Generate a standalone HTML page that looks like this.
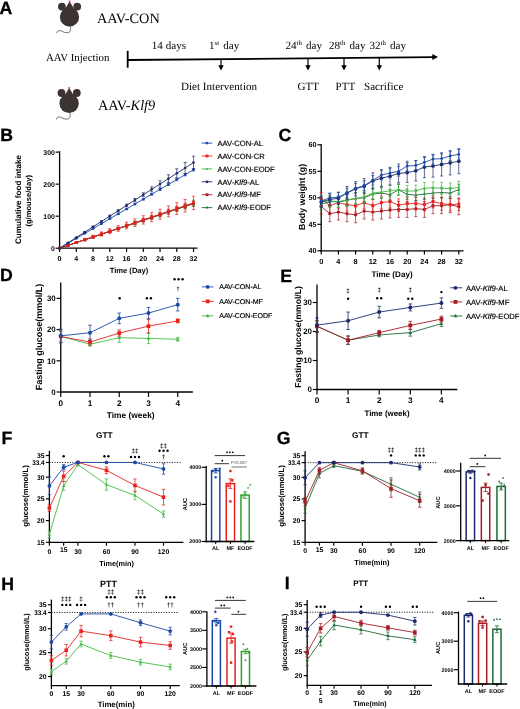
<!DOCTYPE html>
<html><head><meta charset="utf-8"><style>
html,body{margin:0;padding:0;background:#fff;}
svg{display:block;text-rendering:geometricPrecision;filter:blur(0.3px);}
.s{font-family:"Liberation Sans",sans-serif;stroke:#000;stroke-width:0.18px;}
.sb{font-family:"Liberation Sans",sans-serif;font-weight:bold;}
.sd{font-family:"Liberation Sans",sans-serif;}
.si{font-family:"Liberation Sans",sans-serif;font-style:italic;}
.r{font-family:"Liberation Serif",serif;}
</style></head><body>
<svg width="520" height="709" viewBox="0 0 520 709">
<rect width="520" height="709" fill="#fff"/>
<text class="sb" x="-0.6" y="13.6" font-size="17.7" stroke="#000" stroke-width="0.3">A</text>
<g transform="translate(0,0)" fill="#3b3431"><circle cx="61.9" cy="6.6" r="3.9"/><circle cx="77.2" cy="6.6" r="3.9"/><ellipse cx="69.5" cy="17" rx="9.65" ry="9.6"/><path d="M64.8,9.5 L68.9,2.6 Q69.6,1.6 70.3,2.6 L74.4,9.5 Z"/><path d="M70.2,26 C71.2,29.5 70.5,32.8 67,32.8 C63.5,32.8 61.5,30.3 59,30.6 C57.6,30.8 56.8,31.8 56.6,33.2" fill="none" stroke="#3b3431" stroke-width="0.7"/><circle cx="69.6" cy="1.6" r="1.1" fill="#e8409a"/></g>
<g transform="translate(-0.4,86.4)" fill="#3b3431"><circle cx="61.9" cy="6.6" r="3.9"/><circle cx="77.2" cy="6.6" r="3.9"/><ellipse cx="69.5" cy="17" rx="9.65" ry="9.6"/><path d="M64.8,9.5 L68.9,2.6 Q69.6,1.6 70.3,2.6 L74.4,9.5 Z"/><path d="M70.2,26 C71.2,29.5 70.5,32.8 67,32.8 C63.5,32.8 61.5,30.3 59,30.6 C57.6,30.8 56.8,31.8 56.6,33.2" fill="none" stroke="#3b3431" stroke-width="0.7"/><circle cx="69.6" cy="1.6" r="1.1" fill="#e8409a"/></g>
<text class="r" x="97" y="23" font-size="14.3">AAV-CON</text>
<text class="r" x="98" y="109.9" font-size="14.3">AAV-<tspan font-style="italic">Klf9</tspan></text>
<text class="r" x="46" y="60.6" font-size="10.9">AAV Injection</text>
<line x1="127.7" y1="50.8" x2="127.7" y2="67.7" stroke="#000" stroke-width="1.8"/>
<path d="M127.7,60 L433,57.2" stroke="#000" stroke-width="1.8" fill="none"/>
<polygon points="438,57.1 432.3,54.1 432.3,60.1" fill="#000"/>
<line x1="221" y1="59.3" x2="221" y2="66" stroke="#000" stroke-width="1.2"/>
<polygon points="221,70.6 218.3,65.2 223.7,65.2" fill="#000"/>
<line x1="308" y1="58.4" x2="308" y2="66" stroke="#000" stroke-width="1.2"/>
<polygon points="308,70.6 305.3,65.2 310.7,65.2" fill="#000"/>
<line x1="344" y1="58.1" x2="344" y2="66" stroke="#000" stroke-width="1.2"/>
<polygon points="344,70.6 341.3,65.2 346.7,65.2" fill="#000"/>
<line x1="379.3" y1="57.8" x2="379.3" y2="66" stroke="#000" stroke-width="1.2"/>
<polygon points="379.3,70.6 376.6,65.2 382,65.2" fill="#000"/>
<text class="r" x="151.8" y="49.2" font-size="11.1">14 days</text>
<text class="r" x="209" y="49.2" font-size="11.1">1<tspan font-size="6.8" dy="-4">st</tspan><tspan dy="4" dx="1.3"> day</tspan></text>
<text class="r" x="285.5" y="49.2" font-size="11.1">24<tspan font-size="6.8" dy="-4">th</tspan><tspan dy="4" dx="1.3"> day</tspan></text>
<text class="r" x="329" y="49.2" font-size="11.1">28<tspan font-size="6.8" dy="-4">th</tspan><tspan dy="4" dx="1.3"> day</tspan></text>
<text class="r" x="369.5" y="49.2" font-size="11.1">32<tspan font-size="6.8" dy="-4">th</tspan><tspan dy="4" dx="1.3"> day</tspan></text>
<text class="r" x="181" y="90" font-size="11.1">Diet Intervention</text>
<text class="r" x="297.5" y="90.3" font-size="11.1">GTT</text>
<text class="r" x="335.5" y="90.3" font-size="11.1">PTT</text>
<text class="r" x="364" y="90.3" font-size="11.1">Sacrifice</text>
<text class="sb" x="0.2" y="141" font-size="17.7" stroke="#000" stroke-width="0.3">B</text>
<line x1="59.6" y1="151.3" x2="59.6" y2="248.85" stroke="#000" stroke-width="1.3"/>
<line x1="55.6" y1="248.2" x2="59.6" y2="248.2" stroke="#000" stroke-width="1.17"/>
<text class="sb" x="54.8" y="250.67" font-size="6.9" text-anchor="end">0</text>
<line x1="55.6" y1="216.17" x2="59.6" y2="216.17" stroke="#000" stroke-width="1.17"/>
<text class="sb" x="54.8" y="218.64" font-size="6.9" text-anchor="end">100</text>
<line x1="55.6" y1="184.14" x2="59.6" y2="184.14" stroke="#000" stroke-width="1.17"/>
<text class="sb" x="54.8" y="186.61" font-size="6.9" text-anchor="end">200</text>
<line x1="55.6" y1="152.11" x2="59.6" y2="152.11" stroke="#000" stroke-width="1.17"/>
<text class="sb" x="54.8" y="154.58" font-size="6.9" text-anchor="end">300</text>
<line x1="58.95" y1="248.2" x2="197.5" y2="248.2" stroke="#000" stroke-width="1.3"/>
<line x1="59.6" y1="248.2" x2="59.6" y2="252" stroke="#000" stroke-width="1.17"/>
<text class="sb" x="59.6" y="260.94" font-size="7.1" text-anchor="middle">0</text>
<line x1="76.34" y1="248.2" x2="76.34" y2="252" stroke="#000" stroke-width="1.17"/>
<text class="sb" x="76.34" y="260.94" font-size="7.1" text-anchor="middle">4</text>
<line x1="93.08" y1="248.2" x2="93.08" y2="252" stroke="#000" stroke-width="1.17"/>
<text class="sb" x="93.08" y="260.94" font-size="7.1" text-anchor="middle">8</text>
<line x1="109.82" y1="248.2" x2="109.82" y2="252" stroke="#000" stroke-width="1.17"/>
<text class="sb" x="109.82" y="260.94" font-size="7.1" text-anchor="middle">12</text>
<line x1="126.56" y1="248.2" x2="126.56" y2="252" stroke="#000" stroke-width="1.17"/>
<text class="sb" x="126.56" y="260.94" font-size="7.1" text-anchor="middle">16</text>
<line x1="143.3" y1="248.2" x2="143.3" y2="252" stroke="#000" stroke-width="1.17"/>
<text class="sb" x="143.3" y="260.94" font-size="7.1" text-anchor="middle">20</text>
<line x1="160.04" y1="248.2" x2="160.04" y2="252" stroke="#000" stroke-width="1.17"/>
<text class="sb" x="160.04" y="260.94" font-size="7.1" text-anchor="middle">24</text>
<line x1="176.78" y1="248.2" x2="176.78" y2="252" stroke="#000" stroke-width="1.17"/>
<text class="sb" x="176.78" y="260.94" font-size="7.1" text-anchor="middle">28</text>
<line x1="193.52" y1="248.2" x2="193.52" y2="252" stroke="#000" stroke-width="1.17"/>
<text class="sb" x="193.52" y="260.94" font-size="7.1" text-anchor="middle">32</text>
<path d="M59.6,248.2 L67.97,245.41 L76.34,242.63 L84.71,239.84 L93.08,237.05 L101.45,234.27 L109.82,231.48 L118.19,228.69 L126.56,225.91 L134.93,223.12 L143.3,220.33 L151.67,217.55 L160.04,214.76 L168.41,211.97 L176.78,209.19 L185.15,206.4 L193.52,203.61" stroke="#44bb44" stroke-width="0.9" fill="none" stroke-linejoin="round"/>
<line x1="67.97" y1="245.29" x2="67.97" y2="245.54" stroke="#44bb44" stroke-width="0.7"/>
<line x1="66.37" y1="245.29" x2="69.57" y2="245.29" stroke="#44bb44" stroke-width="0.7"/>
<line x1="66.37" y1="245.54" x2="69.57" y2="245.54" stroke="#44bb44" stroke-width="0.7"/>
<line x1="76.34" y1="242.37" x2="76.34" y2="242.88" stroke="#44bb44" stroke-width="0.7"/>
<line x1="74.74" y1="242.37" x2="77.94" y2="242.37" stroke="#44bb44" stroke-width="0.7"/>
<line x1="74.74" y1="242.88" x2="77.94" y2="242.88" stroke="#44bb44" stroke-width="0.7"/>
<line x1="84.71" y1="239.46" x2="84.71" y2="240.22" stroke="#44bb44" stroke-width="0.7"/>
<line x1="83.11" y1="239.46" x2="86.31" y2="239.46" stroke="#44bb44" stroke-width="0.7"/>
<line x1="83.11" y1="240.22" x2="86.31" y2="240.22" stroke="#44bb44" stroke-width="0.7"/>
<line x1="93.08" y1="236.54" x2="93.08" y2="237.57" stroke="#44bb44" stroke-width="0.7"/>
<line x1="91.48" y1="236.54" x2="94.68" y2="236.54" stroke="#44bb44" stroke-width="0.7"/>
<line x1="91.48" y1="237.57" x2="94.68" y2="237.57" stroke="#44bb44" stroke-width="0.7"/>
<line x1="101.45" y1="233.63" x2="101.45" y2="234.91" stroke="#44bb44" stroke-width="0.7"/>
<line x1="99.85" y1="233.63" x2="103.05" y2="233.63" stroke="#44bb44" stroke-width="0.7"/>
<line x1="99.85" y1="234.91" x2="103.05" y2="234.91" stroke="#44bb44" stroke-width="0.7"/>
<line x1="109.82" y1="230.71" x2="109.82" y2="232.25" stroke="#44bb44" stroke-width="0.7"/>
<line x1="108.22" y1="230.71" x2="111.42" y2="230.71" stroke="#44bb44" stroke-width="0.7"/>
<line x1="108.22" y1="232.25" x2="111.42" y2="232.25" stroke="#44bb44" stroke-width="0.7"/>
<line x1="118.19" y1="227.8" x2="118.19" y2="229.59" stroke="#44bb44" stroke-width="0.7"/>
<line x1="116.59" y1="227.8" x2="119.79" y2="227.8" stroke="#44bb44" stroke-width="0.7"/>
<line x1="116.59" y1="229.59" x2="119.79" y2="229.59" stroke="#44bb44" stroke-width="0.7"/>
<line x1="126.56" y1="224.88" x2="126.56" y2="226.93" stroke="#44bb44" stroke-width="0.7"/>
<line x1="124.96" y1="224.88" x2="128.16" y2="224.88" stroke="#44bb44" stroke-width="0.7"/>
<line x1="124.96" y1="226.93" x2="128.16" y2="226.93" stroke="#44bb44" stroke-width="0.7"/>
<line x1="134.93" y1="221.97" x2="134.93" y2="224.27" stroke="#44bb44" stroke-width="0.7"/>
<line x1="133.33" y1="221.97" x2="136.53" y2="221.97" stroke="#44bb44" stroke-width="0.7"/>
<line x1="133.33" y1="224.27" x2="136.53" y2="224.27" stroke="#44bb44" stroke-width="0.7"/>
<line x1="143.3" y1="219.05" x2="143.3" y2="221.62" stroke="#44bb44" stroke-width="0.7"/>
<line x1="141.7" y1="219.05" x2="144.9" y2="219.05" stroke="#44bb44" stroke-width="0.7"/>
<line x1="141.7" y1="221.62" x2="144.9" y2="221.62" stroke="#44bb44" stroke-width="0.7"/>
<line x1="151.67" y1="216.14" x2="151.67" y2="218.96" stroke="#44bb44" stroke-width="0.7"/>
<line x1="150.07" y1="216.14" x2="153.27" y2="216.14" stroke="#44bb44" stroke-width="0.7"/>
<line x1="150.07" y1="218.96" x2="153.27" y2="218.96" stroke="#44bb44" stroke-width="0.7"/>
<line x1="160.04" y1="213.22" x2="160.04" y2="216.3" stroke="#44bb44" stroke-width="0.7"/>
<line x1="158.44" y1="213.22" x2="161.64" y2="213.22" stroke="#44bb44" stroke-width="0.7"/>
<line x1="158.44" y1="216.3" x2="161.64" y2="216.3" stroke="#44bb44" stroke-width="0.7"/>
<line x1="168.41" y1="210.31" x2="168.41" y2="213.64" stroke="#44bb44" stroke-width="0.7"/>
<line x1="166.81" y1="210.31" x2="170.01" y2="210.31" stroke="#44bb44" stroke-width="0.7"/>
<line x1="166.81" y1="213.64" x2="170.01" y2="213.64" stroke="#44bb44" stroke-width="0.7"/>
<line x1="176.78" y1="207.39" x2="176.78" y2="210.98" stroke="#44bb44" stroke-width="0.7"/>
<line x1="175.18" y1="207.39" x2="178.38" y2="207.39" stroke="#44bb44" stroke-width="0.7"/>
<line x1="175.18" y1="210.98" x2="178.38" y2="210.98" stroke="#44bb44" stroke-width="0.7"/>
<line x1="185.15" y1="204.48" x2="185.15" y2="208.32" stroke="#44bb44" stroke-width="0.7"/>
<line x1="183.55" y1="204.48" x2="186.75" y2="204.48" stroke="#44bb44" stroke-width="0.7"/>
<line x1="183.55" y1="208.32" x2="186.75" y2="208.32" stroke="#44bb44" stroke-width="0.7"/>
<line x1="193.52" y1="201.56" x2="193.52" y2="205.66" stroke="#44bb44" stroke-width="0.7"/>
<line x1="191.92" y1="201.56" x2="195.12" y2="201.56" stroke="#44bb44" stroke-width="0.7"/>
<line x1="191.92" y1="205.66" x2="195.12" y2="205.66" stroke="#44bb44" stroke-width="0.7"/>
<polygon points="59.6,246.63 61.05,249.24 58.15,249.24" fill="#44bb44"/>
<polygon points="67.97,243.85 69.42,246.46 66.52,246.46" fill="#44bb44"/>
<polygon points="76.34,241.06 77.79,243.67 74.89,243.67" fill="#44bb44"/>
<polygon points="84.71,238.27 86.16,240.88 83.26,240.88" fill="#44bb44"/>
<polygon points="93.08,235.49 94.53,238.1 91.63,238.1" fill="#44bb44"/>
<polygon points="101.45,232.7 102.9,235.31 100,235.31" fill="#44bb44"/>
<polygon points="109.82,229.91 111.27,232.52 108.37,232.52" fill="#44bb44"/>
<polygon points="118.19,227.13 119.64,229.74 116.74,229.74" fill="#44bb44"/>
<polygon points="126.56,224.34 128.01,226.95 125.11,226.95" fill="#44bb44"/>
<polygon points="134.93,221.55 136.38,224.16 133.48,224.16" fill="#44bb44"/>
<polygon points="143.3,218.77 144.75,221.38 141.85,221.38" fill="#44bb44"/>
<polygon points="151.67,215.98 153.12,218.59 150.22,218.59" fill="#44bb44"/>
<polygon points="160.04,213.19 161.49,215.8 158.59,215.8" fill="#44bb44"/>
<polygon points="168.41,210.41 169.86,213.02 166.96,213.02" fill="#44bb44"/>
<polygon points="176.78,207.62 178.23,210.23 175.33,210.23" fill="#44bb44"/>
<polygon points="185.15,204.83 186.6,207.44 183.7,207.44" fill="#44bb44"/>
<polygon points="193.52,202.05 194.97,204.66 192.07,204.66" fill="#44bb44"/>
<path d="M59.6,248.2 L67.97,245.41 L76.34,242.63 L84.71,239.84 L93.08,237.05 L101.45,234.27 L109.82,231.48 L118.19,228.69 L126.56,225.91 L134.93,223.12 L143.3,220.33 L151.67,217.55 L160.04,214.76 L168.41,211.97 L176.78,209.19 L185.15,206.4 L193.52,203.61" stroke="#1f6b37" stroke-width="0.9" fill="none" stroke-linejoin="round"/>
<line x1="67.97" y1="245.35" x2="67.97" y2="245.48" stroke="#1f6b37" stroke-width="0.7"/>
<line x1="66.37" y1="245.35" x2="69.57" y2="245.35" stroke="#1f6b37" stroke-width="0.7"/>
<line x1="66.37" y1="245.48" x2="69.57" y2="245.48" stroke="#1f6b37" stroke-width="0.7"/>
<line x1="76.34" y1="242.5" x2="76.34" y2="242.75" stroke="#1f6b37" stroke-width="0.7"/>
<line x1="74.74" y1="242.5" x2="77.94" y2="242.5" stroke="#1f6b37" stroke-width="0.7"/>
<line x1="74.74" y1="242.75" x2="77.94" y2="242.75" stroke="#1f6b37" stroke-width="0.7"/>
<line x1="84.71" y1="239.65" x2="84.71" y2="240.03" stroke="#1f6b37" stroke-width="0.7"/>
<line x1="83.11" y1="239.65" x2="86.31" y2="239.65" stroke="#1f6b37" stroke-width="0.7"/>
<line x1="83.11" y1="240.03" x2="86.31" y2="240.03" stroke="#1f6b37" stroke-width="0.7"/>
<line x1="93.08" y1="236.8" x2="93.08" y2="237.31" stroke="#1f6b37" stroke-width="0.7"/>
<line x1="91.48" y1="236.8" x2="94.68" y2="236.8" stroke="#1f6b37" stroke-width="0.7"/>
<line x1="91.48" y1="237.31" x2="94.68" y2="237.31" stroke="#1f6b37" stroke-width="0.7"/>
<line x1="101.45" y1="233.95" x2="101.45" y2="234.59" stroke="#1f6b37" stroke-width="0.7"/>
<line x1="99.85" y1="233.95" x2="103.05" y2="233.95" stroke="#1f6b37" stroke-width="0.7"/>
<line x1="99.85" y1="234.59" x2="103.05" y2="234.59" stroke="#1f6b37" stroke-width="0.7"/>
<line x1="109.82" y1="231.1" x2="109.82" y2="231.86" stroke="#1f6b37" stroke-width="0.7"/>
<line x1="108.22" y1="231.1" x2="111.42" y2="231.1" stroke="#1f6b37" stroke-width="0.7"/>
<line x1="108.22" y1="231.86" x2="111.42" y2="231.86" stroke="#1f6b37" stroke-width="0.7"/>
<line x1="118.19" y1="228.25" x2="118.19" y2="229.14" stroke="#1f6b37" stroke-width="0.7"/>
<line x1="116.59" y1="228.25" x2="119.79" y2="228.25" stroke="#1f6b37" stroke-width="0.7"/>
<line x1="116.59" y1="229.14" x2="119.79" y2="229.14" stroke="#1f6b37" stroke-width="0.7"/>
<line x1="126.56" y1="225.39" x2="126.56" y2="226.42" stroke="#1f6b37" stroke-width="0.7"/>
<line x1="124.96" y1="225.39" x2="128.16" y2="225.39" stroke="#1f6b37" stroke-width="0.7"/>
<line x1="124.96" y1="226.42" x2="128.16" y2="226.42" stroke="#1f6b37" stroke-width="0.7"/>
<line x1="134.93" y1="222.54" x2="134.93" y2="223.7" stroke="#1f6b37" stroke-width="0.7"/>
<line x1="133.33" y1="222.54" x2="136.53" y2="222.54" stroke="#1f6b37" stroke-width="0.7"/>
<line x1="133.33" y1="223.7" x2="136.53" y2="223.7" stroke="#1f6b37" stroke-width="0.7"/>
<line x1="143.3" y1="219.69" x2="143.3" y2="220.97" stroke="#1f6b37" stroke-width="0.7"/>
<line x1="141.7" y1="219.69" x2="144.9" y2="219.69" stroke="#1f6b37" stroke-width="0.7"/>
<line x1="141.7" y1="220.97" x2="144.9" y2="220.97" stroke="#1f6b37" stroke-width="0.7"/>
<line x1="151.67" y1="216.84" x2="151.67" y2="218.25" stroke="#1f6b37" stroke-width="0.7"/>
<line x1="150.07" y1="216.84" x2="153.27" y2="216.84" stroke="#1f6b37" stroke-width="0.7"/>
<line x1="150.07" y1="218.25" x2="153.27" y2="218.25" stroke="#1f6b37" stroke-width="0.7"/>
<line x1="160.04" y1="213.99" x2="160.04" y2="215.53" stroke="#1f6b37" stroke-width="0.7"/>
<line x1="158.44" y1="213.99" x2="161.64" y2="213.99" stroke="#1f6b37" stroke-width="0.7"/>
<line x1="158.44" y1="215.53" x2="161.64" y2="215.53" stroke="#1f6b37" stroke-width="0.7"/>
<line x1="168.41" y1="211.14" x2="168.41" y2="212.81" stroke="#1f6b37" stroke-width="0.7"/>
<line x1="166.81" y1="211.14" x2="170.01" y2="211.14" stroke="#1f6b37" stroke-width="0.7"/>
<line x1="166.81" y1="212.81" x2="170.01" y2="212.81" stroke="#1f6b37" stroke-width="0.7"/>
<line x1="176.78" y1="208.29" x2="176.78" y2="210.08" stroke="#1f6b37" stroke-width="0.7"/>
<line x1="175.18" y1="208.29" x2="178.38" y2="208.29" stroke="#1f6b37" stroke-width="0.7"/>
<line x1="175.18" y1="210.08" x2="178.38" y2="210.08" stroke="#1f6b37" stroke-width="0.7"/>
<line x1="185.15" y1="205.44" x2="185.15" y2="207.36" stroke="#1f6b37" stroke-width="0.7"/>
<line x1="183.55" y1="205.44" x2="186.75" y2="205.44" stroke="#1f6b37" stroke-width="0.7"/>
<line x1="183.55" y1="207.36" x2="186.75" y2="207.36" stroke="#1f6b37" stroke-width="0.7"/>
<line x1="193.52" y1="202.59" x2="193.52" y2="204.64" stroke="#1f6b37" stroke-width="0.7"/>
<line x1="191.92" y1="202.59" x2="195.12" y2="202.59" stroke="#1f6b37" stroke-width="0.7"/>
<line x1="191.92" y1="204.64" x2="195.12" y2="204.64" stroke="#1f6b37" stroke-width="0.7"/>
<polygon points="59.6,246.63 61.05,249.24 58.15,249.24" fill="#1f6b37"/>
<polygon points="67.97,243.85 69.42,246.46 66.52,246.46" fill="#1f6b37"/>
<polygon points="76.34,241.06 77.79,243.67 74.89,243.67" fill="#1f6b37"/>
<polygon points="84.71,238.27 86.16,240.88 83.26,240.88" fill="#1f6b37"/>
<polygon points="93.08,235.49 94.53,238.1 91.63,238.1" fill="#1f6b37"/>
<polygon points="101.45,232.7 102.9,235.31 100,235.31" fill="#1f6b37"/>
<polygon points="109.82,229.91 111.27,232.52 108.37,232.52" fill="#1f6b37"/>
<polygon points="118.19,227.13 119.64,229.74 116.74,229.74" fill="#1f6b37"/>
<polygon points="126.56,224.34 128.01,226.95 125.11,226.95" fill="#1f6b37"/>
<polygon points="134.93,221.55 136.38,224.16 133.48,224.16" fill="#1f6b37"/>
<polygon points="143.3,218.77 144.75,221.38 141.85,221.38" fill="#1f6b37"/>
<polygon points="151.67,215.98 153.12,218.59 150.22,218.59" fill="#1f6b37"/>
<polygon points="160.04,213.19 161.49,215.8 158.59,215.8" fill="#1f6b37"/>
<polygon points="168.41,210.41 169.86,213.02 166.96,213.02" fill="#1f6b37"/>
<polygon points="176.78,207.62 178.23,210.23 175.33,210.23" fill="#1f6b37"/>
<polygon points="185.15,204.83 186.6,207.44 183.7,207.44" fill="#1f6b37"/>
<polygon points="193.52,202.05 194.97,204.66 192.07,204.66" fill="#1f6b37"/>
<path d="M59.6,248.2 L67.97,245.39 L76.34,242.59 L84.71,239.78 L93.08,236.98 L101.45,234.17 L109.82,231.37 L118.19,228.56 L126.56,225.75 L134.93,222.95 L143.3,220.14 L151.67,217.34 L160.04,214.53 L168.41,211.72 L176.78,208.92 L185.15,206.11 L193.52,203.31" stroke="#a51c24" stroke-width="0.9" fill="none" stroke-linejoin="round"/>
<line x1="67.97" y1="245.2" x2="67.97" y2="245.59" stroke="#a51c24" stroke-width="0.7"/>
<line x1="66.37" y1="245.2" x2="69.57" y2="245.2" stroke="#a51c24" stroke-width="0.7"/>
<line x1="66.37" y1="245.59" x2="69.57" y2="245.59" stroke="#a51c24" stroke-width="0.7"/>
<line x1="76.34" y1="242.2" x2="76.34" y2="242.97" stroke="#a51c24" stroke-width="0.7"/>
<line x1="74.74" y1="242.2" x2="77.94" y2="242.2" stroke="#a51c24" stroke-width="0.7"/>
<line x1="74.74" y1="242.97" x2="77.94" y2="242.97" stroke="#a51c24" stroke-width="0.7"/>
<line x1="84.71" y1="239.21" x2="84.71" y2="240.36" stroke="#a51c24" stroke-width="0.7"/>
<line x1="83.11" y1="239.21" x2="86.31" y2="239.21" stroke="#a51c24" stroke-width="0.7"/>
<line x1="83.11" y1="240.36" x2="86.31" y2="240.36" stroke="#a51c24" stroke-width="0.7"/>
<line x1="93.08" y1="236.21" x2="93.08" y2="237.75" stroke="#a51c24" stroke-width="0.7"/>
<line x1="91.48" y1="236.21" x2="94.68" y2="236.21" stroke="#a51c24" stroke-width="0.7"/>
<line x1="91.48" y1="237.75" x2="94.68" y2="237.75" stroke="#a51c24" stroke-width="0.7"/>
<line x1="101.45" y1="233.21" x2="101.45" y2="235.13" stroke="#a51c24" stroke-width="0.7"/>
<line x1="99.85" y1="233.21" x2="103.05" y2="233.21" stroke="#a51c24" stroke-width="0.7"/>
<line x1="99.85" y1="235.13" x2="103.05" y2="235.13" stroke="#a51c24" stroke-width="0.7"/>
<line x1="109.82" y1="230.21" x2="109.82" y2="232.52" stroke="#a51c24" stroke-width="0.7"/>
<line x1="108.22" y1="230.21" x2="111.42" y2="230.21" stroke="#a51c24" stroke-width="0.7"/>
<line x1="108.22" y1="232.52" x2="111.42" y2="232.52" stroke="#a51c24" stroke-width="0.7"/>
<line x1="118.19" y1="227.21" x2="118.19" y2="229.9" stroke="#a51c24" stroke-width="0.7"/>
<line x1="116.59" y1="227.21" x2="119.79" y2="227.21" stroke="#a51c24" stroke-width="0.7"/>
<line x1="116.59" y1="229.9" x2="119.79" y2="229.9" stroke="#a51c24" stroke-width="0.7"/>
<line x1="126.56" y1="224.22" x2="126.56" y2="227.29" stroke="#a51c24" stroke-width="0.7"/>
<line x1="124.96" y1="224.22" x2="128.16" y2="224.22" stroke="#a51c24" stroke-width="0.7"/>
<line x1="124.96" y1="227.29" x2="128.16" y2="227.29" stroke="#a51c24" stroke-width="0.7"/>
<line x1="134.93" y1="221.22" x2="134.93" y2="224.68" stroke="#a51c24" stroke-width="0.7"/>
<line x1="133.33" y1="221.22" x2="136.53" y2="221.22" stroke="#a51c24" stroke-width="0.7"/>
<line x1="133.33" y1="224.68" x2="136.53" y2="224.68" stroke="#a51c24" stroke-width="0.7"/>
<line x1="143.3" y1="218.22" x2="143.3" y2="222.06" stroke="#a51c24" stroke-width="0.7"/>
<line x1="141.7" y1="218.22" x2="144.9" y2="218.22" stroke="#a51c24" stroke-width="0.7"/>
<line x1="141.7" y1="222.06" x2="144.9" y2="222.06" stroke="#a51c24" stroke-width="0.7"/>
<line x1="151.67" y1="215.22" x2="151.67" y2="219.45" stroke="#a51c24" stroke-width="0.7"/>
<line x1="150.07" y1="215.22" x2="153.27" y2="215.22" stroke="#a51c24" stroke-width="0.7"/>
<line x1="150.07" y1="219.45" x2="153.27" y2="219.45" stroke="#a51c24" stroke-width="0.7"/>
<line x1="160.04" y1="212.22" x2="160.04" y2="216.84" stroke="#a51c24" stroke-width="0.7"/>
<line x1="158.44" y1="212.22" x2="161.64" y2="212.22" stroke="#a51c24" stroke-width="0.7"/>
<line x1="158.44" y1="216.84" x2="161.64" y2="216.84" stroke="#a51c24" stroke-width="0.7"/>
<line x1="168.41" y1="209.23" x2="168.41" y2="214.22" stroke="#a51c24" stroke-width="0.7"/>
<line x1="166.81" y1="209.23" x2="170.01" y2="209.23" stroke="#a51c24" stroke-width="0.7"/>
<line x1="166.81" y1="214.22" x2="170.01" y2="214.22" stroke="#a51c24" stroke-width="0.7"/>
<line x1="176.78" y1="206.23" x2="176.78" y2="211.61" stroke="#a51c24" stroke-width="0.7"/>
<line x1="175.18" y1="206.23" x2="178.38" y2="206.23" stroke="#a51c24" stroke-width="0.7"/>
<line x1="175.18" y1="211.61" x2="178.38" y2="211.61" stroke="#a51c24" stroke-width="0.7"/>
<line x1="185.15" y1="203.23" x2="185.15" y2="209" stroke="#a51c24" stroke-width="0.7"/>
<line x1="183.55" y1="203.23" x2="186.75" y2="203.23" stroke="#a51c24" stroke-width="0.7"/>
<line x1="183.55" y1="209" x2="186.75" y2="209" stroke="#a51c24" stroke-width="0.7"/>
<line x1="193.52" y1="200.23" x2="193.52" y2="206.38" stroke="#a51c24" stroke-width="0.7"/>
<line x1="191.92" y1="200.23" x2="195.12" y2="200.23" stroke="#a51c24" stroke-width="0.7"/>
<line x1="191.92" y1="206.38" x2="195.12" y2="206.38" stroke="#a51c24" stroke-width="0.7"/>
<rect x="58.15" y="246.75" width="2.9" height="2.9" fill="#a51c24"/>
<rect x="66.52" y="243.94" width="2.9" height="2.9" fill="#a51c24"/>
<rect x="74.89" y="241.14" width="2.9" height="2.9" fill="#a51c24"/>
<rect x="83.26" y="238.33" width="2.9" height="2.9" fill="#a51c24"/>
<rect x="91.63" y="235.53" width="2.9" height="2.9" fill="#a51c24"/>
<rect x="100" y="232.72" width="2.9" height="2.9" fill="#a51c24"/>
<rect x="108.37" y="229.92" width="2.9" height="2.9" fill="#a51c24"/>
<rect x="116.74" y="227.11" width="2.9" height="2.9" fill="#a51c24"/>
<rect x="125.11" y="224.3" width="2.9" height="2.9" fill="#a51c24"/>
<rect x="133.48" y="221.5" width="2.9" height="2.9" fill="#a51c24"/>
<rect x="141.85" y="218.69" width="2.9" height="2.9" fill="#a51c24"/>
<rect x="150.22" y="215.89" width="2.9" height="2.9" fill="#a51c24"/>
<rect x="158.59" y="213.08" width="2.9" height="2.9" fill="#a51c24"/>
<rect x="166.96" y="210.27" width="2.9" height="2.9" fill="#a51c24"/>
<rect x="175.33" y="207.47" width="2.9" height="2.9" fill="#a51c24"/>
<rect x="183.7" y="204.66" width="2.9" height="2.9" fill="#a51c24"/>
<rect x="192.07" y="201.86" width="2.9" height="2.9" fill="#a51c24"/>
<path d="M59.6,248.2 L67.97,245.37 L76.34,242.54 L84.71,239.71 L93.08,236.87 L101.45,234.04 L109.82,231.21 L118.19,228.38 L126.56,225.55 L134.93,222.72 L143.3,219.89 L151.67,217.05 L160.04,214.22 L168.41,211.39 L176.78,208.56 L185.15,205.73 L193.52,202.9" stroke="#e8231f" stroke-width="0.9" fill="none" stroke-linejoin="round"/>
<line x1="67.97" y1="244.95" x2="67.97" y2="245.78" stroke="#e8231f" stroke-width="0.7"/>
<line x1="66.37" y1="244.95" x2="69.57" y2="244.95" stroke="#e8231f" stroke-width="0.7"/>
<line x1="66.37" y1="245.78" x2="69.57" y2="245.78" stroke="#e8231f" stroke-width="0.7"/>
<line x1="76.34" y1="241.7" x2="76.34" y2="243.37" stroke="#e8231f" stroke-width="0.7"/>
<line x1="74.74" y1="241.7" x2="77.94" y2="241.7" stroke="#e8231f" stroke-width="0.7"/>
<line x1="74.74" y1="243.37" x2="77.94" y2="243.37" stroke="#e8231f" stroke-width="0.7"/>
<line x1="84.71" y1="238.46" x2="84.71" y2="240.95" stroke="#e8231f" stroke-width="0.7"/>
<line x1="83.11" y1="238.46" x2="86.31" y2="238.46" stroke="#e8231f" stroke-width="0.7"/>
<line x1="83.11" y1="240.95" x2="86.31" y2="240.95" stroke="#e8231f" stroke-width="0.7"/>
<line x1="93.08" y1="235.21" x2="93.08" y2="238.54" stroke="#e8231f" stroke-width="0.7"/>
<line x1="91.48" y1="235.21" x2="94.68" y2="235.21" stroke="#e8231f" stroke-width="0.7"/>
<line x1="91.48" y1="238.54" x2="94.68" y2="238.54" stroke="#e8231f" stroke-width="0.7"/>
<line x1="101.45" y1="231.96" x2="101.45" y2="236.12" stroke="#e8231f" stroke-width="0.7"/>
<line x1="99.85" y1="231.96" x2="103.05" y2="231.96" stroke="#e8231f" stroke-width="0.7"/>
<line x1="99.85" y1="236.12" x2="103.05" y2="236.12" stroke="#e8231f" stroke-width="0.7"/>
<line x1="109.82" y1="228.71" x2="109.82" y2="233.71" stroke="#e8231f" stroke-width="0.7"/>
<line x1="108.22" y1="228.71" x2="111.42" y2="228.71" stroke="#e8231f" stroke-width="0.7"/>
<line x1="108.22" y1="233.71" x2="111.42" y2="233.71" stroke="#e8231f" stroke-width="0.7"/>
<line x1="118.19" y1="225.47" x2="118.19" y2="231.29" stroke="#e8231f" stroke-width="0.7"/>
<line x1="116.59" y1="225.47" x2="119.79" y2="225.47" stroke="#e8231f" stroke-width="0.7"/>
<line x1="116.59" y1="231.29" x2="119.79" y2="231.29" stroke="#e8231f" stroke-width="0.7"/>
<line x1="126.56" y1="222.22" x2="126.56" y2="228.88" stroke="#e8231f" stroke-width="0.7"/>
<line x1="124.96" y1="222.22" x2="128.16" y2="222.22" stroke="#e8231f" stroke-width="0.7"/>
<line x1="124.96" y1="228.88" x2="128.16" y2="228.88" stroke="#e8231f" stroke-width="0.7"/>
<line x1="134.93" y1="218.97" x2="134.93" y2="226.46" stroke="#e8231f" stroke-width="0.7"/>
<line x1="133.33" y1="218.97" x2="136.53" y2="218.97" stroke="#e8231f" stroke-width="0.7"/>
<line x1="133.33" y1="226.46" x2="136.53" y2="226.46" stroke="#e8231f" stroke-width="0.7"/>
<line x1="143.3" y1="215.72" x2="143.3" y2="224.05" stroke="#e8231f" stroke-width="0.7"/>
<line x1="141.7" y1="215.72" x2="144.9" y2="215.72" stroke="#e8231f" stroke-width="0.7"/>
<line x1="141.7" y1="224.05" x2="144.9" y2="224.05" stroke="#e8231f" stroke-width="0.7"/>
<line x1="151.67" y1="212.47" x2="151.67" y2="221.63" stroke="#e8231f" stroke-width="0.7"/>
<line x1="150.07" y1="212.47" x2="153.27" y2="212.47" stroke="#e8231f" stroke-width="0.7"/>
<line x1="150.07" y1="221.63" x2="153.27" y2="221.63" stroke="#e8231f" stroke-width="0.7"/>
<line x1="160.04" y1="209.23" x2="160.04" y2="219.22" stroke="#e8231f" stroke-width="0.7"/>
<line x1="158.44" y1="209.23" x2="161.64" y2="209.23" stroke="#e8231f" stroke-width="0.7"/>
<line x1="158.44" y1="219.22" x2="161.64" y2="219.22" stroke="#e8231f" stroke-width="0.7"/>
<line x1="168.41" y1="205.98" x2="168.41" y2="216.8" stroke="#e8231f" stroke-width="0.7"/>
<line x1="166.81" y1="205.98" x2="170.01" y2="205.98" stroke="#e8231f" stroke-width="0.7"/>
<line x1="166.81" y1="216.8" x2="170.01" y2="216.8" stroke="#e8231f" stroke-width="0.7"/>
<line x1="176.78" y1="202.73" x2="176.78" y2="214.39" stroke="#e8231f" stroke-width="0.7"/>
<line x1="175.18" y1="202.73" x2="178.38" y2="202.73" stroke="#e8231f" stroke-width="0.7"/>
<line x1="175.18" y1="214.39" x2="178.38" y2="214.39" stroke="#e8231f" stroke-width="0.7"/>
<line x1="185.15" y1="199.48" x2="185.15" y2="211.97" stroke="#e8231f" stroke-width="0.7"/>
<line x1="183.55" y1="199.48" x2="186.75" y2="199.48" stroke="#e8231f" stroke-width="0.7"/>
<line x1="183.55" y1="211.97" x2="186.75" y2="211.97" stroke="#e8231f" stroke-width="0.7"/>
<line x1="193.52" y1="196.23" x2="193.52" y2="209.56" stroke="#e8231f" stroke-width="0.7"/>
<line x1="191.92" y1="196.23" x2="195.12" y2="196.23" stroke="#e8231f" stroke-width="0.7"/>
<line x1="191.92" y1="209.56" x2="195.12" y2="209.56" stroke="#e8231f" stroke-width="0.7"/>
<rect x="58.15" y="246.75" width="2.9" height="2.9" fill="#e8231f"/>
<rect x="66.52" y="243.92" width="2.9" height="2.9" fill="#e8231f"/>
<rect x="74.89" y="241.09" width="2.9" height="2.9" fill="#e8231f"/>
<rect x="83.26" y="238.26" width="2.9" height="2.9" fill="#e8231f"/>
<rect x="91.63" y="235.42" width="2.9" height="2.9" fill="#e8231f"/>
<rect x="100" y="232.59" width="2.9" height="2.9" fill="#e8231f"/>
<rect x="108.37" y="229.76" width="2.9" height="2.9" fill="#e8231f"/>
<rect x="116.74" y="226.93" width="2.9" height="2.9" fill="#e8231f"/>
<rect x="125.11" y="224.1" width="2.9" height="2.9" fill="#e8231f"/>
<rect x="133.48" y="221.27" width="2.9" height="2.9" fill="#e8231f"/>
<rect x="141.85" y="218.44" width="2.9" height="2.9" fill="#e8231f"/>
<rect x="150.22" y="215.6" width="2.9" height="2.9" fill="#e8231f"/>
<rect x="158.59" y="212.77" width="2.9" height="2.9" fill="#e8231f"/>
<rect x="166.96" y="209.94" width="2.9" height="2.9" fill="#e8231f"/>
<rect x="175.33" y="207.11" width="2.9" height="2.9" fill="#e8231f"/>
<rect x="183.7" y="204.28" width="2.9" height="2.9" fill="#e8231f"/>
<rect x="192.07" y="201.45" width="2.9" height="2.9" fill="#e8231f"/>
<path d="M59.6,248.2 L67.97,243.3 L76.34,238.4 L84.71,233.5 L93.08,228.6 L101.45,223.7 L109.82,218.8 L118.19,213.9 L126.56,209 L134.93,204.09 L143.3,199.19 L151.67,194.29 L160.04,189.39 L168.41,184.49 L176.78,179.59 L185.15,174.69 L193.52,169.79" stroke="#1b48a6" stroke-width="0.9" fill="none" stroke-linejoin="round"/>
<line x1="67.97" y1="243.22" x2="67.97" y2="243.38" stroke="#1b48a6" stroke-width="0.7"/>
<line x1="66.37" y1="243.22" x2="69.57" y2="243.22" stroke="#1b48a6" stroke-width="0.7"/>
<line x1="66.37" y1="243.38" x2="69.57" y2="243.38" stroke="#1b48a6" stroke-width="0.7"/>
<line x1="76.34" y1="238.25" x2="76.34" y2="238.55" stroke="#1b48a6" stroke-width="0.7"/>
<line x1="74.74" y1="238.25" x2="77.94" y2="238.25" stroke="#1b48a6" stroke-width="0.7"/>
<line x1="74.74" y1="238.55" x2="77.94" y2="238.55" stroke="#1b48a6" stroke-width="0.7"/>
<line x1="84.71" y1="233.27" x2="84.71" y2="233.73" stroke="#1b48a6" stroke-width="0.7"/>
<line x1="83.11" y1="233.27" x2="86.31" y2="233.27" stroke="#1b48a6" stroke-width="0.7"/>
<line x1="83.11" y1="233.73" x2="86.31" y2="233.73" stroke="#1b48a6" stroke-width="0.7"/>
<line x1="93.08" y1="228.29" x2="93.08" y2="228.91" stroke="#1b48a6" stroke-width="0.7"/>
<line x1="91.48" y1="228.29" x2="94.68" y2="228.29" stroke="#1b48a6" stroke-width="0.7"/>
<line x1="91.48" y1="228.91" x2="94.68" y2="228.91" stroke="#1b48a6" stroke-width="0.7"/>
<line x1="101.45" y1="223.31" x2="101.45" y2="224.08" stroke="#1b48a6" stroke-width="0.7"/>
<line x1="99.85" y1="223.31" x2="103.05" y2="223.31" stroke="#1b48a6" stroke-width="0.7"/>
<line x1="99.85" y1="224.08" x2="103.05" y2="224.08" stroke="#1b48a6" stroke-width="0.7"/>
<line x1="109.82" y1="218.34" x2="109.82" y2="219.26" stroke="#1b48a6" stroke-width="0.7"/>
<line x1="108.22" y1="218.34" x2="111.42" y2="218.34" stroke="#1b48a6" stroke-width="0.7"/>
<line x1="108.22" y1="219.26" x2="111.42" y2="219.26" stroke="#1b48a6" stroke-width="0.7"/>
<line x1="118.19" y1="213.36" x2="118.19" y2="214.43" stroke="#1b48a6" stroke-width="0.7"/>
<line x1="116.59" y1="213.36" x2="119.79" y2="213.36" stroke="#1b48a6" stroke-width="0.7"/>
<line x1="116.59" y1="214.43" x2="119.79" y2="214.43" stroke="#1b48a6" stroke-width="0.7"/>
<line x1="126.56" y1="208.38" x2="126.56" y2="209.61" stroke="#1b48a6" stroke-width="0.7"/>
<line x1="124.96" y1="208.38" x2="128.16" y2="208.38" stroke="#1b48a6" stroke-width="0.7"/>
<line x1="124.96" y1="209.61" x2="128.16" y2="209.61" stroke="#1b48a6" stroke-width="0.7"/>
<line x1="134.93" y1="203.4" x2="134.93" y2="204.79" stroke="#1b48a6" stroke-width="0.7"/>
<line x1="133.33" y1="203.4" x2="136.53" y2="203.4" stroke="#1b48a6" stroke-width="0.7"/>
<line x1="133.33" y1="204.79" x2="136.53" y2="204.79" stroke="#1b48a6" stroke-width="0.7"/>
<line x1="143.3" y1="198.43" x2="143.3" y2="199.96" stroke="#1b48a6" stroke-width="0.7"/>
<line x1="141.7" y1="198.43" x2="144.9" y2="198.43" stroke="#1b48a6" stroke-width="0.7"/>
<line x1="141.7" y1="199.96" x2="144.9" y2="199.96" stroke="#1b48a6" stroke-width="0.7"/>
<line x1="151.67" y1="193.45" x2="151.67" y2="195.14" stroke="#1b48a6" stroke-width="0.7"/>
<line x1="150.07" y1="193.45" x2="153.27" y2="193.45" stroke="#1b48a6" stroke-width="0.7"/>
<line x1="150.07" y1="195.14" x2="153.27" y2="195.14" stroke="#1b48a6" stroke-width="0.7"/>
<line x1="160.04" y1="188.47" x2="160.04" y2="190.32" stroke="#1b48a6" stroke-width="0.7"/>
<line x1="158.44" y1="188.47" x2="161.64" y2="188.47" stroke="#1b48a6" stroke-width="0.7"/>
<line x1="158.44" y1="190.32" x2="161.64" y2="190.32" stroke="#1b48a6" stroke-width="0.7"/>
<line x1="168.41" y1="183.49" x2="168.41" y2="185.49" stroke="#1b48a6" stroke-width="0.7"/>
<line x1="166.81" y1="183.49" x2="170.01" y2="183.49" stroke="#1b48a6" stroke-width="0.7"/>
<line x1="166.81" y1="185.49" x2="170.01" y2="185.49" stroke="#1b48a6" stroke-width="0.7"/>
<line x1="176.78" y1="178.52" x2="176.78" y2="180.67" stroke="#1b48a6" stroke-width="0.7"/>
<line x1="175.18" y1="178.52" x2="178.38" y2="178.52" stroke="#1b48a6" stroke-width="0.7"/>
<line x1="175.18" y1="180.67" x2="178.38" y2="180.67" stroke="#1b48a6" stroke-width="0.7"/>
<line x1="185.15" y1="173.54" x2="185.15" y2="175.84" stroke="#1b48a6" stroke-width="0.7"/>
<line x1="183.55" y1="173.54" x2="186.75" y2="173.54" stroke="#1b48a6" stroke-width="0.7"/>
<line x1="183.55" y1="175.84" x2="186.75" y2="175.84" stroke="#1b48a6" stroke-width="0.7"/>
<line x1="193.52" y1="168.56" x2="193.52" y2="171.02" stroke="#1b48a6" stroke-width="0.7"/>
<line x1="191.92" y1="168.56" x2="195.12" y2="168.56" stroke="#1b48a6" stroke-width="0.7"/>
<line x1="191.92" y1="171.02" x2="195.12" y2="171.02" stroke="#1b48a6" stroke-width="0.7"/>
<circle cx="59.6" cy="248.2" r="1.3" fill="#1b48a6"/>
<circle cx="67.97" cy="243.3" r="1.3" fill="#1b48a6"/>
<circle cx="76.34" cy="238.4" r="1.3" fill="#1b48a6"/>
<circle cx="84.71" cy="233.5" r="1.3" fill="#1b48a6"/>
<circle cx="93.08" cy="228.6" r="1.3" fill="#1b48a6"/>
<circle cx="101.45" cy="223.7" r="1.3" fill="#1b48a6"/>
<circle cx="109.82" cy="218.8" r="1.3" fill="#1b48a6"/>
<circle cx="118.19" cy="213.9" r="1.3" fill="#1b48a6"/>
<circle cx="126.56" cy="209" r="1.3" fill="#1b48a6"/>
<circle cx="134.93" cy="204.09" r="1.3" fill="#1b48a6"/>
<circle cx="143.3" cy="199.19" r="1.3" fill="#1b48a6"/>
<circle cx="151.67" cy="194.29" r="1.3" fill="#1b48a6"/>
<circle cx="160.04" cy="189.39" r="1.3" fill="#1b48a6"/>
<circle cx="168.41" cy="184.49" r="1.3" fill="#1b48a6"/>
<circle cx="176.78" cy="179.59" r="1.3" fill="#1b48a6"/>
<circle cx="185.15" cy="174.69" r="1.3" fill="#1b48a6"/>
<circle cx="193.52" cy="169.79" r="1.3" fill="#1b48a6"/>
<path d="M59.6,248.2 L67.97,242.85 L76.34,237.5 L84.71,232.15 L93.08,226.8 L101.45,221.45 L109.82,216.11 L118.19,210.76 L126.56,205.41 L134.93,200.06 L143.3,194.71 L151.67,189.36 L160.04,184.01 L168.41,178.66 L176.78,173.31 L185.15,167.96 L193.52,162.62" stroke="#1d2a6b" stroke-width="0.9" fill="none" stroke-linejoin="round"/>
<line x1="76.34" y1="237.18" x2="76.34" y2="237.82" stroke="#1d2a6b" stroke-width="0.7"/>
<line x1="74.74" y1="237.18" x2="77.94" y2="237.18" stroke="#1d2a6b" stroke-width="0.7"/>
<line x1="74.74" y1="237.82" x2="77.94" y2="237.82" stroke="#1d2a6b" stroke-width="0.7"/>
<line x1="84.71" y1="231.83" x2="84.71" y2="232.47" stroke="#1d2a6b" stroke-width="0.7"/>
<line x1="83.11" y1="231.83" x2="86.31" y2="231.83" stroke="#1d2a6b" stroke-width="0.7"/>
<line x1="83.11" y1="232.47" x2="86.31" y2="232.47" stroke="#1d2a6b" stroke-width="0.7"/>
<line x1="93.08" y1="226.16" x2="93.08" y2="227.44" stroke="#1d2a6b" stroke-width="0.7"/>
<line x1="91.48" y1="226.16" x2="94.68" y2="226.16" stroke="#1d2a6b" stroke-width="0.7"/>
<line x1="91.48" y1="227.44" x2="94.68" y2="227.44" stroke="#1d2a6b" stroke-width="0.7"/>
<line x1="101.45" y1="220.81" x2="101.45" y2="222.1" stroke="#1d2a6b" stroke-width="0.7"/>
<line x1="99.85" y1="220.81" x2="103.05" y2="220.81" stroke="#1d2a6b" stroke-width="0.7"/>
<line x1="99.85" y1="222.1" x2="103.05" y2="222.1" stroke="#1d2a6b" stroke-width="0.7"/>
<line x1="109.82" y1="215.15" x2="109.82" y2="217.07" stroke="#1d2a6b" stroke-width="0.7"/>
<line x1="108.22" y1="215.15" x2="111.42" y2="215.15" stroke="#1d2a6b" stroke-width="0.7"/>
<line x1="108.22" y1="217.07" x2="111.42" y2="217.07" stroke="#1d2a6b" stroke-width="0.7"/>
<line x1="118.19" y1="209.8" x2="118.19" y2="211.72" stroke="#1d2a6b" stroke-width="0.7"/>
<line x1="116.59" y1="209.8" x2="119.79" y2="209.8" stroke="#1d2a6b" stroke-width="0.7"/>
<line x1="116.59" y1="211.72" x2="119.79" y2="211.72" stroke="#1d2a6b" stroke-width="0.7"/>
<line x1="126.56" y1="204.13" x2="126.56" y2="206.69" stroke="#1d2a6b" stroke-width="0.7"/>
<line x1="124.96" y1="204.13" x2="128.16" y2="204.13" stroke="#1d2a6b" stroke-width="0.7"/>
<line x1="124.96" y1="206.69" x2="128.16" y2="206.69" stroke="#1d2a6b" stroke-width="0.7"/>
<line x1="134.93" y1="198.46" x2="134.93" y2="201.66" stroke="#1d2a6b" stroke-width="0.7"/>
<line x1="133.33" y1="198.46" x2="136.53" y2="198.46" stroke="#1d2a6b" stroke-width="0.7"/>
<line x1="133.33" y1="201.66" x2="136.53" y2="201.66" stroke="#1d2a6b" stroke-width="0.7"/>
<line x1="143.3" y1="192.79" x2="143.3" y2="196.63" stroke="#1d2a6b" stroke-width="0.7"/>
<line x1="141.7" y1="192.79" x2="144.9" y2="192.79" stroke="#1d2a6b" stroke-width="0.7"/>
<line x1="141.7" y1="196.63" x2="144.9" y2="196.63" stroke="#1d2a6b" stroke-width="0.7"/>
<line x1="151.67" y1="186.8" x2="151.67" y2="191.92" stroke="#1d2a6b" stroke-width="0.7"/>
<line x1="150.07" y1="186.8" x2="153.27" y2="186.8" stroke="#1d2a6b" stroke-width="0.7"/>
<line x1="150.07" y1="191.92" x2="153.27" y2="191.92" stroke="#1d2a6b" stroke-width="0.7"/>
<line x1="160.04" y1="180.81" x2="160.04" y2="187.21" stroke="#1d2a6b" stroke-width="0.7"/>
<line x1="158.44" y1="180.81" x2="161.64" y2="180.81" stroke="#1d2a6b" stroke-width="0.7"/>
<line x1="158.44" y1="187.21" x2="161.64" y2="187.21" stroke="#1d2a6b" stroke-width="0.7"/>
<line x1="168.41" y1="174.82" x2="168.41" y2="182.51" stroke="#1d2a6b" stroke-width="0.7"/>
<line x1="166.81" y1="174.82" x2="170.01" y2="174.82" stroke="#1d2a6b" stroke-width="0.7"/>
<line x1="166.81" y1="182.51" x2="170.01" y2="182.51" stroke="#1d2a6b" stroke-width="0.7"/>
<line x1="176.78" y1="168.83" x2="176.78" y2="177.8" stroke="#1d2a6b" stroke-width="0.7"/>
<line x1="175.18" y1="168.83" x2="178.38" y2="168.83" stroke="#1d2a6b" stroke-width="0.7"/>
<line x1="175.18" y1="177.8" x2="178.38" y2="177.8" stroke="#1d2a6b" stroke-width="0.7"/>
<line x1="185.15" y1="162.52" x2="185.15" y2="173.41" stroke="#1d2a6b" stroke-width="0.7"/>
<line x1="183.55" y1="162.52" x2="186.75" y2="162.52" stroke="#1d2a6b" stroke-width="0.7"/>
<line x1="183.55" y1="173.41" x2="186.75" y2="173.41" stroke="#1d2a6b" stroke-width="0.7"/>
<line x1="193.52" y1="156.21" x2="193.52" y2="169.02" stroke="#1d2a6b" stroke-width="0.7"/>
<line x1="191.92" y1="156.21" x2="195.12" y2="156.21" stroke="#1d2a6b" stroke-width="0.7"/>
<line x1="191.92" y1="169.02" x2="195.12" y2="169.02" stroke="#1d2a6b" stroke-width="0.7"/>
<circle cx="59.6" cy="248.2" r="1.3" fill="#1d2a6b"/>
<circle cx="67.97" cy="242.85" r="1.3" fill="#1d2a6b"/>
<circle cx="76.34" cy="237.5" r="1.3" fill="#1d2a6b"/>
<circle cx="84.71" cy="232.15" r="1.3" fill="#1d2a6b"/>
<circle cx="93.08" cy="226.8" r="1.3" fill="#1d2a6b"/>
<circle cx="101.45" cy="221.45" r="1.3" fill="#1d2a6b"/>
<circle cx="109.82" cy="216.11" r="1.3" fill="#1d2a6b"/>
<circle cx="118.19" cy="210.76" r="1.3" fill="#1d2a6b"/>
<circle cx="126.56" cy="205.41" r="1.3" fill="#1d2a6b"/>
<circle cx="134.93" cy="200.06" r="1.3" fill="#1d2a6b"/>
<circle cx="143.3" cy="194.71" r="1.3" fill="#1d2a6b"/>
<circle cx="151.67" cy="189.36" r="1.3" fill="#1d2a6b"/>
<circle cx="160.04" cy="184.01" r="1.3" fill="#1d2a6b"/>
<circle cx="168.41" cy="178.66" r="1.3" fill="#1d2a6b"/>
<circle cx="176.78" cy="173.31" r="1.3" fill="#1d2a6b"/>
<circle cx="185.15" cy="167.96" r="1.3" fill="#1d2a6b"/>
<circle cx="193.52" cy="162.62" r="1.3" fill="#1d2a6b"/>
<text class="sb" x="129" y="272.92" font-size="7.6" text-anchor="middle">Time (Day)</text>
<text class="sb" x="21.1" y="199.5" font-size="8.1" text-anchor="middle" transform="rotate(-90 21.1 199.5)">Cumulative food intake</text>
<text class="sb" x="31.02" y="200.8" font-size="7.6" text-anchor="middle" transform="rotate(-90 31.02 200.8)">(g/mouse/day)</text>
<line x1="201.7" y1="143.1" x2="212.3" y2="143.1" stroke="#1b48a6" stroke-width="0.9"/>
<circle cx="207" cy="143.1" r="1.4" fill="#1b48a6"/>
<text class="s" x="217.5" y="145.82" font-size="7.6">AAV-CON-AL</text>
<line x1="201.7" y1="156" x2="212.3" y2="156" stroke="#e8231f" stroke-width="0.9"/>
<rect x="205.6" y="154.6" width="2.8" height="2.8" fill="#e8231f"/>
<text class="s" x="217.5" y="158.72" font-size="7.6">AAV-CON-CR</text>
<line x1="201.7" y1="168.9" x2="212.3" y2="168.9" stroke="#44bb44" stroke-width="0.9"/>
<polygon points="207,167.39 208.4,169.91 205.6,169.91" fill="#44bb44"/>
<text class="s" x="217.5" y="171.62" font-size="7.6">AAV-CON-EODF</text>
<line x1="201.7" y1="181.8" x2="212.3" y2="181.8" stroke="#1d2a6b" stroke-width="0.9"/>
<circle cx="207" cy="181.8" r="1.4" fill="#1d2a6b"/>
<text class="s" x="217.5" y="184.52" font-size="7.6">AAV-<tspan font-style='italic'>Klf9</tspan>-AL</text>
<line x1="201.7" y1="194.7" x2="212.3" y2="194.7" stroke="#a51c24" stroke-width="0.9"/>
<rect x="205.6" y="193.3" width="2.8" height="2.8" fill="#a51c24"/>
<text class="s" x="217.5" y="197.42" font-size="7.6">AAV-<tspan font-style='italic'>Klf9</tspan>-MF</text>
<line x1="201.7" y1="207.6" x2="212.3" y2="207.6" stroke="#1f6b37" stroke-width="0.9"/>
<polygon points="207,206.09 208.4,208.61 205.6,208.61" fill="#1f6b37"/>
<text class="s" x="217.5" y="210.32" font-size="7.6">AAV-<tspan font-style='italic'>Klf9</tspan>-EODF</text>
<text class="sb" x="278.6" y="141.2" font-size="17.7" stroke="#000" stroke-width="0.3">C</text>
<line x1="321.2" y1="144.2" x2="321.2" y2="251.45" stroke="#000" stroke-width="1.3"/>
<line x1="317.4" y1="250.8" x2="321.2" y2="250.8" stroke="#000" stroke-width="1.17"/>
<text class="sb" x="316.6" y="253.38" font-size="7.2" text-anchor="end">40</text>
<line x1="317.4" y1="224.3" x2="321.2" y2="224.3" stroke="#000" stroke-width="1.17"/>
<text class="sb" x="316.6" y="226.88" font-size="7.2" text-anchor="end">45</text>
<line x1="317.4" y1="197.8" x2="321.2" y2="197.8" stroke="#000" stroke-width="1.17"/>
<text class="sb" x="316.6" y="200.38" font-size="7.2" text-anchor="end">50</text>
<line x1="317.4" y1="171.3" x2="321.2" y2="171.3" stroke="#000" stroke-width="1.17"/>
<text class="sb" x="316.6" y="173.88" font-size="7.2" text-anchor="end">55</text>
<line x1="317.4" y1="144.8" x2="321.2" y2="144.8" stroke="#000" stroke-width="1.17"/>
<text class="sb" x="316.6" y="147.38" font-size="7.2" text-anchor="end">60</text>
<line x1="320.55" y1="250.8" x2="463.5" y2="250.8" stroke="#000" stroke-width="1.3"/>
<line x1="321.2" y1="250.8" x2="321.2" y2="254.6" stroke="#000" stroke-width="1.17"/>
<text class="sb" x="321.2" y="263.91" font-size="7.3" text-anchor="middle">0</text>
<line x1="338.4" y1="250.8" x2="338.4" y2="254.6" stroke="#000" stroke-width="1.17"/>
<text class="sb" x="338.4" y="263.91" font-size="7.3" text-anchor="middle">4</text>
<line x1="355.6" y1="250.8" x2="355.6" y2="254.6" stroke="#000" stroke-width="1.17"/>
<text class="sb" x="355.6" y="263.91" font-size="7.3" text-anchor="middle">8</text>
<line x1="372.8" y1="250.8" x2="372.8" y2="254.6" stroke="#000" stroke-width="1.17"/>
<text class="sb" x="372.8" y="263.91" font-size="7.3" text-anchor="middle">12</text>
<line x1="390" y1="250.8" x2="390" y2="254.6" stroke="#000" stroke-width="1.17"/>
<text class="sb" x="390" y="263.91" font-size="7.3" text-anchor="middle">16</text>
<line x1="407.2" y1="250.8" x2="407.2" y2="254.6" stroke="#000" stroke-width="1.17"/>
<text class="sb" x="407.2" y="263.91" font-size="7.3" text-anchor="middle">20</text>
<line x1="424.4" y1="250.8" x2="424.4" y2="254.6" stroke="#000" stroke-width="1.17"/>
<text class="sb" x="424.4" y="263.91" font-size="7.3" text-anchor="middle">24</text>
<line x1="441.6" y1="250.8" x2="441.6" y2="254.6" stroke="#000" stroke-width="1.17"/>
<text class="sb" x="441.6" y="263.91" font-size="7.3" text-anchor="middle">28</text>
<line x1="458.8" y1="250.8" x2="458.8" y2="254.6" stroke="#000" stroke-width="1.17"/>
<text class="sb" x="458.8" y="263.91" font-size="7.3" text-anchor="middle">32</text>
<path d="M321.2,206.28 L329.8,213.7 L338.4,212.11 L347,213.7 L355.6,214.76 L364.2,211.05 L372.8,212.11 L381.4,211.05 L390,209.99 L398.6,209.46 L407.2,209.46 L415.8,208.66 L424.4,209.46 L433,205.75 L441.6,205.75 L450.2,204.69 L458.8,206.81" stroke="#a51c24" stroke-width="0.9" fill="none" stroke-linejoin="round"/>
<line x1="321.2" y1="198.33" x2="321.2" y2="214.23" stroke="#a51c24" stroke-width="0.7"/>
<line x1="319.7" y1="198.33" x2="322.7" y2="198.33" stroke="#a51c24" stroke-width="0.7"/>
<line x1="319.7" y1="214.23" x2="322.7" y2="214.23" stroke="#a51c24" stroke-width="0.7"/>
<line x1="329.8" y1="205.75" x2="329.8" y2="221.65" stroke="#a51c24" stroke-width="0.7"/>
<line x1="328.3" y1="205.75" x2="331.3" y2="205.75" stroke="#a51c24" stroke-width="0.7"/>
<line x1="328.3" y1="221.65" x2="331.3" y2="221.65" stroke="#a51c24" stroke-width="0.7"/>
<line x1="338.4" y1="204.16" x2="338.4" y2="220.06" stroke="#a51c24" stroke-width="0.7"/>
<line x1="336.9" y1="204.16" x2="339.9" y2="204.16" stroke="#a51c24" stroke-width="0.7"/>
<line x1="336.9" y1="220.06" x2="339.9" y2="220.06" stroke="#a51c24" stroke-width="0.7"/>
<line x1="347" y1="205.75" x2="347" y2="221.65" stroke="#a51c24" stroke-width="0.7"/>
<line x1="345.5" y1="205.75" x2="348.5" y2="205.75" stroke="#a51c24" stroke-width="0.7"/>
<line x1="345.5" y1="221.65" x2="348.5" y2="221.65" stroke="#a51c24" stroke-width="0.7"/>
<line x1="355.6" y1="206.81" x2="355.6" y2="222.71" stroke="#a51c24" stroke-width="0.7"/>
<line x1="354.1" y1="206.81" x2="357.1" y2="206.81" stroke="#a51c24" stroke-width="0.7"/>
<line x1="354.1" y1="222.71" x2="357.1" y2="222.71" stroke="#a51c24" stroke-width="0.7"/>
<line x1="364.2" y1="203.1" x2="364.2" y2="219" stroke="#a51c24" stroke-width="0.7"/>
<line x1="362.7" y1="203.1" x2="365.7" y2="203.1" stroke="#a51c24" stroke-width="0.7"/>
<line x1="362.7" y1="219" x2="365.7" y2="219" stroke="#a51c24" stroke-width="0.7"/>
<line x1="372.8" y1="204.16" x2="372.8" y2="220.06" stroke="#a51c24" stroke-width="0.7"/>
<line x1="371.3" y1="204.16" x2="374.3" y2="204.16" stroke="#a51c24" stroke-width="0.7"/>
<line x1="371.3" y1="220.06" x2="374.3" y2="220.06" stroke="#a51c24" stroke-width="0.7"/>
<line x1="381.4" y1="203.1" x2="381.4" y2="219" stroke="#a51c24" stroke-width="0.7"/>
<line x1="379.9" y1="203.1" x2="382.9" y2="203.1" stroke="#a51c24" stroke-width="0.7"/>
<line x1="379.9" y1="219" x2="382.9" y2="219" stroke="#a51c24" stroke-width="0.7"/>
<line x1="390" y1="202.04" x2="390" y2="217.94" stroke="#a51c24" stroke-width="0.7"/>
<line x1="388.5" y1="202.04" x2="391.5" y2="202.04" stroke="#a51c24" stroke-width="0.7"/>
<line x1="388.5" y1="217.94" x2="391.5" y2="217.94" stroke="#a51c24" stroke-width="0.7"/>
<line x1="398.6" y1="201.51" x2="398.6" y2="217.41" stroke="#a51c24" stroke-width="0.7"/>
<line x1="397.1" y1="201.51" x2="400.1" y2="201.51" stroke="#a51c24" stroke-width="0.7"/>
<line x1="397.1" y1="217.41" x2="400.1" y2="217.41" stroke="#a51c24" stroke-width="0.7"/>
<line x1="407.2" y1="201.51" x2="407.2" y2="217.41" stroke="#a51c24" stroke-width="0.7"/>
<line x1="405.7" y1="201.51" x2="408.7" y2="201.51" stroke="#a51c24" stroke-width="0.7"/>
<line x1="405.7" y1="217.41" x2="408.7" y2="217.41" stroke="#a51c24" stroke-width="0.7"/>
<line x1="415.8" y1="200.72" x2="415.8" y2="216.62" stroke="#a51c24" stroke-width="0.7"/>
<line x1="414.3" y1="200.72" x2="417.3" y2="200.72" stroke="#a51c24" stroke-width="0.7"/>
<line x1="414.3" y1="216.62" x2="417.3" y2="216.62" stroke="#a51c24" stroke-width="0.7"/>
<line x1="424.4" y1="201.51" x2="424.4" y2="217.41" stroke="#a51c24" stroke-width="0.7"/>
<line x1="422.9" y1="201.51" x2="425.9" y2="201.51" stroke="#a51c24" stroke-width="0.7"/>
<line x1="422.9" y1="217.41" x2="425.9" y2="217.41" stroke="#a51c24" stroke-width="0.7"/>
<line x1="433" y1="197.8" x2="433" y2="213.7" stroke="#a51c24" stroke-width="0.7"/>
<line x1="431.5" y1="197.8" x2="434.5" y2="197.8" stroke="#a51c24" stroke-width="0.7"/>
<line x1="431.5" y1="213.7" x2="434.5" y2="213.7" stroke="#a51c24" stroke-width="0.7"/>
<line x1="441.6" y1="197.8" x2="441.6" y2="213.7" stroke="#a51c24" stroke-width="0.7"/>
<line x1="440.1" y1="197.8" x2="443.1" y2="197.8" stroke="#a51c24" stroke-width="0.7"/>
<line x1="440.1" y1="213.7" x2="443.1" y2="213.7" stroke="#a51c24" stroke-width="0.7"/>
<line x1="450.2" y1="196.74" x2="450.2" y2="212.64" stroke="#a51c24" stroke-width="0.7"/>
<line x1="448.7" y1="196.74" x2="451.7" y2="196.74" stroke="#a51c24" stroke-width="0.7"/>
<line x1="448.7" y1="212.64" x2="451.7" y2="212.64" stroke="#a51c24" stroke-width="0.7"/>
<line x1="458.8" y1="198.86" x2="458.8" y2="214.76" stroke="#a51c24" stroke-width="0.7"/>
<line x1="457.3" y1="198.86" x2="460.3" y2="198.86" stroke="#a51c24" stroke-width="0.7"/>
<line x1="457.3" y1="214.76" x2="460.3" y2="214.76" stroke="#a51c24" stroke-width="0.7"/>
<circle cx="321.2" cy="206.28" r="1.65" fill="#a51c24"/>
<circle cx="329.8" cy="213.7" r="1.65" fill="#a51c24"/>
<circle cx="338.4" cy="212.11" r="1.65" fill="#a51c24"/>
<circle cx="347" cy="213.7" r="1.65" fill="#a51c24"/>
<circle cx="355.6" cy="214.76" r="1.65" fill="#a51c24"/>
<circle cx="364.2" cy="211.05" r="1.65" fill="#a51c24"/>
<circle cx="372.8" cy="212.11" r="1.65" fill="#a51c24"/>
<circle cx="381.4" cy="211.05" r="1.65" fill="#a51c24"/>
<circle cx="390" cy="209.99" r="1.65" fill="#a51c24"/>
<circle cx="398.6" cy="209.46" r="1.65" fill="#a51c24"/>
<circle cx="407.2" cy="209.46" r="1.65" fill="#a51c24"/>
<circle cx="415.8" cy="208.66" r="1.65" fill="#a51c24"/>
<circle cx="424.4" cy="209.46" r="1.65" fill="#a51c24"/>
<circle cx="433" cy="205.75" r="1.65" fill="#a51c24"/>
<circle cx="441.6" cy="205.75" r="1.65" fill="#a51c24"/>
<circle cx="450.2" cy="204.69" r="1.65" fill="#a51c24"/>
<circle cx="458.8" cy="206.81" r="1.65" fill="#a51c24"/>
<path d="M321.2,198.86 L329.8,205.75 L338.4,202.57 L347,204.69 L355.6,205.75 L364.2,202.57 L372.8,205.75 L381.4,202.57 L390,201.51 L398.6,205.22 L407.2,203.63 L415.8,203.63 L424.4,204.43 L433,201.51 L441.6,203.63 L450.2,204.69 L458.8,204.16" stroke="#e8231f" stroke-width="0.9" fill="none" stroke-linejoin="round"/>
<line x1="321.2" y1="192.5" x2="321.2" y2="205.22" stroke="#e8231f" stroke-width="0.7"/>
<line x1="319.7" y1="192.5" x2="322.7" y2="192.5" stroke="#e8231f" stroke-width="0.7"/>
<line x1="319.7" y1="205.22" x2="322.7" y2="205.22" stroke="#e8231f" stroke-width="0.7"/>
<line x1="329.8" y1="199.39" x2="329.8" y2="212.11" stroke="#e8231f" stroke-width="0.7"/>
<line x1="328.3" y1="199.39" x2="331.3" y2="199.39" stroke="#e8231f" stroke-width="0.7"/>
<line x1="328.3" y1="212.11" x2="331.3" y2="212.11" stroke="#e8231f" stroke-width="0.7"/>
<line x1="338.4" y1="196.21" x2="338.4" y2="208.93" stroke="#e8231f" stroke-width="0.7"/>
<line x1="336.9" y1="196.21" x2="339.9" y2="196.21" stroke="#e8231f" stroke-width="0.7"/>
<line x1="336.9" y1="208.93" x2="339.9" y2="208.93" stroke="#e8231f" stroke-width="0.7"/>
<line x1="347" y1="198.33" x2="347" y2="211.05" stroke="#e8231f" stroke-width="0.7"/>
<line x1="345.5" y1="198.33" x2="348.5" y2="198.33" stroke="#e8231f" stroke-width="0.7"/>
<line x1="345.5" y1="211.05" x2="348.5" y2="211.05" stroke="#e8231f" stroke-width="0.7"/>
<line x1="355.6" y1="199.39" x2="355.6" y2="212.11" stroke="#e8231f" stroke-width="0.7"/>
<line x1="354.1" y1="199.39" x2="357.1" y2="199.39" stroke="#e8231f" stroke-width="0.7"/>
<line x1="354.1" y1="212.11" x2="357.1" y2="212.11" stroke="#e8231f" stroke-width="0.7"/>
<line x1="364.2" y1="196.21" x2="364.2" y2="208.93" stroke="#e8231f" stroke-width="0.7"/>
<line x1="362.7" y1="196.21" x2="365.7" y2="196.21" stroke="#e8231f" stroke-width="0.7"/>
<line x1="362.7" y1="208.93" x2="365.7" y2="208.93" stroke="#e8231f" stroke-width="0.7"/>
<line x1="372.8" y1="199.39" x2="372.8" y2="212.11" stroke="#e8231f" stroke-width="0.7"/>
<line x1="371.3" y1="199.39" x2="374.3" y2="199.39" stroke="#e8231f" stroke-width="0.7"/>
<line x1="371.3" y1="212.11" x2="374.3" y2="212.11" stroke="#e8231f" stroke-width="0.7"/>
<line x1="381.4" y1="196.21" x2="381.4" y2="208.93" stroke="#e8231f" stroke-width="0.7"/>
<line x1="379.9" y1="196.21" x2="382.9" y2="196.21" stroke="#e8231f" stroke-width="0.7"/>
<line x1="379.9" y1="208.93" x2="382.9" y2="208.93" stroke="#e8231f" stroke-width="0.7"/>
<line x1="390" y1="195.15" x2="390" y2="207.87" stroke="#e8231f" stroke-width="0.7"/>
<line x1="388.5" y1="195.15" x2="391.5" y2="195.15" stroke="#e8231f" stroke-width="0.7"/>
<line x1="388.5" y1="207.87" x2="391.5" y2="207.87" stroke="#e8231f" stroke-width="0.7"/>
<line x1="398.6" y1="198.86" x2="398.6" y2="211.58" stroke="#e8231f" stroke-width="0.7"/>
<line x1="397.1" y1="198.86" x2="400.1" y2="198.86" stroke="#e8231f" stroke-width="0.7"/>
<line x1="397.1" y1="211.58" x2="400.1" y2="211.58" stroke="#e8231f" stroke-width="0.7"/>
<line x1="407.2" y1="197.27" x2="407.2" y2="209.99" stroke="#e8231f" stroke-width="0.7"/>
<line x1="405.7" y1="197.27" x2="408.7" y2="197.27" stroke="#e8231f" stroke-width="0.7"/>
<line x1="405.7" y1="209.99" x2="408.7" y2="209.99" stroke="#e8231f" stroke-width="0.7"/>
<line x1="415.8" y1="197.27" x2="415.8" y2="209.99" stroke="#e8231f" stroke-width="0.7"/>
<line x1="414.3" y1="197.27" x2="417.3" y2="197.27" stroke="#e8231f" stroke-width="0.7"/>
<line x1="414.3" y1="209.99" x2="417.3" y2="209.99" stroke="#e8231f" stroke-width="0.7"/>
<line x1="424.4" y1="198.06" x2="424.4" y2="210.79" stroke="#e8231f" stroke-width="0.7"/>
<line x1="422.9" y1="198.06" x2="425.9" y2="198.06" stroke="#e8231f" stroke-width="0.7"/>
<line x1="422.9" y1="210.79" x2="425.9" y2="210.79" stroke="#e8231f" stroke-width="0.7"/>
<line x1="433" y1="195.15" x2="433" y2="207.87" stroke="#e8231f" stroke-width="0.7"/>
<line x1="431.5" y1="195.15" x2="434.5" y2="195.15" stroke="#e8231f" stroke-width="0.7"/>
<line x1="431.5" y1="207.87" x2="434.5" y2="207.87" stroke="#e8231f" stroke-width="0.7"/>
<line x1="441.6" y1="197.27" x2="441.6" y2="209.99" stroke="#e8231f" stroke-width="0.7"/>
<line x1="440.1" y1="197.27" x2="443.1" y2="197.27" stroke="#e8231f" stroke-width="0.7"/>
<line x1="440.1" y1="209.99" x2="443.1" y2="209.99" stroke="#e8231f" stroke-width="0.7"/>
<line x1="450.2" y1="198.33" x2="450.2" y2="211.05" stroke="#e8231f" stroke-width="0.7"/>
<line x1="448.7" y1="198.33" x2="451.7" y2="198.33" stroke="#e8231f" stroke-width="0.7"/>
<line x1="448.7" y1="211.05" x2="451.7" y2="211.05" stroke="#e8231f" stroke-width="0.7"/>
<line x1="458.8" y1="197.8" x2="458.8" y2="210.52" stroke="#e8231f" stroke-width="0.7"/>
<line x1="457.3" y1="197.8" x2="460.3" y2="197.8" stroke="#e8231f" stroke-width="0.7"/>
<line x1="457.3" y1="210.52" x2="460.3" y2="210.52" stroke="#e8231f" stroke-width="0.7"/>
<rect x="319.7" y="197.36" width="3" height="3" fill="#e8231f"/>
<rect x="328.3" y="204.25" width="3" height="3" fill="#e8231f"/>
<rect x="336.9" y="201.07" width="3" height="3" fill="#e8231f"/>
<rect x="345.5" y="203.19" width="3" height="3" fill="#e8231f"/>
<rect x="354.1" y="204.25" width="3" height="3" fill="#e8231f"/>
<rect x="362.7" y="201.07" width="3" height="3" fill="#e8231f"/>
<rect x="371.3" y="204.25" width="3" height="3" fill="#e8231f"/>
<rect x="379.9" y="201.07" width="3" height="3" fill="#e8231f"/>
<rect x="388.5" y="200.01" width="3" height="3" fill="#e8231f"/>
<rect x="397.1" y="203.72" width="3" height="3" fill="#e8231f"/>
<rect x="405.7" y="202.13" width="3" height="3" fill="#e8231f"/>
<rect x="414.3" y="202.13" width="3" height="3" fill="#e8231f"/>
<rect x="422.9" y="202.93" width="3" height="3" fill="#e8231f"/>
<rect x="431.5" y="200.01" width="3" height="3" fill="#e8231f"/>
<rect x="440.1" y="202.13" width="3" height="3" fill="#e8231f"/>
<rect x="448.7" y="203.19" width="3" height="3" fill="#e8231f"/>
<rect x="457.3" y="202.66" width="3" height="3" fill="#e8231f"/>
<path d="M321.2,204.16 L329.8,201.51 L338.4,202.04 L347,200.45 L355.6,198.33 L364.2,197.8 L372.8,194.09 L381.4,193.03 L390,194.62 L398.6,189.85 L407.2,194.3 L415.8,195.15 L424.4,194.09 L433,193.03 L441.6,192.5 L450.2,193.03 L458.8,189.59" stroke="#1f6b37" stroke-width="0.9" fill="none" stroke-linejoin="round"/>
<line x1="321.2" y1="198.86" x2="321.2" y2="209.46" stroke="#1f6b37" stroke-width="0.7"/>
<line x1="319.7" y1="198.86" x2="322.7" y2="198.86" stroke="#1f6b37" stroke-width="0.7"/>
<line x1="319.7" y1="209.46" x2="322.7" y2="209.46" stroke="#1f6b37" stroke-width="0.7"/>
<line x1="329.8" y1="196.21" x2="329.8" y2="206.81" stroke="#1f6b37" stroke-width="0.7"/>
<line x1="328.3" y1="196.21" x2="331.3" y2="196.21" stroke="#1f6b37" stroke-width="0.7"/>
<line x1="328.3" y1="206.81" x2="331.3" y2="206.81" stroke="#1f6b37" stroke-width="0.7"/>
<line x1="338.4" y1="196.74" x2="338.4" y2="207.34" stroke="#1f6b37" stroke-width="0.7"/>
<line x1="336.9" y1="196.74" x2="339.9" y2="196.74" stroke="#1f6b37" stroke-width="0.7"/>
<line x1="336.9" y1="207.34" x2="339.9" y2="207.34" stroke="#1f6b37" stroke-width="0.7"/>
<line x1="347" y1="195.15" x2="347" y2="205.75" stroke="#1f6b37" stroke-width="0.7"/>
<line x1="345.5" y1="195.15" x2="348.5" y2="195.15" stroke="#1f6b37" stroke-width="0.7"/>
<line x1="345.5" y1="205.75" x2="348.5" y2="205.75" stroke="#1f6b37" stroke-width="0.7"/>
<line x1="355.6" y1="193.03" x2="355.6" y2="203.63" stroke="#1f6b37" stroke-width="0.7"/>
<line x1="354.1" y1="193.03" x2="357.1" y2="193.03" stroke="#1f6b37" stroke-width="0.7"/>
<line x1="354.1" y1="203.63" x2="357.1" y2="203.63" stroke="#1f6b37" stroke-width="0.7"/>
<line x1="364.2" y1="192.5" x2="364.2" y2="203.1" stroke="#1f6b37" stroke-width="0.7"/>
<line x1="362.7" y1="192.5" x2="365.7" y2="192.5" stroke="#1f6b37" stroke-width="0.7"/>
<line x1="362.7" y1="203.1" x2="365.7" y2="203.1" stroke="#1f6b37" stroke-width="0.7"/>
<line x1="372.8" y1="188.79" x2="372.8" y2="199.39" stroke="#1f6b37" stroke-width="0.7"/>
<line x1="371.3" y1="188.79" x2="374.3" y2="188.79" stroke="#1f6b37" stroke-width="0.7"/>
<line x1="371.3" y1="199.39" x2="374.3" y2="199.39" stroke="#1f6b37" stroke-width="0.7"/>
<line x1="381.4" y1="187.73" x2="381.4" y2="198.33" stroke="#1f6b37" stroke-width="0.7"/>
<line x1="379.9" y1="187.73" x2="382.9" y2="187.73" stroke="#1f6b37" stroke-width="0.7"/>
<line x1="379.9" y1="198.33" x2="382.9" y2="198.33" stroke="#1f6b37" stroke-width="0.7"/>
<line x1="390" y1="189.32" x2="390" y2="199.92" stroke="#1f6b37" stroke-width="0.7"/>
<line x1="388.5" y1="189.32" x2="391.5" y2="189.32" stroke="#1f6b37" stroke-width="0.7"/>
<line x1="388.5" y1="199.92" x2="391.5" y2="199.92" stroke="#1f6b37" stroke-width="0.7"/>
<line x1="398.6" y1="184.55" x2="398.6" y2="195.15" stroke="#1f6b37" stroke-width="0.7"/>
<line x1="397.1" y1="184.55" x2="400.1" y2="184.55" stroke="#1f6b37" stroke-width="0.7"/>
<line x1="397.1" y1="195.15" x2="400.1" y2="195.15" stroke="#1f6b37" stroke-width="0.7"/>
<line x1="407.2" y1="189" x2="407.2" y2="199.6" stroke="#1f6b37" stroke-width="0.7"/>
<line x1="405.7" y1="189" x2="408.7" y2="189" stroke="#1f6b37" stroke-width="0.7"/>
<line x1="405.7" y1="199.6" x2="408.7" y2="199.6" stroke="#1f6b37" stroke-width="0.7"/>
<line x1="415.8" y1="189.85" x2="415.8" y2="200.45" stroke="#1f6b37" stroke-width="0.7"/>
<line x1="414.3" y1="189.85" x2="417.3" y2="189.85" stroke="#1f6b37" stroke-width="0.7"/>
<line x1="414.3" y1="200.45" x2="417.3" y2="200.45" stroke="#1f6b37" stroke-width="0.7"/>
<line x1="424.4" y1="188.79" x2="424.4" y2="199.39" stroke="#1f6b37" stroke-width="0.7"/>
<line x1="422.9" y1="188.79" x2="425.9" y2="188.79" stroke="#1f6b37" stroke-width="0.7"/>
<line x1="422.9" y1="199.39" x2="425.9" y2="199.39" stroke="#1f6b37" stroke-width="0.7"/>
<line x1="433" y1="187.73" x2="433" y2="198.33" stroke="#1f6b37" stroke-width="0.7"/>
<line x1="431.5" y1="187.73" x2="434.5" y2="187.73" stroke="#1f6b37" stroke-width="0.7"/>
<line x1="431.5" y1="198.33" x2="434.5" y2="198.33" stroke="#1f6b37" stroke-width="0.7"/>
<line x1="441.6" y1="187.2" x2="441.6" y2="197.8" stroke="#1f6b37" stroke-width="0.7"/>
<line x1="440.1" y1="187.2" x2="443.1" y2="187.2" stroke="#1f6b37" stroke-width="0.7"/>
<line x1="440.1" y1="197.8" x2="443.1" y2="197.8" stroke="#1f6b37" stroke-width="0.7"/>
<line x1="450.2" y1="187.73" x2="450.2" y2="198.33" stroke="#1f6b37" stroke-width="0.7"/>
<line x1="448.7" y1="187.73" x2="451.7" y2="187.73" stroke="#1f6b37" stroke-width="0.7"/>
<line x1="448.7" y1="198.33" x2="451.7" y2="198.33" stroke="#1f6b37" stroke-width="0.7"/>
<line x1="458.8" y1="184.29" x2="458.8" y2="194.89" stroke="#1f6b37" stroke-width="0.7"/>
<line x1="457.3" y1="184.29" x2="460.3" y2="184.29" stroke="#1f6b37" stroke-width="0.7"/>
<line x1="457.3" y1="194.89" x2="460.3" y2="194.89" stroke="#1f6b37" stroke-width="0.7"/>
<polygon points="321.2,202.65 322.6,205.17 319.8,205.17" fill="#1f6b37"/>
<polygon points="329.8,200 331.2,202.52 328.4,202.52" fill="#1f6b37"/>
<polygon points="338.4,200.53 339.8,203.05 337,203.05" fill="#1f6b37"/>
<polygon points="347,198.94 348.4,201.46 345.6,201.46" fill="#1f6b37"/>
<polygon points="355.6,196.82 357,199.34 354.2,199.34" fill="#1f6b37"/>
<polygon points="364.2,196.29 365.6,198.81 362.8,198.81" fill="#1f6b37"/>
<polygon points="372.8,192.58 374.2,195.1 371.4,195.1" fill="#1f6b37"/>
<polygon points="381.4,191.52 382.8,194.04 380,194.04" fill="#1f6b37"/>
<polygon points="390,193.11 391.4,195.63 388.6,195.63" fill="#1f6b37"/>
<polygon points="398.6,188.34 400,190.86 397.2,190.86" fill="#1f6b37"/>
<polygon points="407.2,192.79 408.6,195.31 405.8,195.31" fill="#1f6b37"/>
<polygon points="415.8,193.64 417.2,196.16 414.4,196.16" fill="#1f6b37"/>
<polygon points="424.4,192.58 425.8,195.1 423,195.1" fill="#1f6b37"/>
<polygon points="433,191.52 434.4,194.04 431.6,194.04" fill="#1f6b37"/>
<polygon points="441.6,190.99 443,193.51 440.2,193.51" fill="#1f6b37"/>
<polygon points="450.2,191.52 451.6,194.04 448.8,194.04" fill="#1f6b37"/>
<polygon points="458.8,188.07 460.2,190.59 457.4,190.59" fill="#1f6b37"/>
<path d="M321.2,201.51 L329.8,200.98 L338.4,201.51 L347,199.92 L355.6,198.33 L364.2,197.27 L372.8,193.03 L381.4,191.97 L390,190.91 L398.6,189.59 L407.2,191.18 L415.8,190.91 L424.4,188.26 L433,187.73 L441.6,188.26 L450.2,188.79 L458.8,187.2" stroke="#44bb44" stroke-width="0.9" fill="none" stroke-linejoin="round"/>
<line x1="321.2" y1="195.68" x2="321.2" y2="207.34" stroke="#44bb44" stroke-width="0.7"/>
<line x1="319.7" y1="195.68" x2="322.7" y2="195.68" stroke="#44bb44" stroke-width="0.7"/>
<line x1="319.7" y1="207.34" x2="322.7" y2="207.34" stroke="#44bb44" stroke-width="0.7"/>
<line x1="329.8" y1="195.15" x2="329.8" y2="206.81" stroke="#44bb44" stroke-width="0.7"/>
<line x1="328.3" y1="195.15" x2="331.3" y2="195.15" stroke="#44bb44" stroke-width="0.7"/>
<line x1="328.3" y1="206.81" x2="331.3" y2="206.81" stroke="#44bb44" stroke-width="0.7"/>
<line x1="338.4" y1="195.68" x2="338.4" y2="207.34" stroke="#44bb44" stroke-width="0.7"/>
<line x1="336.9" y1="195.68" x2="339.9" y2="195.68" stroke="#44bb44" stroke-width="0.7"/>
<line x1="336.9" y1="207.34" x2="339.9" y2="207.34" stroke="#44bb44" stroke-width="0.7"/>
<line x1="347" y1="194.09" x2="347" y2="205.75" stroke="#44bb44" stroke-width="0.7"/>
<line x1="345.5" y1="194.09" x2="348.5" y2="194.09" stroke="#44bb44" stroke-width="0.7"/>
<line x1="345.5" y1="205.75" x2="348.5" y2="205.75" stroke="#44bb44" stroke-width="0.7"/>
<line x1="355.6" y1="192.5" x2="355.6" y2="204.16" stroke="#44bb44" stroke-width="0.7"/>
<line x1="354.1" y1="192.5" x2="357.1" y2="192.5" stroke="#44bb44" stroke-width="0.7"/>
<line x1="354.1" y1="204.16" x2="357.1" y2="204.16" stroke="#44bb44" stroke-width="0.7"/>
<line x1="364.2" y1="191.44" x2="364.2" y2="203.1" stroke="#44bb44" stroke-width="0.7"/>
<line x1="362.7" y1="191.44" x2="365.7" y2="191.44" stroke="#44bb44" stroke-width="0.7"/>
<line x1="362.7" y1="203.1" x2="365.7" y2="203.1" stroke="#44bb44" stroke-width="0.7"/>
<line x1="372.8" y1="187.2" x2="372.8" y2="198.86" stroke="#44bb44" stroke-width="0.7"/>
<line x1="371.3" y1="187.2" x2="374.3" y2="187.2" stroke="#44bb44" stroke-width="0.7"/>
<line x1="371.3" y1="198.86" x2="374.3" y2="198.86" stroke="#44bb44" stroke-width="0.7"/>
<line x1="381.4" y1="186.14" x2="381.4" y2="197.8" stroke="#44bb44" stroke-width="0.7"/>
<line x1="379.9" y1="186.14" x2="382.9" y2="186.14" stroke="#44bb44" stroke-width="0.7"/>
<line x1="379.9" y1="197.8" x2="382.9" y2="197.8" stroke="#44bb44" stroke-width="0.7"/>
<line x1="390" y1="185.08" x2="390" y2="196.74" stroke="#44bb44" stroke-width="0.7"/>
<line x1="388.5" y1="185.08" x2="391.5" y2="185.08" stroke="#44bb44" stroke-width="0.7"/>
<line x1="388.5" y1="196.74" x2="391.5" y2="196.74" stroke="#44bb44" stroke-width="0.7"/>
<line x1="398.6" y1="183.76" x2="398.6" y2="195.42" stroke="#44bb44" stroke-width="0.7"/>
<line x1="397.1" y1="183.76" x2="400.1" y2="183.76" stroke="#44bb44" stroke-width="0.7"/>
<line x1="397.1" y1="195.42" x2="400.1" y2="195.42" stroke="#44bb44" stroke-width="0.7"/>
<line x1="407.2" y1="185.35" x2="407.2" y2="197.01" stroke="#44bb44" stroke-width="0.7"/>
<line x1="405.7" y1="185.35" x2="408.7" y2="185.35" stroke="#44bb44" stroke-width="0.7"/>
<line x1="405.7" y1="197.01" x2="408.7" y2="197.01" stroke="#44bb44" stroke-width="0.7"/>
<line x1="415.8" y1="185.08" x2="415.8" y2="196.74" stroke="#44bb44" stroke-width="0.7"/>
<line x1="414.3" y1="185.08" x2="417.3" y2="185.08" stroke="#44bb44" stroke-width="0.7"/>
<line x1="414.3" y1="196.74" x2="417.3" y2="196.74" stroke="#44bb44" stroke-width="0.7"/>
<line x1="424.4" y1="182.43" x2="424.4" y2="194.09" stroke="#44bb44" stroke-width="0.7"/>
<line x1="422.9" y1="182.43" x2="425.9" y2="182.43" stroke="#44bb44" stroke-width="0.7"/>
<line x1="422.9" y1="194.09" x2="425.9" y2="194.09" stroke="#44bb44" stroke-width="0.7"/>
<line x1="433" y1="181.9" x2="433" y2="193.56" stroke="#44bb44" stroke-width="0.7"/>
<line x1="431.5" y1="181.9" x2="434.5" y2="181.9" stroke="#44bb44" stroke-width="0.7"/>
<line x1="431.5" y1="193.56" x2="434.5" y2="193.56" stroke="#44bb44" stroke-width="0.7"/>
<line x1="441.6" y1="182.43" x2="441.6" y2="194.09" stroke="#44bb44" stroke-width="0.7"/>
<line x1="440.1" y1="182.43" x2="443.1" y2="182.43" stroke="#44bb44" stroke-width="0.7"/>
<line x1="440.1" y1="194.09" x2="443.1" y2="194.09" stroke="#44bb44" stroke-width="0.7"/>
<line x1="450.2" y1="182.96" x2="450.2" y2="194.62" stroke="#44bb44" stroke-width="0.7"/>
<line x1="448.7" y1="182.96" x2="451.7" y2="182.96" stroke="#44bb44" stroke-width="0.7"/>
<line x1="448.7" y1="194.62" x2="451.7" y2="194.62" stroke="#44bb44" stroke-width="0.7"/>
<line x1="458.8" y1="181.37" x2="458.8" y2="193.03" stroke="#44bb44" stroke-width="0.7"/>
<line x1="457.3" y1="181.37" x2="460.3" y2="181.37" stroke="#44bb44" stroke-width="0.7"/>
<line x1="457.3" y1="193.03" x2="460.3" y2="193.03" stroke="#44bb44" stroke-width="0.7"/>
<polygon points="321.2,200 322.6,202.52 319.8,202.52" fill="#44bb44"/>
<polygon points="329.8,199.47 331.2,201.99 328.4,201.99" fill="#44bb44"/>
<polygon points="338.4,200 339.8,202.52 337,202.52" fill="#44bb44"/>
<polygon points="347,198.41 348.4,200.93 345.6,200.93" fill="#44bb44"/>
<polygon points="355.6,196.82 357,199.34 354.2,199.34" fill="#44bb44"/>
<polygon points="364.2,195.76 365.6,198.28 362.8,198.28" fill="#44bb44"/>
<polygon points="372.8,191.52 374.2,194.04 371.4,194.04" fill="#44bb44"/>
<polygon points="381.4,190.46 382.8,192.98 380,192.98" fill="#44bb44"/>
<polygon points="390,189.4 391.4,191.92 388.6,191.92" fill="#44bb44"/>
<polygon points="398.6,188.07 400,190.59 397.2,190.59" fill="#44bb44"/>
<polygon points="407.2,189.66 408.6,192.18 405.8,192.18" fill="#44bb44"/>
<polygon points="415.8,189.4 417.2,191.92 414.4,191.92" fill="#44bb44"/>
<polygon points="424.4,186.75 425.8,189.27 423,189.27" fill="#44bb44"/>
<polygon points="433,186.22 434.4,188.74 431.6,188.74" fill="#44bb44"/>
<polygon points="441.6,186.75 443,189.27 440.2,189.27" fill="#44bb44"/>
<polygon points="450.2,187.28 451.6,189.8 448.8,189.8" fill="#44bb44"/>
<polygon points="458.8,185.69 460.2,188.21 457.4,188.21" fill="#44bb44"/>
<path d="M321.2,202.04 L329.8,199.39 L338.4,198.33 L347,193.03 L355.6,188.79 L364.2,186.14 L372.8,180.84 L381.4,178.19 L390,176.18 L398.6,173.42 L407.2,172.62 L415.8,170.77 L424.4,167.06 L433,166 L441.6,164.41 L450.2,162.82 L458.8,161.23" stroke="#1d2a6b" stroke-width="0.9" fill="none" stroke-linejoin="round"/>
<line x1="321.2" y1="196.74" x2="321.2" y2="207.34" stroke="#1d2a6b" stroke-width="0.7"/>
<line x1="319.7" y1="196.74" x2="322.7" y2="196.74" stroke="#1d2a6b" stroke-width="0.7"/>
<line x1="319.7" y1="207.34" x2="322.7" y2="207.34" stroke="#1d2a6b" stroke-width="0.7"/>
<line x1="329.8" y1="193.64" x2="329.8" y2="205.14" stroke="#1d2a6b" stroke-width="0.7"/>
<line x1="328.3" y1="193.64" x2="331.3" y2="193.64" stroke="#1d2a6b" stroke-width="0.7"/>
<line x1="328.3" y1="205.14" x2="331.3" y2="205.14" stroke="#1d2a6b" stroke-width="0.7"/>
<line x1="338.4" y1="192.13" x2="338.4" y2="204.53" stroke="#1d2a6b" stroke-width="0.7"/>
<line x1="336.9" y1="192.13" x2="339.9" y2="192.13" stroke="#1d2a6b" stroke-width="0.7"/>
<line x1="336.9" y1="204.53" x2="339.9" y2="204.53" stroke="#1d2a6b" stroke-width="0.7"/>
<line x1="347" y1="186.38" x2="347" y2="199.68" stroke="#1d2a6b" stroke-width="0.7"/>
<line x1="345.5" y1="186.38" x2="348.5" y2="186.38" stroke="#1d2a6b" stroke-width="0.7"/>
<line x1="345.5" y1="199.68" x2="348.5" y2="199.68" stroke="#1d2a6b" stroke-width="0.7"/>
<line x1="355.6" y1="181.69" x2="355.6" y2="195.89" stroke="#1d2a6b" stroke-width="0.7"/>
<line x1="354.1" y1="181.69" x2="357.1" y2="181.69" stroke="#1d2a6b" stroke-width="0.7"/>
<line x1="354.1" y1="195.89" x2="357.1" y2="195.89" stroke="#1d2a6b" stroke-width="0.7"/>
<line x1="364.2" y1="178.59" x2="364.2" y2="193.69" stroke="#1d2a6b" stroke-width="0.7"/>
<line x1="362.7" y1="178.59" x2="365.7" y2="178.59" stroke="#1d2a6b" stroke-width="0.7"/>
<line x1="362.7" y1="193.69" x2="365.7" y2="193.69" stroke="#1d2a6b" stroke-width="0.7"/>
<line x1="372.8" y1="172.84" x2="372.8" y2="188.84" stroke="#1d2a6b" stroke-width="0.7"/>
<line x1="371.3" y1="172.84" x2="374.3" y2="172.84" stroke="#1d2a6b" stroke-width="0.7"/>
<line x1="371.3" y1="188.84" x2="374.3" y2="188.84" stroke="#1d2a6b" stroke-width="0.7"/>
<line x1="381.4" y1="169.74" x2="381.4" y2="186.64" stroke="#1d2a6b" stroke-width="0.7"/>
<line x1="379.9" y1="169.74" x2="382.9" y2="169.74" stroke="#1d2a6b" stroke-width="0.7"/>
<line x1="379.9" y1="186.64" x2="382.9" y2="186.64" stroke="#1d2a6b" stroke-width="0.7"/>
<line x1="390" y1="167.27" x2="390" y2="185.08" stroke="#1d2a6b" stroke-width="0.7"/>
<line x1="388.5" y1="167.27" x2="391.5" y2="167.27" stroke="#1d2a6b" stroke-width="0.7"/>
<line x1="388.5" y1="185.08" x2="391.5" y2="185.08" stroke="#1d2a6b" stroke-width="0.7"/>
<line x1="398.6" y1="164.07" x2="398.6" y2="182.77" stroke="#1d2a6b" stroke-width="0.7"/>
<line x1="397.1" y1="164.07" x2="400.1" y2="164.07" stroke="#1d2a6b" stroke-width="0.7"/>
<line x1="397.1" y1="182.77" x2="400.1" y2="182.77" stroke="#1d2a6b" stroke-width="0.7"/>
<line x1="407.2" y1="162.82" x2="407.2" y2="182.43" stroke="#1d2a6b" stroke-width="0.7"/>
<line x1="405.7" y1="162.82" x2="408.7" y2="162.82" stroke="#1d2a6b" stroke-width="0.7"/>
<line x1="405.7" y1="182.43" x2="408.7" y2="182.43" stroke="#1d2a6b" stroke-width="0.7"/>
<line x1="415.8" y1="160.51" x2="415.8" y2="181.03" stroke="#1d2a6b" stroke-width="0.7"/>
<line x1="414.3" y1="160.51" x2="417.3" y2="160.51" stroke="#1d2a6b" stroke-width="0.7"/>
<line x1="414.3" y1="181.03" x2="417.3" y2="181.03" stroke="#1d2a6b" stroke-width="0.7"/>
<line x1="424.4" y1="156.35" x2="424.4" y2="177.77" stroke="#1d2a6b" stroke-width="0.7"/>
<line x1="422.9" y1="156.35" x2="425.9" y2="156.35" stroke="#1d2a6b" stroke-width="0.7"/>
<line x1="422.9" y1="177.77" x2="425.9" y2="177.77" stroke="#1d2a6b" stroke-width="0.7"/>
<line x1="433" y1="154.84" x2="433" y2="177.16" stroke="#1d2a6b" stroke-width="0.7"/>
<line x1="431.5" y1="154.84" x2="434.5" y2="154.84" stroke="#1d2a6b" stroke-width="0.7"/>
<line x1="431.5" y1="177.16" x2="434.5" y2="177.16" stroke="#1d2a6b" stroke-width="0.7"/>
<line x1="441.6" y1="152.8" x2="441.6" y2="176.02" stroke="#1d2a6b" stroke-width="0.7"/>
<line x1="440.1" y1="152.8" x2="443.1" y2="152.8" stroke="#1d2a6b" stroke-width="0.7"/>
<line x1="440.1" y1="176.02" x2="443.1" y2="176.02" stroke="#1d2a6b" stroke-width="0.7"/>
<line x1="450.2" y1="150.76" x2="450.2" y2="174.88" stroke="#1d2a6b" stroke-width="0.7"/>
<line x1="448.7" y1="150.76" x2="451.7" y2="150.76" stroke="#1d2a6b" stroke-width="0.7"/>
<line x1="448.7" y1="174.88" x2="451.7" y2="174.88" stroke="#1d2a6b" stroke-width="0.7"/>
<line x1="458.8" y1="148.72" x2="458.8" y2="173.74" stroke="#1d2a6b" stroke-width="0.7"/>
<line x1="457.3" y1="148.72" x2="460.3" y2="148.72" stroke="#1d2a6b" stroke-width="0.7"/>
<line x1="457.3" y1="173.74" x2="460.3" y2="173.74" stroke="#1d2a6b" stroke-width="0.7"/>
<circle cx="321.2" cy="202.04" r="1.85" fill="#1d2a6b"/>
<circle cx="329.8" cy="199.39" r="1.85" fill="#1d2a6b"/>
<circle cx="338.4" cy="198.33" r="1.85" fill="#1d2a6b"/>
<circle cx="347" cy="193.03" r="1.85" fill="#1d2a6b"/>
<circle cx="355.6" cy="188.79" r="1.85" fill="#1d2a6b"/>
<circle cx="364.2" cy="186.14" r="1.85" fill="#1d2a6b"/>
<circle cx="372.8" cy="180.84" r="1.85" fill="#1d2a6b"/>
<circle cx="381.4" cy="178.19" r="1.85" fill="#1d2a6b"/>
<circle cx="390" cy="176.18" r="1.85" fill="#1d2a6b"/>
<circle cx="398.6" cy="173.42" r="1.85" fill="#1d2a6b"/>
<circle cx="407.2" cy="172.62" r="1.85" fill="#1d2a6b"/>
<circle cx="415.8" cy="170.77" r="1.85" fill="#1d2a6b"/>
<circle cx="424.4" cy="167.06" r="1.85" fill="#1d2a6b"/>
<circle cx="433" cy="166" r="1.85" fill="#1d2a6b"/>
<circle cx="441.6" cy="164.41" r="1.85" fill="#1d2a6b"/>
<circle cx="450.2" cy="162.82" r="1.85" fill="#1d2a6b"/>
<circle cx="458.8" cy="161.23" r="1.85" fill="#1d2a6b"/>
<path d="M321.2,200.98 L329.8,197.8 L338.4,197.27 L347,193.03 L355.6,188.26 L364.2,185.61 L372.8,180.31 L381.4,175.01 L390,173.1 L398.6,171.3 L407.2,166 L415.8,165.47 L424.4,162.29 L433,159.11 L441.6,158.58 L450.2,155.93 L458.8,154.34" stroke="#1b48a6" stroke-width="0.9" fill="none" stroke-linejoin="round"/>
<line x1="321.2" y1="196.21" x2="321.2" y2="205.75" stroke="#1b48a6" stroke-width="0.7"/>
<line x1="319.7" y1="196.21" x2="322.7" y2="196.21" stroke="#1b48a6" stroke-width="0.7"/>
<line x1="319.7" y1="205.75" x2="322.7" y2="205.75" stroke="#1b48a6" stroke-width="0.7"/>
<line x1="329.8" y1="193.03" x2="329.8" y2="202.57" stroke="#1b48a6" stroke-width="0.7"/>
<line x1="328.3" y1="193.03" x2="331.3" y2="193.03" stroke="#1b48a6" stroke-width="0.7"/>
<line x1="328.3" y1="202.57" x2="331.3" y2="202.57" stroke="#1b48a6" stroke-width="0.7"/>
<line x1="338.4" y1="192.5" x2="338.4" y2="202.04" stroke="#1b48a6" stroke-width="0.7"/>
<line x1="336.9" y1="192.5" x2="339.9" y2="192.5" stroke="#1b48a6" stroke-width="0.7"/>
<line x1="336.9" y1="202.04" x2="339.9" y2="202.04" stroke="#1b48a6" stroke-width="0.7"/>
<line x1="347" y1="188.26" x2="347" y2="197.8" stroke="#1b48a6" stroke-width="0.7"/>
<line x1="345.5" y1="188.26" x2="348.5" y2="188.26" stroke="#1b48a6" stroke-width="0.7"/>
<line x1="345.5" y1="197.8" x2="348.5" y2="197.8" stroke="#1b48a6" stroke-width="0.7"/>
<line x1="355.6" y1="183.49" x2="355.6" y2="193.03" stroke="#1b48a6" stroke-width="0.7"/>
<line x1="354.1" y1="183.49" x2="357.1" y2="183.49" stroke="#1b48a6" stroke-width="0.7"/>
<line x1="354.1" y1="193.03" x2="357.1" y2="193.03" stroke="#1b48a6" stroke-width="0.7"/>
<line x1="364.2" y1="180.84" x2="364.2" y2="190.38" stroke="#1b48a6" stroke-width="0.7"/>
<line x1="362.7" y1="180.84" x2="365.7" y2="180.84" stroke="#1b48a6" stroke-width="0.7"/>
<line x1="362.7" y1="190.38" x2="365.7" y2="190.38" stroke="#1b48a6" stroke-width="0.7"/>
<line x1="372.8" y1="175.54" x2="372.8" y2="185.08" stroke="#1b48a6" stroke-width="0.7"/>
<line x1="371.3" y1="175.54" x2="374.3" y2="175.54" stroke="#1b48a6" stroke-width="0.7"/>
<line x1="371.3" y1="185.08" x2="374.3" y2="185.08" stroke="#1b48a6" stroke-width="0.7"/>
<line x1="381.4" y1="170.24" x2="381.4" y2="179.78" stroke="#1b48a6" stroke-width="0.7"/>
<line x1="379.9" y1="170.24" x2="382.9" y2="170.24" stroke="#1b48a6" stroke-width="0.7"/>
<line x1="379.9" y1="179.78" x2="382.9" y2="179.78" stroke="#1b48a6" stroke-width="0.7"/>
<line x1="390" y1="168.33" x2="390" y2="177.87" stroke="#1b48a6" stroke-width="0.7"/>
<line x1="388.5" y1="168.33" x2="391.5" y2="168.33" stroke="#1b48a6" stroke-width="0.7"/>
<line x1="388.5" y1="177.87" x2="391.5" y2="177.87" stroke="#1b48a6" stroke-width="0.7"/>
<line x1="398.6" y1="166.53" x2="398.6" y2="176.07" stroke="#1b48a6" stroke-width="0.7"/>
<line x1="397.1" y1="166.53" x2="400.1" y2="166.53" stroke="#1b48a6" stroke-width="0.7"/>
<line x1="397.1" y1="176.07" x2="400.1" y2="176.07" stroke="#1b48a6" stroke-width="0.7"/>
<line x1="407.2" y1="161.23" x2="407.2" y2="170.77" stroke="#1b48a6" stroke-width="0.7"/>
<line x1="405.7" y1="161.23" x2="408.7" y2="161.23" stroke="#1b48a6" stroke-width="0.7"/>
<line x1="405.7" y1="170.77" x2="408.7" y2="170.77" stroke="#1b48a6" stroke-width="0.7"/>
<line x1="415.8" y1="160.7" x2="415.8" y2="170.24" stroke="#1b48a6" stroke-width="0.7"/>
<line x1="414.3" y1="160.7" x2="417.3" y2="160.7" stroke="#1b48a6" stroke-width="0.7"/>
<line x1="414.3" y1="170.24" x2="417.3" y2="170.24" stroke="#1b48a6" stroke-width="0.7"/>
<line x1="424.4" y1="157.52" x2="424.4" y2="167.06" stroke="#1b48a6" stroke-width="0.7"/>
<line x1="422.9" y1="157.52" x2="425.9" y2="157.52" stroke="#1b48a6" stroke-width="0.7"/>
<line x1="422.9" y1="167.06" x2="425.9" y2="167.06" stroke="#1b48a6" stroke-width="0.7"/>
<line x1="433" y1="154.34" x2="433" y2="163.88" stroke="#1b48a6" stroke-width="0.7"/>
<line x1="431.5" y1="154.34" x2="434.5" y2="154.34" stroke="#1b48a6" stroke-width="0.7"/>
<line x1="431.5" y1="163.88" x2="434.5" y2="163.88" stroke="#1b48a6" stroke-width="0.7"/>
<line x1="441.6" y1="153.81" x2="441.6" y2="163.35" stroke="#1b48a6" stroke-width="0.7"/>
<line x1="440.1" y1="153.81" x2="443.1" y2="153.81" stroke="#1b48a6" stroke-width="0.7"/>
<line x1="440.1" y1="163.35" x2="443.1" y2="163.35" stroke="#1b48a6" stroke-width="0.7"/>
<line x1="450.2" y1="151.16" x2="450.2" y2="160.7" stroke="#1b48a6" stroke-width="0.7"/>
<line x1="448.7" y1="151.16" x2="451.7" y2="151.16" stroke="#1b48a6" stroke-width="0.7"/>
<line x1="448.7" y1="160.7" x2="451.7" y2="160.7" stroke="#1b48a6" stroke-width="0.7"/>
<line x1="458.8" y1="149.57" x2="458.8" y2="159.11" stroke="#1b48a6" stroke-width="0.7"/>
<line x1="457.3" y1="149.57" x2="460.3" y2="149.57" stroke="#1b48a6" stroke-width="0.7"/>
<line x1="457.3" y1="159.11" x2="460.3" y2="159.11" stroke="#1b48a6" stroke-width="0.7"/>
<circle cx="321.2" cy="200.98" r="1.35" fill="#1b48a6"/>
<circle cx="329.8" cy="197.8" r="1.35" fill="#1b48a6"/>
<circle cx="338.4" cy="197.27" r="1.35" fill="#1b48a6"/>
<circle cx="347" cy="193.03" r="1.35" fill="#1b48a6"/>
<circle cx="355.6" cy="188.26" r="1.35" fill="#1b48a6"/>
<circle cx="364.2" cy="185.61" r="1.35" fill="#1b48a6"/>
<circle cx="372.8" cy="180.31" r="1.35" fill="#1b48a6"/>
<circle cx="381.4" cy="175.01" r="1.35" fill="#1b48a6"/>
<circle cx="390" cy="173.1" r="1.35" fill="#1b48a6"/>
<circle cx="398.6" cy="171.3" r="1.35" fill="#1b48a6"/>
<circle cx="407.2" cy="166" r="1.35" fill="#1b48a6"/>
<circle cx="415.8" cy="165.47" r="1.35" fill="#1b48a6"/>
<circle cx="424.4" cy="162.29" r="1.35" fill="#1b48a6"/>
<circle cx="433" cy="159.11" r="1.35" fill="#1b48a6"/>
<circle cx="441.6" cy="158.58" r="1.35" fill="#1b48a6"/>
<circle cx="450.2" cy="155.93" r="1.35" fill="#1b48a6"/>
<circle cx="458.8" cy="154.34" r="1.35" fill="#1b48a6"/>
<text class="sb" x="392" y="276.5" font-size="8.1" text-anchor="middle">Time (Day)</text>
<text class="sb" x="304.85" y="196.9" font-size="8.8" text-anchor="middle" transform="rotate(-90 304.85 196.9)">Body weight (g)</text>
<text class="sb" x="0" y="281.4" font-size="17.7" stroke="#000" stroke-width="0.3">D</text>
<line x1="60.75" y1="282.4" x2="60.75" y2="392.65" stroke="#000" stroke-width="1.3"/>
<line x1="56.55" y1="392" x2="60.75" y2="392" stroke="#000" stroke-width="1.17"/>
<text class="sb" x="55.75" y="394.83" font-size="7.9" text-anchor="end">0</text>
<line x1="56.55" y1="360.8" x2="60.75" y2="360.8" stroke="#000" stroke-width="1.17"/>
<text class="sb" x="55.75" y="363.63" font-size="7.9" text-anchor="end">10</text>
<line x1="56.55" y1="329.6" x2="60.75" y2="329.6" stroke="#000" stroke-width="1.17"/>
<text class="sb" x="55.75" y="332.43" font-size="7.9" text-anchor="end">20</text>
<line x1="56.55" y1="298.4" x2="60.75" y2="298.4" stroke="#000" stroke-width="1.17"/>
<text class="sb" x="55.75" y="301.23" font-size="7.9" text-anchor="end">30</text>
<line x1="60.1" y1="392" x2="192.9" y2="392" stroke="#000" stroke-width="1.3"/>
<line x1="60.75" y1="392" x2="60.75" y2="397" stroke="#000" stroke-width="1.17"/>
<text class="sb" x="60.75" y="406.04" font-size="8.2" text-anchor="middle">0</text>
<line x1="90" y1="392" x2="90" y2="397" stroke="#000" stroke-width="1.17"/>
<text class="sb" x="90" y="406.04" font-size="8.2" text-anchor="middle">1</text>
<line x1="119.25" y1="392" x2="119.25" y2="397" stroke="#000" stroke-width="1.17"/>
<text class="sb" x="119.25" y="406.04" font-size="8.2" text-anchor="middle">2</text>
<line x1="148.5" y1="392" x2="148.5" y2="397" stroke="#000" stroke-width="1.17"/>
<text class="sb" x="148.5" y="406.04" font-size="8.2" text-anchor="middle">3</text>
<line x1="177.75" y1="392" x2="177.75" y2="397" stroke="#000" stroke-width="1.17"/>
<text class="sb" x="177.75" y="406.04" font-size="8.2" text-anchor="middle">4</text>
<path d="M60.75,336.46 L90,344.26 L119.25,337.71 L148.5,338.34 L177.75,339.27" stroke="#44bb44" stroke-width="0.9" fill="none" stroke-linejoin="round"/>
<line x1="60.75" y1="331.78" x2="60.75" y2="341.14" stroke="#44bb44" stroke-width="0.8"/>
<line x1="58.95" y1="331.78" x2="62.55" y2="331.78" stroke="#44bb44" stroke-width="0.8"/>
<line x1="58.95" y1="341.14" x2="62.55" y2="341.14" stroke="#44bb44" stroke-width="0.8"/>
<line x1="90" y1="342.39" x2="90" y2="346.14" stroke="#44bb44" stroke-width="0.8"/>
<line x1="88.2" y1="342.39" x2="91.8" y2="342.39" stroke="#44bb44" stroke-width="0.8"/>
<line x1="88.2" y1="346.14" x2="91.8" y2="346.14" stroke="#44bb44" stroke-width="0.8"/>
<line x1="119.25" y1="333.03" x2="119.25" y2="342.39" stroke="#44bb44" stroke-width="0.8"/>
<line x1="117.45" y1="333.03" x2="121.05" y2="333.03" stroke="#44bb44" stroke-width="0.8"/>
<line x1="117.45" y1="342.39" x2="121.05" y2="342.39" stroke="#44bb44" stroke-width="0.8"/>
<line x1="148.5" y1="333.03" x2="148.5" y2="343.64" stroke="#44bb44" stroke-width="0.8"/>
<line x1="146.7" y1="333.03" x2="150.3" y2="333.03" stroke="#44bb44" stroke-width="0.8"/>
<line x1="146.7" y1="343.64" x2="150.3" y2="343.64" stroke="#44bb44" stroke-width="0.8"/>
<line x1="177.75" y1="337.4" x2="177.75" y2="341.14" stroke="#44bb44" stroke-width="0.8"/>
<line x1="175.95" y1="337.4" x2="179.55" y2="337.4" stroke="#44bb44" stroke-width="0.8"/>
<line x1="175.95" y1="341.14" x2="179.55" y2="341.14" stroke="#44bb44" stroke-width="0.8"/>
<polygon points="60.75,334.52 62.55,337.76 58.95,337.76" fill="#44bb44"/>
<polygon points="90,342.32 91.8,345.56 88.2,345.56" fill="#44bb44"/>
<polygon points="119.25,335.77 121.05,339.01 117.45,339.01" fill="#44bb44"/>
<polygon points="148.5,336.39 150.3,339.63 146.7,339.63" fill="#44bb44"/>
<polygon points="177.75,337.33 179.55,340.57 175.95,340.57" fill="#44bb44"/>
<path d="M60.75,336.46 L90,342.08 L119.25,333.03 L148.5,326.17 L177.75,320.86" stroke="#e8231f" stroke-width="0.9" fill="none" stroke-linejoin="round"/>
<line x1="60.75" y1="330.22" x2="60.75" y2="342.7" stroke="#e8231f" stroke-width="0.8"/>
<line x1="58.95" y1="330.22" x2="62.55" y2="330.22" stroke="#e8231f" stroke-width="0.8"/>
<line x1="58.95" y1="342.7" x2="62.55" y2="342.7" stroke="#e8231f" stroke-width="0.8"/>
<line x1="90" y1="338.96" x2="90" y2="345.2" stroke="#e8231f" stroke-width="0.8"/>
<line x1="88.2" y1="338.96" x2="91.8" y2="338.96" stroke="#e8231f" stroke-width="0.8"/>
<line x1="88.2" y1="345.2" x2="91.8" y2="345.2" stroke="#e8231f" stroke-width="0.8"/>
<line x1="119.25" y1="329.91" x2="119.25" y2="336.15" stroke="#e8231f" stroke-width="0.8"/>
<line x1="117.45" y1="329.91" x2="121.05" y2="329.91" stroke="#e8231f" stroke-width="0.8"/>
<line x1="117.45" y1="336.15" x2="121.05" y2="336.15" stroke="#e8231f" stroke-width="0.8"/>
<line x1="148.5" y1="319.3" x2="148.5" y2="333.03" stroke="#e8231f" stroke-width="0.8"/>
<line x1="146.7" y1="319.3" x2="150.3" y2="319.3" stroke="#e8231f" stroke-width="0.8"/>
<line x1="146.7" y1="333.03" x2="150.3" y2="333.03" stroke="#e8231f" stroke-width="0.8"/>
<line x1="177.75" y1="318.99" x2="177.75" y2="322.74" stroke="#e8231f" stroke-width="0.8"/>
<line x1="175.95" y1="318.99" x2="179.55" y2="318.99" stroke="#e8231f" stroke-width="0.8"/>
<line x1="175.95" y1="322.74" x2="179.55" y2="322.74" stroke="#e8231f" stroke-width="0.8"/>
<rect x="58.85" y="334.56" width="3.8" height="3.8" fill="#e8231f"/>
<rect x="88.1" y="340.18" width="3.8" height="3.8" fill="#e8231f"/>
<rect x="117.35" y="331.13" width="3.8" height="3.8" fill="#e8231f"/>
<rect x="146.6" y="324.27" width="3.8" height="3.8" fill="#e8231f"/>
<rect x="175.85" y="318.96" width="3.8" height="3.8" fill="#e8231f"/>
<path d="M60.75,335.84 L90,332.72 L119.25,318.37 L148.5,313.06 L177.75,304.64" stroke="#1b48a6" stroke-width="0.9" fill="none" stroke-linejoin="round"/>
<line x1="60.75" y1="328.98" x2="60.75" y2="342.7" stroke="#1b48a6" stroke-width="0.8"/>
<line x1="58.95" y1="328.98" x2="62.55" y2="328.98" stroke="#1b48a6" stroke-width="0.8"/>
<line x1="58.95" y1="342.7" x2="62.55" y2="342.7" stroke="#1b48a6" stroke-width="0.8"/>
<line x1="90" y1="325.23" x2="90" y2="340.21" stroke="#1b48a6" stroke-width="0.8"/>
<line x1="88.2" y1="325.23" x2="91.8" y2="325.23" stroke="#1b48a6" stroke-width="0.8"/>
<line x1="88.2" y1="340.21" x2="91.8" y2="340.21" stroke="#1b48a6" stroke-width="0.8"/>
<line x1="119.25" y1="313.06" x2="119.25" y2="323.67" stroke="#1b48a6" stroke-width="0.8"/>
<line x1="117.45" y1="313.06" x2="121.05" y2="313.06" stroke="#1b48a6" stroke-width="0.8"/>
<line x1="117.45" y1="323.67" x2="121.05" y2="323.67" stroke="#1b48a6" stroke-width="0.8"/>
<line x1="148.5" y1="307.45" x2="148.5" y2="318.68" stroke="#1b48a6" stroke-width="0.8"/>
<line x1="146.7" y1="307.45" x2="150.3" y2="307.45" stroke="#1b48a6" stroke-width="0.8"/>
<line x1="146.7" y1="318.68" x2="150.3" y2="318.68" stroke="#1b48a6" stroke-width="0.8"/>
<line x1="177.75" y1="298.4" x2="177.75" y2="310.88" stroke="#1b48a6" stroke-width="0.8"/>
<line x1="175.95" y1="298.4" x2="179.55" y2="298.4" stroke="#1b48a6" stroke-width="0.8"/>
<line x1="175.95" y1="310.88" x2="179.55" y2="310.88" stroke="#1b48a6" stroke-width="0.8"/>
<circle cx="60.75" cy="335.84" r="2" fill="#1b48a6"/>
<circle cx="90" cy="332.72" r="2" fill="#1b48a6"/>
<circle cx="119.25" cy="318.37" r="2" fill="#1b48a6"/>
<circle cx="148.5" cy="313.06" r="2" fill="#1b48a6"/>
<circle cx="177.75" cy="304.64" r="2" fill="#1b48a6"/>
<text class="sb" x="130.7" y="418.41" font-size="8.4" text-anchor="middle">Time (week)</text>
<text class="sb" x="42.02" y="337" font-size="9" text-anchor="middle" transform="rotate(-90 42.02 337)">Fasting glucose(mmol/L)</text>
<circle cx="119.65" cy="298.3" r="1.2" fill="#000"/>
<circle cx="146.9" cy="298.3" r="1.2" fill="#000"/>
<circle cx="150.9" cy="298.3" r="1.2" fill="#000"/>
<circle cx="174.55" cy="279.2" r="1.2" fill="#000"/>
<circle cx="178.55" cy="279.2" r="1.2" fill="#000"/>
<circle cx="182.55" cy="279.2" r="1.2" fill="#000"/>
<text class="sb" x="178.05" y="290.55" font-size="6.2" text-anchor="middle">†</text>
<line x1="201.9" y1="286.9" x2="213.5" y2="286.9" stroke="#1b48a6" stroke-width="0.9"/>
<circle cx="207.7" cy="286.9" r="1.9" fill="#1b48a6"/>
<text class="s" x="219.2" y="289.42" font-size="7.05">AAV-CON-AL</text>
<line x1="201.9" y1="301.35" x2="213.5" y2="301.35" stroke="#e8231f" stroke-width="0.9"/>
<rect x="205.8" y="299.45" width="3.8" height="3.8" fill="#e8231f"/>
<text class="s" x="219.2" y="303.87" font-size="7.05">AAV-CON-MF</text>
<line x1="201.9" y1="315.8" x2="213.5" y2="315.8" stroke="#44bb44" stroke-width="0.9"/>
<polygon points="207.7,313.75 209.6,317.17 205.8,317.17" fill="#44bb44"/>
<text class="s" x="219.2" y="318.32" font-size="7.05">AAV-CON-EODF</text>
<text class="sb" x="280.2" y="281.6" font-size="17.7" stroke="#000" stroke-width="0.3">E</text>
<line x1="317" y1="284.5" x2="317" y2="390.15" stroke="#000" stroke-width="1.3"/>
<line x1="312.8" y1="389.5" x2="317" y2="389.5" stroke="#000" stroke-width="1.17"/>
<text class="sb" x="312" y="392.33" font-size="7.9" text-anchor="end">0</text>
<line x1="312.8" y1="360.5" x2="317" y2="360.5" stroke="#000" stroke-width="1.17"/>
<text class="sb" x="312" y="363.33" font-size="7.9" text-anchor="end">10</text>
<line x1="312.8" y1="331.5" x2="317" y2="331.5" stroke="#000" stroke-width="1.17"/>
<text class="sb" x="312" y="334.33" font-size="7.9" text-anchor="end">20</text>
<line x1="312.8" y1="302.5" x2="317" y2="302.5" stroke="#000" stroke-width="1.17"/>
<text class="sb" x="312" y="305.33" font-size="7.9" text-anchor="end">30</text>
<line x1="316.35" y1="389.5" x2="457.4" y2="389.5" stroke="#000" stroke-width="1.3"/>
<line x1="317" y1="389.5" x2="317" y2="394.5" stroke="#000" stroke-width="1.17"/>
<text class="sb" x="317" y="403.14" font-size="8.2" text-anchor="middle">0</text>
<line x1="348.1" y1="389.5" x2="348.1" y2="394.5" stroke="#000" stroke-width="1.17"/>
<text class="sb" x="348.1" y="403.14" font-size="8.2" text-anchor="middle">1</text>
<line x1="379.2" y1="389.5" x2="379.2" y2="394.5" stroke="#000" stroke-width="1.17"/>
<text class="sb" x="379.2" y="403.14" font-size="8.2" text-anchor="middle">2</text>
<line x1="410.3" y1="389.5" x2="410.3" y2="394.5" stroke="#000" stroke-width="1.17"/>
<text class="sb" x="410.3" y="403.14" font-size="8.2" text-anchor="middle">3</text>
<line x1="441.4" y1="389.5" x2="441.4" y2="394.5" stroke="#000" stroke-width="1.17"/>
<text class="sb" x="441.4" y="403.14" font-size="8.2" text-anchor="middle">4</text>
<path d="M317,326.28 L348.1,340.2 L379.2,334.98 L410.3,332.66 L441.4,323.67" stroke="#1f6b37" stroke-width="0.9" fill="none" stroke-linejoin="round"/>
<line x1="317" y1="320.48" x2="317" y2="332.08" stroke="#1f6b37" stroke-width="0.8"/>
<line x1="315.2" y1="320.48" x2="318.8" y2="320.48" stroke="#1f6b37" stroke-width="0.8"/>
<line x1="315.2" y1="332.08" x2="318.8" y2="332.08" stroke="#1f6b37" stroke-width="0.8"/>
<line x1="348.1" y1="335.85" x2="348.1" y2="344.55" stroke="#1f6b37" stroke-width="0.8"/>
<line x1="346.3" y1="335.85" x2="349.9" y2="335.85" stroke="#1f6b37" stroke-width="0.8"/>
<line x1="346.3" y1="344.55" x2="349.9" y2="344.55" stroke="#1f6b37" stroke-width="0.8"/>
<line x1="379.2" y1="333.24" x2="379.2" y2="336.72" stroke="#1f6b37" stroke-width="0.8"/>
<line x1="377.4" y1="333.24" x2="381" y2="333.24" stroke="#1f6b37" stroke-width="0.8"/>
<line x1="377.4" y1="336.72" x2="381" y2="336.72" stroke="#1f6b37" stroke-width="0.8"/>
<line x1="410.3" y1="329.18" x2="410.3" y2="336.14" stroke="#1f6b37" stroke-width="0.8"/>
<line x1="408.5" y1="329.18" x2="412.1" y2="329.18" stroke="#1f6b37" stroke-width="0.8"/>
<line x1="408.5" y1="336.14" x2="412.1" y2="336.14" stroke="#1f6b37" stroke-width="0.8"/>
<line x1="441.4" y1="320.77" x2="441.4" y2="326.57" stroke="#1f6b37" stroke-width="0.8"/>
<line x1="439.6" y1="320.77" x2="443.2" y2="320.77" stroke="#1f6b37" stroke-width="0.8"/>
<line x1="439.6" y1="326.57" x2="443.2" y2="326.57" stroke="#1f6b37" stroke-width="0.8"/>
<polygon points="317,324.34 318.8,327.58 315.2,327.58" fill="#1f6b37"/>
<polygon points="348.1,338.26 349.9,341.5 346.3,341.5" fill="#1f6b37"/>
<polygon points="379.2,333.04 381,336.28 377.4,336.28" fill="#1f6b37"/>
<polygon points="410.3,330.72 412.1,333.96 408.5,333.96" fill="#1f6b37"/>
<polygon points="441.4,321.73 443.2,324.97 439.6,324.97" fill="#1f6b37"/>
<path d="M317,326.28 L348.1,340.2 L379.2,332.66 L410.3,325.41 L441.4,319.03" stroke="#a51c24" stroke-width="0.9" fill="none" stroke-linejoin="round"/>
<line x1="317" y1="321.06" x2="317" y2="331.5" stroke="#a51c24" stroke-width="0.8"/>
<line x1="315.2" y1="321.06" x2="318.8" y2="321.06" stroke="#a51c24" stroke-width="0.8"/>
<line x1="315.2" y1="331.5" x2="318.8" y2="331.5" stroke="#a51c24" stroke-width="0.8"/>
<line x1="348.1" y1="336.14" x2="348.1" y2="344.26" stroke="#a51c24" stroke-width="0.8"/>
<line x1="346.3" y1="336.14" x2="349.9" y2="336.14" stroke="#a51c24" stroke-width="0.8"/>
<line x1="346.3" y1="344.26" x2="349.9" y2="344.26" stroke="#a51c24" stroke-width="0.8"/>
<line x1="379.2" y1="330.34" x2="379.2" y2="334.98" stroke="#a51c24" stroke-width="0.8"/>
<line x1="377.4" y1="330.34" x2="381" y2="330.34" stroke="#a51c24" stroke-width="0.8"/>
<line x1="377.4" y1="334.98" x2="381" y2="334.98" stroke="#a51c24" stroke-width="0.8"/>
<line x1="410.3" y1="321.35" x2="410.3" y2="329.47" stroke="#a51c24" stroke-width="0.8"/>
<line x1="408.5" y1="321.35" x2="412.1" y2="321.35" stroke="#a51c24" stroke-width="0.8"/>
<line x1="408.5" y1="329.47" x2="412.1" y2="329.47" stroke="#a51c24" stroke-width="0.8"/>
<line x1="441.4" y1="316.13" x2="441.4" y2="321.93" stroke="#a51c24" stroke-width="0.8"/>
<line x1="439.6" y1="316.13" x2="443.2" y2="316.13" stroke="#a51c24" stroke-width="0.8"/>
<line x1="439.6" y1="321.93" x2="443.2" y2="321.93" stroke="#a51c24" stroke-width="0.8"/>
<rect x="315.1" y="324.38" width="3.8" height="3.8" fill="#a51c24"/>
<rect x="346.2" y="338.3" width="3.8" height="3.8" fill="#a51c24"/>
<rect x="377.3" y="330.76" width="3.8" height="3.8" fill="#a51c24"/>
<rect x="408.4" y="323.51" width="3.8" height="3.8" fill="#a51c24"/>
<rect x="439.5" y="317.13" width="3.8" height="3.8" fill="#a51c24"/>
<path d="M317,325.12 L348.1,320.77 L379.2,312.07 L410.3,307.43 L441.4,303.08" stroke="#1d2a6b" stroke-width="0.9" fill="none" stroke-linejoin="round"/>
<line x1="317" y1="317.87" x2="317" y2="332.37" stroke="#1d2a6b" stroke-width="0.8"/>
<line x1="315.2" y1="317.87" x2="318.8" y2="317.87" stroke="#1d2a6b" stroke-width="0.8"/>
<line x1="315.2" y1="332.37" x2="318.8" y2="332.37" stroke="#1d2a6b" stroke-width="0.8"/>
<line x1="348.1" y1="312.07" x2="348.1" y2="329.47" stroke="#1d2a6b" stroke-width="0.8"/>
<line x1="346.3" y1="312.07" x2="349.9" y2="312.07" stroke="#1d2a6b" stroke-width="0.8"/>
<line x1="346.3" y1="329.47" x2="349.9" y2="329.47" stroke="#1d2a6b" stroke-width="0.8"/>
<line x1="379.2" y1="306.27" x2="379.2" y2="317.87" stroke="#1d2a6b" stroke-width="0.8"/>
<line x1="377.4" y1="306.27" x2="381" y2="306.27" stroke="#1d2a6b" stroke-width="0.8"/>
<line x1="377.4" y1="317.87" x2="381" y2="317.87" stroke="#1d2a6b" stroke-width="0.8"/>
<line x1="410.3" y1="303.95" x2="410.3" y2="310.91" stroke="#1d2a6b" stroke-width="0.8"/>
<line x1="408.5" y1="303.95" x2="412.1" y2="303.95" stroke="#1d2a6b" stroke-width="0.8"/>
<line x1="408.5" y1="310.91" x2="412.1" y2="310.91" stroke="#1d2a6b" stroke-width="0.8"/>
<line x1="441.4" y1="297.86" x2="441.4" y2="308.3" stroke="#1d2a6b" stroke-width="0.8"/>
<line x1="439.6" y1="297.86" x2="443.2" y2="297.86" stroke="#1d2a6b" stroke-width="0.8"/>
<line x1="439.6" y1="308.3" x2="443.2" y2="308.3" stroke="#1d2a6b" stroke-width="0.8"/>
<circle cx="317" cy="325.12" r="2" fill="#1d2a6b"/>
<circle cx="348.1" cy="320.77" r="2" fill="#1d2a6b"/>
<circle cx="379.2" cy="312.07" r="2" fill="#1d2a6b"/>
<circle cx="410.3" cy="307.43" r="2" fill="#1d2a6b"/>
<circle cx="441.4" cy="303.08" r="2" fill="#1d2a6b"/>
<text class="sb" x="387" y="416.13" font-size="7.9" text-anchor="middle">Time (week)</text>
<text class="sb" x="301.08" y="337" font-size="8.6" text-anchor="middle" transform="rotate(-90 301.08 337)">Fasting glucose(mmol/L)</text>
<text class="sb" x="348.1" y="293.05" font-size="6.2" text-anchor="middle">‡</text>
<circle cx="348.1" cy="298.7" r="1.2" fill="#000"/>
<text class="sb" x="379.2" y="292.05" font-size="6.2" text-anchor="middle">‡</text>
<circle cx="377.2" cy="298.2" r="1.2" fill="#000"/>
<circle cx="381.2" cy="298.2" r="1.2" fill="#000"/>
<text class="sb" x="410.3" y="292.15" font-size="6.2" text-anchor="middle">‡</text>
<circle cx="408.3" cy="298.7" r="1.2" fill="#000"/>
<circle cx="412.3" cy="298.7" r="1.2" fill="#000"/>
<circle cx="441.4" cy="292.1" r="1.2" fill="#000"/>
<line x1="450.2" y1="287.8" x2="462.3" y2="287.8" stroke="#1d2a6b" stroke-width="0.9"/>
<circle cx="455.5" cy="287.8" r="1.9" fill="#1d2a6b"/>
<text class="s" x="466" y="290.52" font-size="7.6">AAV-<tspan font-style='italic'>Klf9</tspan>-AL</text>
<line x1="450.2" y1="301.9" x2="462.3" y2="301.9" stroke="#a51c24" stroke-width="0.9"/>
<rect x="453.6" y="300" width="3.8" height="3.8" fill="#a51c24"/>
<text class="s" x="466" y="304.62" font-size="7.6">AAV-<tspan font-style='italic'>Klf9</tspan>-MF</text>
<line x1="450.2" y1="316" x2="462.3" y2="316" stroke="#1f6b37" stroke-width="0.9"/>
<polygon points="455.5,313.95 457.4,317.37 453.6,317.37" fill="#1f6b37"/>
<text class="s" x="466" y="318.72" font-size="7.6">AAV-<tspan font-style='italic'>Klf9</tspan>-EODF</text>
<text class="sb" x="1.6" y="444.2" font-size="17.7" stroke="#000" stroke-width="0.3">F</text>
<line x1="49.4" y1="450.8" x2="49.4" y2="542.95" stroke="#000" stroke-width="1.3"/>
<line x1="45.9" y1="542.3" x2="49.4" y2="542.3" stroke="#000" stroke-width="1.17"/>
<text class="sb" x="44.6" y="544.73" font-size="6.8" text-anchor="end">15</text>
<line x1="45.9" y1="520.6" x2="49.4" y2="520.6" stroke="#000" stroke-width="1.17"/>
<text class="sb" x="44.6" y="523.03" font-size="6.8" text-anchor="end">20</text>
<line x1="45.9" y1="498.9" x2="49.4" y2="498.9" stroke="#000" stroke-width="1.17"/>
<text class="sb" x="44.6" y="501.33" font-size="6.8" text-anchor="end">25</text>
<line x1="45.9" y1="477.2" x2="49.4" y2="477.2" stroke="#000" stroke-width="1.17"/>
<text class="sb" x="44.6" y="479.63" font-size="6.8" text-anchor="end">30</text>
<line x1="45.9" y1="462.44" x2="49.4" y2="462.44" stroke="#000" stroke-width="1.17"/>
<text class="sb" x="44.6" y="464.88" font-size="6.8" text-anchor="end" textLength="12.4" lengthAdjust="spacingAndGlyphs">33.4</text>
<line x1="45.9" y1="455.5" x2="49.4" y2="455.5" stroke="#000" stroke-width="1.17"/>
<text class="sb" x="44.6" y="457.93" font-size="6.8" text-anchor="end">35</text>
<line x1="48.75" y1="542.3" x2="183.4" y2="542.3" stroke="#000" stroke-width="1.3"/>
<line x1="49.4" y1="542.3" x2="49.4" y2="545.7" stroke="#000" stroke-width="1.17"/>
<text class="sb" x="49.4" y="553.73" font-size="6.8" text-anchor="middle">0</text>
<line x1="63.66" y1="542.3" x2="63.66" y2="545.7" stroke="#000" stroke-width="1.17"/>
<line x1="77.93" y1="542.3" x2="77.93" y2="545.7" stroke="#000" stroke-width="1.17"/>
<text class="sb" x="77.93" y="553.73" font-size="6.8" text-anchor="middle">30</text>
<line x1="106.46" y1="542.3" x2="106.46" y2="545.7" stroke="#000" stroke-width="1.17"/>
<text class="sb" x="106.46" y="553.73" font-size="6.8" text-anchor="middle">60</text>
<line x1="134.99" y1="542.3" x2="134.99" y2="545.7" stroke="#000" stroke-width="1.17"/>
<text class="sb" x="134.99" y="553.73" font-size="6.8" text-anchor="middle">90</text>
<line x1="163.52" y1="542.3" x2="163.52" y2="545.7" stroke="#000" stroke-width="1.17"/>
<text class="sb" x="163.52" y="553.73" font-size="6.8" text-anchor="middle">120</text>
<line x1="49.4" y1="462.44" x2="181.5" y2="462.44" stroke="#000" stroke-width="0.9" stroke-dasharray="1.1 1.45"/>
<path d="M49.4,534.49 L63.66,485.88 L77.93,464.61 L106.46,484.58 L134.99,495.43 L163.52,514.09" stroke="#44bb44" stroke-width="0.9" fill="none" stroke-linejoin="round"/>
<line x1="49.4" y1="531.02" x2="49.4" y2="537.96" stroke="#44bb44" stroke-width="0.75"/>
<line x1="47.7" y1="531.02" x2="51.1" y2="531.02" stroke="#44bb44" stroke-width="0.75"/>
<line x1="47.7" y1="537.96" x2="51.1" y2="537.96" stroke="#44bb44" stroke-width="0.75"/>
<line x1="63.66" y1="481.54" x2="63.66" y2="490.22" stroke="#44bb44" stroke-width="0.75"/>
<line x1="61.96" y1="481.54" x2="65.36" y2="481.54" stroke="#44bb44" stroke-width="0.75"/>
<line x1="61.96" y1="490.22" x2="65.36" y2="490.22" stroke="#44bb44" stroke-width="0.75"/>
<line x1="77.93" y1="463.31" x2="77.93" y2="465.92" stroke="#44bb44" stroke-width="0.75"/>
<line x1="76.23" y1="463.31" x2="79.63" y2="463.31" stroke="#44bb44" stroke-width="0.75"/>
<line x1="76.23" y1="465.92" x2="79.63" y2="465.92" stroke="#44bb44" stroke-width="0.75"/>
<line x1="106.46" y1="478.94" x2="106.46" y2="490.22" stroke="#44bb44" stroke-width="0.75"/>
<line x1="104.76" y1="478.94" x2="108.16" y2="478.94" stroke="#44bb44" stroke-width="0.75"/>
<line x1="104.76" y1="490.22" x2="108.16" y2="490.22" stroke="#44bb44" stroke-width="0.75"/>
<line x1="134.99" y1="491.09" x2="134.99" y2="499.77" stroke="#44bb44" stroke-width="0.75"/>
<line x1="133.29" y1="491.09" x2="136.69" y2="491.09" stroke="#44bb44" stroke-width="0.75"/>
<line x1="133.29" y1="499.77" x2="136.69" y2="499.77" stroke="#44bb44" stroke-width="0.75"/>
<line x1="163.52" y1="511.05" x2="163.52" y2="517.13" stroke="#44bb44" stroke-width="0.75"/>
<line x1="161.82" y1="511.05" x2="165.22" y2="511.05" stroke="#44bb44" stroke-width="0.75"/>
<line x1="161.82" y1="517.13" x2="165.22" y2="517.13" stroke="#44bb44" stroke-width="0.75"/>
<polygon points="49.4,532.65 51.1,535.71 47.7,535.71" fill="#44bb44"/>
<polygon points="63.66,484.04 65.36,487.1 61.96,487.1" fill="#44bb44"/>
<polygon points="77.93,462.78 79.63,465.84 76.23,465.84" fill="#44bb44"/>
<polygon points="106.46,482.74 108.16,485.8 104.76,485.8" fill="#44bb44"/>
<polygon points="134.99,493.59 136.69,496.65 133.29,496.65" fill="#44bb44"/>
<polygon points="163.52,512.25 165.22,515.31 161.82,515.31" fill="#44bb44"/>
<path d="M49.4,508.01 L63.66,476.33 L77.93,462.44 L106.46,470.26 L134.99,485.45 L163.52,497.16" stroke="#e8231f" stroke-width="0.9" fill="none" stroke-linejoin="round"/>
<line x1="49.4" y1="504.54" x2="49.4" y2="511.49" stroke="#e8231f" stroke-width="0.75"/>
<line x1="47.7" y1="504.54" x2="51.1" y2="504.54" stroke="#e8231f" stroke-width="0.75"/>
<line x1="47.7" y1="511.49" x2="51.1" y2="511.49" stroke="#e8231f" stroke-width="0.75"/>
<line x1="63.66" y1="471.12" x2="63.66" y2="481.54" stroke="#e8231f" stroke-width="0.75"/>
<line x1="61.96" y1="471.12" x2="65.36" y2="471.12" stroke="#e8231f" stroke-width="0.75"/>
<line x1="61.96" y1="481.54" x2="65.36" y2="481.54" stroke="#e8231f" stroke-width="0.75"/>
<line x1="77.93" y1="461.58" x2="77.93" y2="463.31" stroke="#e8231f" stroke-width="0.75"/>
<line x1="76.23" y1="461.58" x2="79.63" y2="461.58" stroke="#e8231f" stroke-width="0.75"/>
<line x1="76.23" y1="463.31" x2="79.63" y2="463.31" stroke="#e8231f" stroke-width="0.75"/>
<line x1="106.46" y1="466.78" x2="106.46" y2="473.73" stroke="#e8231f" stroke-width="0.75"/>
<line x1="104.76" y1="466.78" x2="108.16" y2="466.78" stroke="#e8231f" stroke-width="0.75"/>
<line x1="104.76" y1="473.73" x2="108.16" y2="473.73" stroke="#e8231f" stroke-width="0.75"/>
<line x1="134.99" y1="478.94" x2="134.99" y2="491.96" stroke="#e8231f" stroke-width="0.75"/>
<line x1="133.29" y1="478.94" x2="136.69" y2="478.94" stroke="#e8231f" stroke-width="0.75"/>
<line x1="133.29" y1="491.96" x2="136.69" y2="491.96" stroke="#e8231f" stroke-width="0.75"/>
<line x1="163.52" y1="489.35" x2="163.52" y2="504.98" stroke="#e8231f" stroke-width="0.75"/>
<line x1="161.82" y1="489.35" x2="165.22" y2="489.35" stroke="#e8231f" stroke-width="0.75"/>
<line x1="161.82" y1="504.98" x2="165.22" y2="504.98" stroke="#e8231f" stroke-width="0.75"/>
<rect x="47.6" y="506.21" width="3.6" height="3.6" fill="#e8231f"/>
<rect x="61.87" y="474.53" width="3.6" height="3.6" fill="#e8231f"/>
<rect x="76.13" y="460.64" width="3.6" height="3.6" fill="#e8231f"/>
<rect x="104.66" y="468.46" width="3.6" height="3.6" fill="#e8231f"/>
<rect x="133.19" y="483.65" width="3.6" height="3.6" fill="#e8231f"/>
<rect x="161.72" y="495.36" width="3.6" height="3.6" fill="#e8231f"/>
<path d="M49.4,485.88 L63.66,467.22 L77.93,462.44 L106.46,462.44 L134.99,462.44 L163.52,468.95" stroke="#1b48a6" stroke-width="0.9" fill="none" stroke-linejoin="round"/>
<line x1="49.4" y1="477.2" x2="49.4" y2="494.56" stroke="#1b48a6" stroke-width="0.75"/>
<line x1="47.7" y1="477.2" x2="51.1" y2="477.2" stroke="#1b48a6" stroke-width="0.75"/>
<line x1="47.7" y1="494.56" x2="51.1" y2="494.56" stroke="#1b48a6" stroke-width="0.75"/>
<line x1="63.66" y1="464.61" x2="63.66" y2="469.82" stroke="#1b48a6" stroke-width="0.75"/>
<line x1="61.96" y1="464.61" x2="65.36" y2="464.61" stroke="#1b48a6" stroke-width="0.75"/>
<line x1="61.96" y1="469.82" x2="65.36" y2="469.82" stroke="#1b48a6" stroke-width="0.75"/>
<line x1="163.52" y1="463.75" x2="163.52" y2="474.16" stroke="#1b48a6" stroke-width="0.75"/>
<line x1="161.82" y1="463.75" x2="165.22" y2="463.75" stroke="#1b48a6" stroke-width="0.75"/>
<line x1="161.82" y1="474.16" x2="165.22" y2="474.16" stroke="#1b48a6" stroke-width="0.75"/>
<circle cx="49.4" cy="485.88" r="1.9" fill="#1b48a6"/>
<circle cx="63.66" cy="467.22" r="1.9" fill="#1b48a6"/>
<circle cx="77.93" cy="462.44" r="1.9" fill="#1b48a6"/>
<circle cx="106.46" cy="462.44" r="1.9" fill="#1b48a6"/>
<circle cx="134.99" cy="462.44" r="1.9" fill="#1b48a6"/>
<circle cx="163.52" cy="468.95" r="1.9" fill="#1b48a6"/>
<text class="sb" x="63.66" y="552.43" font-size="6.8" text-anchor="middle">15</text>
<text class="sb" x="104.3" y="437.57" font-size="8.3" text-anchor="middle">GTT</text>
<text class="sb" x="116.5" y="565.51" font-size="7.3" text-anchor="middle">Time(min)</text>
<text class="sb" x="28.16" y="496" font-size="7.7" text-anchor="middle" transform="rotate(-90 28.16 496)">glucose(mmol/L)</text>
<circle cx="63.66" cy="456.2" r="1.2" fill="#000"/>
<circle cx="104.46" cy="456.2" r="1.2" fill="#000"/>
<circle cx="108.46" cy="456.2" r="1.2" fill="#000"/>
<text class="sb" x="134.99" y="453.35" font-size="6.2" text-anchor="middle">‡‡</text>
<circle cx="130.99" cy="457" r="1.2" fill="#000"/>
<circle cx="134.99" cy="457" r="1.2" fill="#000"/>
<circle cx="138.99" cy="457" r="1.2" fill="#000"/>
<text class="sb" x="163.52" y="447.65" font-size="6.2" text-anchor="middle">‡‡</text>
<circle cx="159.52" cy="450.8" r="1.2" fill="#000"/>
<circle cx="163.52" cy="450.8" r="1.2" fill="#000"/>
<circle cx="167.52" cy="450.8" r="1.2" fill="#000"/>
<text class="sb" x="163.52" y="459.35" font-size="6.2" text-anchor="middle">†</text>
<rect x="211.55" y="470.64" width="8.3" height="70.86" fill="none" stroke="#1b48a6" stroke-width="1.5"/>
<line x1="215.7" y1="468.41" x2="215.7" y2="472.87" stroke="#1b48a6" stroke-width="0.8"/>
<line x1="213.7" y1="468.41" x2="217.7" y2="468.41" stroke="#1b48a6" stroke-width="0.8"/>
<line x1="213.7" y1="472.87" x2="217.7" y2="472.87" stroke="#1b48a6" stroke-width="0.8"/>
<circle cx="215.7" cy="469.15" r="1.2" fill="#1b48a6"/>
<circle cx="219.7" cy="468.78" r="1.2" fill="#1b48a6"/>
<circle cx="215.7" cy="477.32" r="1.2" fill="#1b48a6"/>
<circle cx="212.7" cy="471.01" r="1.2" fill="#1b48a6"/>
<rect x="226.25" y="483.62" width="8.3" height="57.88" fill="none" stroke="#e8231f" stroke-width="1.5"/>
<line x1="230.4" y1="478.8" x2="230.4" y2="488.45" stroke="#e8231f" stroke-width="0.8"/>
<line x1="228.4" y1="478.8" x2="232.4" y2="478.8" stroke="#e8231f" stroke-width="0.8"/>
<line x1="228.4" y1="488.45" x2="232.4" y2="488.45" stroke="#e8231f" stroke-width="0.8"/>
<rect x="229.2" y="469.81" width="2.4" height="2.4" fill="#e8231f"/>
<rect x="229.2" y="500.23" width="2.4" height="2.4" fill="#e8231f"/>
<rect x="227.2" y="484.65" width="2.4" height="2.4" fill="#e8231f"/>
<rect x="231.2" y="479.08" width="2.4" height="2.4" fill="#e8231f"/>
<rect x="240.95" y="495.12" width="8.3" height="46.38" fill="none" stroke="#2ea42e" stroke-width="1.5"/>
<line x1="245.1" y1="491.79" x2="245.1" y2="498.46" stroke="#2ea42e" stroke-width="0.8"/>
<line x1="243.1" y1="491.79" x2="247.1" y2="491.79" stroke="#2ea42e" stroke-width="0.8"/>
<line x1="243.1" y1="498.46" x2="247.1" y2="498.46" stroke="#2ea42e" stroke-width="0.8"/>
<polygon points="248.1,486.41 249.3,488.57 246.9,488.57" fill="#2ea42e"/>
<polygon points="250.1,483.44 251.3,485.6 248.9,485.6" fill="#2ea42e"/>
<polygon points="243.1,495.68 244.3,497.84 241.9,497.84" fill="#2ea42e"/>
<polygon points="245.1,491.97 246.3,494.13 243.9,494.13" fill="#2ea42e"/>
<line x1="206.2" y1="466" x2="206.2" y2="542.15" stroke="#000" stroke-width="1.3"/>
<line x1="201.6" y1="541.5" x2="206.2" y2="541.5" stroke="#000" stroke-width="1.17"/>
<text class="sb" x="201.3" y="543.43" font-size="5.4" text-anchor="end">2000</text>
<line x1="201.6" y1="504.4" x2="206.2" y2="504.4" stroke="#000" stroke-width="1.17"/>
<text class="sb" x="201.3" y="506.33" font-size="5.4" text-anchor="end">3000</text>
<line x1="201.6" y1="467.3" x2="206.2" y2="467.3" stroke="#000" stroke-width="1.17"/>
<text class="sb" x="201.3" y="469.23" font-size="5.4" text-anchor="end">4000</text>
<line x1="205.55" y1="541.5" x2="254.4" y2="541.5" stroke="#000" stroke-width="1.3"/>
<line x1="215.7" y1="541.5" x2="215.7" y2="544.1" stroke="#000" stroke-width="1"/>
<text class="sb" x="215.7" y="550.17" font-size="5.5" text-anchor="middle">AL</text>
<line x1="230.4" y1="541.5" x2="230.4" y2="544.1" stroke="#000" stroke-width="1"/>
<text class="sb" x="230.4" y="550.17" font-size="5.5" text-anchor="middle">MF</text>
<line x1="245.1" y1="541.5" x2="245.1" y2="544.1" stroke="#000" stroke-width="1"/>
<text class="sb" x="245.1" y="550.17" font-size="5.5" text-anchor="middle">EODF</text>
<text class="sb" x="186.74" y="504" font-size="5.7" text-anchor="middle" transform="rotate(-90 186.74 504)">AUC</text>
<line x1="214.7" y1="455.6" x2="245.1" y2="455.6" stroke="#000" stroke-width="0.8"/>
<circle cx="227" cy="452.3" r="0.9" fill="#000"/>
<circle cx="229.9" cy="452.3" r="0.9" fill="#000"/>
<circle cx="232.8" cy="452.3" r="0.9" fill="#000"/>
<line x1="214.7" y1="463.7" x2="229" y2="463.7" stroke="#000" stroke-width="0.8"/>
<circle cx="222.3" cy="460.7" r="0.9" fill="#000"/>
<line x1="231.6" y1="467" x2="246.8" y2="467" stroke="#8a8a8a" stroke-width="1.2"/>
<text class="si" x="239" y="464.2" font-size="4.4" text-anchor="middle" fill="#555">P=0.067</text>
<text class="sb" x="276.8" y="444.2" font-size="17.7" stroke="#000" stroke-width="0.3">G</text>
<line x1="305.1" y1="451.2" x2="305.1" y2="542.95" stroke="#000" stroke-width="1.3"/>
<line x1="301.6" y1="542.3" x2="305.1" y2="542.3" stroke="#000" stroke-width="1.17"/>
<text class="sb" x="300.3" y="544.73" font-size="6.8" text-anchor="end">15</text>
<line x1="301.6" y1="520.65" x2="305.1" y2="520.65" stroke="#000" stroke-width="1.17"/>
<text class="sb" x="300.3" y="523.08" font-size="6.8" text-anchor="end">20</text>
<line x1="301.6" y1="499" x2="305.1" y2="499" stroke="#000" stroke-width="1.17"/>
<text class="sb" x="300.3" y="501.43" font-size="6.8" text-anchor="end">25</text>
<line x1="301.6" y1="477.35" x2="305.1" y2="477.35" stroke="#000" stroke-width="1.17"/>
<text class="sb" x="300.3" y="479.78" font-size="6.8" text-anchor="end">30</text>
<line x1="301.6" y1="462.63" x2="305.1" y2="462.63" stroke="#000" stroke-width="1.17"/>
<text class="sb" x="300.3" y="465.06" font-size="6.8" text-anchor="end" textLength="12.4" lengthAdjust="spacingAndGlyphs">33.4</text>
<line x1="301.6" y1="455.7" x2="305.1" y2="455.7" stroke="#000" stroke-width="1.17"/>
<text class="sb" x="300.3" y="458.13" font-size="6.8" text-anchor="end">35</text>
<line x1="304.45" y1="542.3" x2="437.3" y2="542.3" stroke="#000" stroke-width="1.3"/>
<line x1="305.1" y1="542.3" x2="305.1" y2="545.7" stroke="#000" stroke-width="1.17"/>
<text class="sb" x="305.1" y="553.43" font-size="6.8" text-anchor="middle">0</text>
<line x1="319.43" y1="542.3" x2="319.43" y2="545.7" stroke="#000" stroke-width="1.17"/>
<line x1="333.75" y1="542.3" x2="333.75" y2="545.7" stroke="#000" stroke-width="1.17"/>
<text class="sb" x="333.75" y="553.43" font-size="6.8" text-anchor="middle">30</text>
<line x1="362.4" y1="542.3" x2="362.4" y2="545.7" stroke="#000" stroke-width="1.17"/>
<text class="sb" x="362.4" y="553.43" font-size="6.8" text-anchor="middle">60</text>
<line x1="391.05" y1="542.3" x2="391.05" y2="545.7" stroke="#000" stroke-width="1.17"/>
<text class="sb" x="391.05" y="553.43" font-size="6.8" text-anchor="middle">90</text>
<line x1="419.7" y1="542.3" x2="419.7" y2="545.7" stroke="#000" stroke-width="1.17"/>
<text class="sb" x="419.7" y="553.43" font-size="6.8" text-anchor="middle">120</text>
<line x1="305.1" y1="462.63" x2="437.5" y2="462.63" stroke="#000" stroke-width="0.9" stroke-dasharray="1.1 1.45"/>
<path d="M305.1,508.09 L319.43,473.45 L333.75,465.66 L362.4,471.29 L391.05,484.28 L419.7,497.27" stroke="#1f6b37" stroke-width="0.9" fill="none" stroke-linejoin="round"/>
<line x1="305.1" y1="502.9" x2="305.1" y2="513.29" stroke="#1f6b37" stroke-width="0.75"/>
<line x1="303.4" y1="502.9" x2="306.8" y2="502.9" stroke="#1f6b37" stroke-width="0.75"/>
<line x1="303.4" y1="513.29" x2="306.8" y2="513.29" stroke="#1f6b37" stroke-width="0.75"/>
<line x1="319.43" y1="469.12" x2="319.43" y2="477.78" stroke="#1f6b37" stroke-width="0.75"/>
<line x1="317.73" y1="469.12" x2="321.12" y2="469.12" stroke="#1f6b37" stroke-width="0.75"/>
<line x1="317.73" y1="477.78" x2="321.12" y2="477.78" stroke="#1f6b37" stroke-width="0.75"/>
<line x1="333.75" y1="463.93" x2="333.75" y2="467.39" stroke="#1f6b37" stroke-width="0.75"/>
<line x1="332.05" y1="463.93" x2="335.45" y2="463.93" stroke="#1f6b37" stroke-width="0.75"/>
<line x1="332.05" y1="467.39" x2="335.45" y2="467.39" stroke="#1f6b37" stroke-width="0.75"/>
<line x1="362.4" y1="468.69" x2="362.4" y2="473.89" stroke="#1f6b37" stroke-width="0.75"/>
<line x1="360.7" y1="468.69" x2="364.1" y2="468.69" stroke="#1f6b37" stroke-width="0.75"/>
<line x1="360.7" y1="473.89" x2="364.1" y2="473.89" stroke="#1f6b37" stroke-width="0.75"/>
<line x1="391.05" y1="477.78" x2="391.05" y2="490.77" stroke="#1f6b37" stroke-width="0.75"/>
<line x1="389.35" y1="477.78" x2="392.75" y2="477.78" stroke="#1f6b37" stroke-width="0.75"/>
<line x1="389.35" y1="490.77" x2="392.75" y2="490.77" stroke="#1f6b37" stroke-width="0.75"/>
<line x1="419.7" y1="492.07" x2="419.7" y2="502.46" stroke="#1f6b37" stroke-width="0.75"/>
<line x1="418" y1="492.07" x2="421.4" y2="492.07" stroke="#1f6b37" stroke-width="0.75"/>
<line x1="418" y1="502.46" x2="421.4" y2="502.46" stroke="#1f6b37" stroke-width="0.75"/>
<polygon points="305.1,506.26 306.8,509.32 303.4,509.32" fill="#1f6b37"/>
<polygon points="319.43,471.62 321.12,474.68 317.73,474.68" fill="#1f6b37"/>
<polygon points="333.75,463.82 335.45,466.88 332.05,466.88" fill="#1f6b37"/>
<polygon points="362.4,469.45 364.1,472.51 360.7,472.51" fill="#1f6b37"/>
<polygon points="391.05,482.44 392.75,485.5 389.35,485.5" fill="#1f6b37"/>
<polygon points="419.7,495.43 421.4,498.49 418,498.49" fill="#1f6b37"/>
<path d="M305.1,501.6 L319.43,470.42 L333.75,462.63 L362.4,470.85 L391.05,488.61 L419.7,500.73" stroke="#a51c24" stroke-width="0.9" fill="none" stroke-linejoin="round"/>
<line x1="305.1" y1="497.27" x2="305.1" y2="505.93" stroke="#a51c24" stroke-width="0.75"/>
<line x1="303.4" y1="497.27" x2="306.8" y2="497.27" stroke="#a51c24" stroke-width="0.75"/>
<line x1="303.4" y1="505.93" x2="306.8" y2="505.93" stroke="#a51c24" stroke-width="0.75"/>
<line x1="319.43" y1="467.39" x2="319.43" y2="473.45" stroke="#a51c24" stroke-width="0.75"/>
<line x1="317.73" y1="467.39" x2="321.12" y2="467.39" stroke="#a51c24" stroke-width="0.75"/>
<line x1="317.73" y1="473.45" x2="321.12" y2="473.45" stroke="#a51c24" stroke-width="0.75"/>
<line x1="333.75" y1="461.76" x2="333.75" y2="463.49" stroke="#a51c24" stroke-width="0.75"/>
<line x1="332.05" y1="461.76" x2="335.45" y2="461.76" stroke="#a51c24" stroke-width="0.75"/>
<line x1="332.05" y1="463.49" x2="335.45" y2="463.49" stroke="#a51c24" stroke-width="0.75"/>
<line x1="362.4" y1="467.82" x2="362.4" y2="473.89" stroke="#a51c24" stroke-width="0.75"/>
<line x1="360.7" y1="467.82" x2="364.1" y2="467.82" stroke="#a51c24" stroke-width="0.75"/>
<line x1="360.7" y1="473.89" x2="364.1" y2="473.89" stroke="#a51c24" stroke-width="0.75"/>
<line x1="391.05" y1="479.95" x2="391.05" y2="497.27" stroke="#a51c24" stroke-width="0.75"/>
<line x1="389.35" y1="479.95" x2="392.75" y2="479.95" stroke="#a51c24" stroke-width="0.75"/>
<line x1="389.35" y1="497.27" x2="392.75" y2="497.27" stroke="#a51c24" stroke-width="0.75"/>
<line x1="419.7" y1="494.24" x2="419.7" y2="507.23" stroke="#a51c24" stroke-width="0.75"/>
<line x1="418" y1="494.24" x2="421.4" y2="494.24" stroke="#a51c24" stroke-width="0.75"/>
<line x1="418" y1="507.23" x2="421.4" y2="507.23" stroke="#a51c24" stroke-width="0.75"/>
<rect x="303.3" y="499.8" width="3.6" height="3.6" fill="#a51c24"/>
<rect x="317.62" y="468.62" width="3.6" height="3.6" fill="#a51c24"/>
<rect x="331.95" y="460.83" width="3.6" height="3.6" fill="#a51c24"/>
<rect x="360.6" y="469.05" width="3.6" height="3.6" fill="#a51c24"/>
<rect x="389.25" y="486.81" width="3.6" height="3.6" fill="#a51c24"/>
<rect x="417.9" y="498.93" width="3.6" height="3.6" fill="#a51c24"/>
<path d="M305.1,477.78 L319.43,462.63 L333.75,462.63 L362.4,462.63 L391.05,462.63 L419.7,466.96" stroke="#1d2a6b" stroke-width="0.9" fill="none" stroke-linejoin="round"/>
<line x1="305.1" y1="470.85" x2="305.1" y2="484.71" stroke="#1d2a6b" stroke-width="0.75"/>
<line x1="303.4" y1="470.85" x2="306.8" y2="470.85" stroke="#1d2a6b" stroke-width="0.75"/>
<line x1="303.4" y1="484.71" x2="306.8" y2="484.71" stroke="#1d2a6b" stroke-width="0.75"/>
<line x1="419.7" y1="463.93" x2="419.7" y2="469.99" stroke="#1d2a6b" stroke-width="0.75"/>
<line x1="418" y1="463.93" x2="421.4" y2="463.93" stroke="#1d2a6b" stroke-width="0.75"/>
<line x1="418" y1="469.99" x2="421.4" y2="469.99" stroke="#1d2a6b" stroke-width="0.75"/>
<circle cx="305.1" cy="477.78" r="1.9" fill="#1d2a6b"/>
<circle cx="319.43" cy="462.63" r="1.9" fill="#1d2a6b"/>
<circle cx="333.75" cy="462.63" r="1.9" fill="#1d2a6b"/>
<circle cx="362.4" cy="462.63" r="1.9" fill="#1d2a6b"/>
<circle cx="391.05" cy="462.63" r="1.9" fill="#1d2a6b"/>
<circle cx="419.7" cy="466.96" r="1.9" fill="#1d2a6b"/>
<text class="sb" x="319.43" y="552.13" font-size="6.8" text-anchor="middle">15</text>
<text class="sb" x="360.4" y="438.47" font-size="8.3" text-anchor="middle">GTT</text>
<text class="sb" x="371.9" y="565.25" font-size="7.4" text-anchor="middle">Time(min)</text>
<text class="sb" x="284.46" y="496" font-size="7.7" text-anchor="middle" transform="rotate(-90 284.46 496)">glucose(mmol/L)</text>
<text class="sb" x="391.05" y="452.25" font-size="6.2" text-anchor="middle">‡‡</text>
<circle cx="391.05" cy="455.4" r="1.2" fill="#000"/>
<text class="sb" x="419.7" y="452.25" font-size="6.2" text-anchor="middle">‡‡‡</text>
<circle cx="415.7" cy="455.4" r="1.2" fill="#000"/>
<circle cx="419.7" cy="455.4" r="1.2" fill="#000"/>
<circle cx="423.7" cy="455.4" r="1.2" fill="#000"/>
<rect x="466.15" y="471.87" width="8.4" height="68.73" fill="none" stroke="#1d2a6b" stroke-width="1.5"/>
<line x1="470.35" y1="470.48" x2="470.35" y2="473.26" stroke="#1d2a6b" stroke-width="0.8"/>
<line x1="468.35" y1="470.48" x2="472.35" y2="470.48" stroke="#1d2a6b" stroke-width="0.8"/>
<line x1="468.35" y1="473.26" x2="472.35" y2="473.26" stroke="#1d2a6b" stroke-width="0.8"/>
<circle cx="468.35" cy="471" r="1.2" fill="#1d2a6b"/>
<circle cx="472.35" cy="470.65" r="1.2" fill="#1d2a6b"/>
<circle cx="470.35" cy="477.96" r="1.2" fill="#1d2a6b"/>
<circle cx="474.35" cy="471.35" r="1.2" fill="#1d2a6b"/>
<rect x="481.35" y="487.36" width="8.4" height="53.24" fill="none" stroke="#a51c24" stroke-width="1.5"/>
<line x1="485.55" y1="483.18" x2="485.55" y2="491.53" stroke="#a51c24" stroke-width="0.8"/>
<line x1="483.55" y1="483.18" x2="487.55" y2="483.18" stroke="#a51c24" stroke-width="0.8"/>
<line x1="483.55" y1="491.53" x2="487.55" y2="491.53" stroke="#a51c24" stroke-width="0.8"/>
<rect x="487.35" y="473.28" width="2.4" height="2.4" fill="#a51c24"/>
<rect x="484.35" y="483.72" width="2.4" height="2.4" fill="#a51c24"/>
<rect x="481.35" y="499.38" width="2.4" height="2.4" fill="#a51c24"/>
<rect x="487.35" y="492.42" width="2.4" height="2.4" fill="#a51c24"/>
<rect x="496.95" y="486.49" width="8.4" height="54.11" fill="none" stroke="#1f6b37" stroke-width="1.5"/>
<line x1="501.15" y1="483.01" x2="501.15" y2="489.97" stroke="#1f6b37" stroke-width="0.8"/>
<line x1="499.15" y1="483.01" x2="503.15" y2="483.01" stroke="#1f6b37" stroke-width="0.8"/>
<line x1="499.15" y1="489.97" x2="503.15" y2="489.97" stroke="#1f6b37" stroke-width="0.8"/>
<polygon points="503.15,476.66 504.35,478.82 501.95,478.82" fill="#1f6b37"/>
<polygon points="499.15,480.14 500.35,482.3 497.95,482.3" fill="#1f6b37"/>
<polygon points="501.15,487.1 502.35,489.26 499.95,489.26" fill="#1f6b37"/>
<polygon points="504.15,483.62 505.35,485.78 502.95,485.78" fill="#1f6b37"/>
<line x1="460.7" y1="462.8" x2="460.7" y2="541.25" stroke="#000" stroke-width="1.3"/>
<line x1="456.1" y1="540.6" x2="460.7" y2="540.6" stroke="#000" stroke-width="1.17"/>
<text class="sb" x="455.8" y="542.53" font-size="5.4" text-anchor="end">2000</text>
<line x1="456.1" y1="505.8" x2="460.7" y2="505.8" stroke="#000" stroke-width="1.17"/>
<text class="sb" x="455.8" y="507.73" font-size="5.4" text-anchor="end">3000</text>
<line x1="456.1" y1="471" x2="460.7" y2="471" stroke="#000" stroke-width="1.17"/>
<text class="sb" x="455.8" y="472.93" font-size="5.4" text-anchor="end">4000</text>
<line x1="460.05" y1="540.6" x2="509.4" y2="540.6" stroke="#000" stroke-width="1.3"/>
<line x1="470.35" y1="540.6" x2="470.35" y2="543.2" stroke="#000" stroke-width="1"/>
<text class="sb" x="470.35" y="550.17" font-size="5.5" text-anchor="middle">AL</text>
<line x1="485.55" y1="540.6" x2="485.55" y2="543.2" stroke="#000" stroke-width="1"/>
<text class="sb" x="485.55" y="550.17" font-size="5.5" text-anchor="middle">MF</text>
<line x1="501.15" y1="540.6" x2="501.15" y2="543.2" stroke="#000" stroke-width="1"/>
<text class="sb" x="501.15" y="550.17" font-size="5.5" text-anchor="middle">EODF</text>
<text class="sb" x="440.44" y="502.6" font-size="5.7" text-anchor="middle" transform="rotate(-90 440.44 502.6)">AUC</text>
<line x1="469.7" y1="458.3" x2="501" y2="458.3" stroke="#000" stroke-width="0.8"/>
<circle cx="485.2" cy="455.4" r="0.9" fill="#000"/>
<line x1="469.7" y1="466.7" x2="485.4" y2="466.7" stroke="#000" stroke-width="0.8"/>
<circle cx="477.3" cy="463.9" r="0.9" fill="#000"/>
<text class="sb" x="1.3" y="589.6" font-size="17.7" stroke="#000" stroke-width="0.3">H</text>
<line x1="51.4" y1="599.6" x2="51.4" y2="686.25" stroke="#000" stroke-width="1.3"/>
<line x1="47.9" y1="676.52" x2="51.4" y2="676.52" stroke="#000" stroke-width="1.17"/>
<text class="sb" x="46.6" y="678.95" font-size="6.8" text-anchor="end">20</text>
<line x1="47.9" y1="652.62" x2="51.4" y2="652.62" stroke="#000" stroke-width="1.17"/>
<text class="sb" x="46.6" y="655.05" font-size="6.8" text-anchor="end">25</text>
<line x1="47.9" y1="628.72" x2="51.4" y2="628.72" stroke="#000" stroke-width="1.17"/>
<text class="sb" x="46.6" y="631.15" font-size="6.8" text-anchor="end">30</text>
<line x1="47.9" y1="612.47" x2="51.4" y2="612.47" stroke="#000" stroke-width="1.17"/>
<text class="sb" x="46.6" y="614.9" font-size="6.8" text-anchor="end" textLength="12.4" lengthAdjust="spacingAndGlyphs">33.4</text>
<line x1="47.9" y1="604.82" x2="51.4" y2="604.82" stroke="#000" stroke-width="1.17"/>
<text class="sb" x="46.6" y="607.25" font-size="6.8" text-anchor="end">35</text>
<line x1="50.75" y1="685.6" x2="179.8" y2="685.6" stroke="#000" stroke-width="1.3"/>
<line x1="51.4" y1="685.6" x2="51.4" y2="689" stroke="#000" stroke-width="1.17"/>
<text class="sb" x="51.4" y="696.43" font-size="6.8" text-anchor="middle">0</text>
<line x1="66.25" y1="685.6" x2="66.25" y2="689" stroke="#000" stroke-width="1.17"/>
<line x1="81.1" y1="685.6" x2="81.1" y2="689" stroke="#000" stroke-width="1.17"/>
<text class="sb" x="81.1" y="696.43" font-size="6.8" text-anchor="middle">30</text>
<line x1="110.8" y1="685.6" x2="110.8" y2="689" stroke="#000" stroke-width="1.17"/>
<text class="sb" x="110.8" y="696.43" font-size="6.8" text-anchor="middle">60</text>
<line x1="140.5" y1="685.6" x2="140.5" y2="689" stroke="#000" stroke-width="1.17"/>
<text class="sb" x="140.5" y="696.43" font-size="6.8" text-anchor="middle">90</text>
<line x1="170.2" y1="685.6" x2="170.2" y2="689" stroke="#000" stroke-width="1.17"/>
<text class="sb" x="170.2" y="696.43" font-size="6.8" text-anchor="middle">120</text>
<line x1="51.4" y1="612.47" x2="179" y2="612.47" stroke="#000" stroke-width="0.9" stroke-dasharray="1.1 1.45"/>
<path d="M51.4,671.74 L66.25,661.22 L81.1,644.01 L110.8,655.49 L140.5,662.18 L170.2,666.96" stroke="#44bb44" stroke-width="0.9" fill="none" stroke-linejoin="round"/>
<line x1="51.4" y1="668.87" x2="51.4" y2="674.61" stroke="#44bb44" stroke-width="0.75"/>
<line x1="49.7" y1="668.87" x2="53.1" y2="668.87" stroke="#44bb44" stroke-width="0.75"/>
<line x1="49.7" y1="674.61" x2="53.1" y2="674.61" stroke="#44bb44" stroke-width="0.75"/>
<line x1="66.25" y1="658.35" x2="66.25" y2="664.09" stroke="#44bb44" stroke-width="0.75"/>
<line x1="64.55" y1="658.35" x2="67.95" y2="658.35" stroke="#44bb44" stroke-width="0.75"/>
<line x1="64.55" y1="664.09" x2="67.95" y2="664.09" stroke="#44bb44" stroke-width="0.75"/>
<line x1="81.1" y1="641.15" x2="81.1" y2="646.88" stroke="#44bb44" stroke-width="0.75"/>
<line x1="79.4" y1="641.15" x2="82.8" y2="641.15" stroke="#44bb44" stroke-width="0.75"/>
<line x1="79.4" y1="646.88" x2="82.8" y2="646.88" stroke="#44bb44" stroke-width="0.75"/>
<line x1="110.8" y1="652.62" x2="110.8" y2="658.35" stroke="#44bb44" stroke-width="0.75"/>
<line x1="109.1" y1="652.62" x2="112.5" y2="652.62" stroke="#44bb44" stroke-width="0.75"/>
<line x1="109.1" y1="658.35" x2="112.5" y2="658.35" stroke="#44bb44" stroke-width="0.75"/>
<line x1="140.5" y1="659.31" x2="140.5" y2="665.05" stroke="#44bb44" stroke-width="0.75"/>
<line x1="138.8" y1="659.31" x2="142.2" y2="659.31" stroke="#44bb44" stroke-width="0.75"/>
<line x1="138.8" y1="665.05" x2="142.2" y2="665.05" stroke="#44bb44" stroke-width="0.75"/>
<line x1="170.2" y1="664.09" x2="170.2" y2="669.83" stroke="#44bb44" stroke-width="0.75"/>
<line x1="168.5" y1="664.09" x2="171.9" y2="664.09" stroke="#44bb44" stroke-width="0.75"/>
<line x1="168.5" y1="669.83" x2="171.9" y2="669.83" stroke="#44bb44" stroke-width="0.75"/>
<polygon points="51.4,669.9 53.1,672.96 49.7,672.96" fill="#44bb44"/>
<polygon points="66.25,659.39 67.95,662.45 64.55,662.45" fill="#44bb44"/>
<polygon points="81.1,642.18 82.8,645.24 79.4,645.24" fill="#44bb44"/>
<polygon points="110.8,653.65 112.5,656.71 109.1,656.71" fill="#44bb44"/>
<polygon points="140.5,660.34 142.2,663.4 138.8,663.4" fill="#44bb44"/>
<polygon points="170.2,665.12 171.9,668.18 168.5,668.18" fill="#44bb44"/>
<path d="M51.4,660.5 L66.25,650.23 L81.1,631.11 L110.8,635.65 L140.5,642.1 L170.2,645.45" stroke="#e8231f" stroke-width="0.9" fill="none" stroke-linejoin="round"/>
<line x1="51.4" y1="655.73" x2="51.4" y2="665.28" stroke="#e8231f" stroke-width="0.75"/>
<line x1="49.7" y1="655.73" x2="53.1" y2="655.73" stroke="#e8231f" stroke-width="0.75"/>
<line x1="49.7" y1="665.28" x2="53.1" y2="665.28" stroke="#e8231f" stroke-width="0.75"/>
<line x1="66.25" y1="644.49" x2="66.25" y2="655.96" stroke="#e8231f" stroke-width="0.75"/>
<line x1="64.55" y1="644.49" x2="67.95" y2="644.49" stroke="#e8231f" stroke-width="0.75"/>
<line x1="64.55" y1="655.96" x2="67.95" y2="655.96" stroke="#e8231f" stroke-width="0.75"/>
<line x1="81.1" y1="625.37" x2="81.1" y2="636.84" stroke="#e8231f" stroke-width="0.75"/>
<line x1="79.4" y1="625.37" x2="82.8" y2="625.37" stroke="#e8231f" stroke-width="0.75"/>
<line x1="79.4" y1="636.84" x2="82.8" y2="636.84" stroke="#e8231f" stroke-width="0.75"/>
<line x1="110.8" y1="630.87" x2="110.8" y2="640.43" stroke="#e8231f" stroke-width="0.75"/>
<line x1="109.1" y1="630.87" x2="112.5" y2="630.87" stroke="#e8231f" stroke-width="0.75"/>
<line x1="109.1" y1="640.43" x2="112.5" y2="640.43" stroke="#e8231f" stroke-width="0.75"/>
<line x1="140.5" y1="637.32" x2="140.5" y2="646.88" stroke="#e8231f" stroke-width="0.75"/>
<line x1="138.8" y1="637.32" x2="142.2" y2="637.32" stroke="#e8231f" stroke-width="0.75"/>
<line x1="138.8" y1="646.88" x2="142.2" y2="646.88" stroke="#e8231f" stroke-width="0.75"/>
<line x1="170.2" y1="641.62" x2="170.2" y2="649.27" stroke="#e8231f" stroke-width="0.75"/>
<line x1="168.5" y1="641.62" x2="171.9" y2="641.62" stroke="#e8231f" stroke-width="0.75"/>
<line x1="168.5" y1="649.27" x2="171.9" y2="649.27" stroke="#e8231f" stroke-width="0.75"/>
<rect x="49.6" y="658.71" width="3.6" height="3.6" fill="#e8231f"/>
<rect x="64.45" y="648.43" width="3.6" height="3.6" fill="#e8231f"/>
<rect x="79.3" y="629.31" width="3.6" height="3.6" fill="#e8231f"/>
<rect x="109" y="633.85" width="3.6" height="3.6" fill="#e8231f"/>
<rect x="138.7" y="640.3" width="3.6" height="3.6" fill="#e8231f"/>
<rect x="168.4" y="643.65" width="3.6" height="3.6" fill="#e8231f"/>
<path d="M51.4,642.1 L66.25,626.81 L81.1,613.9 L110.8,613.9 L140.5,622.74 L170.2,631.11" stroke="#1b48a6" stroke-width="0.9" fill="none" stroke-linejoin="round"/>
<line x1="51.4" y1="635.41" x2="51.4" y2="648.79" stroke="#1b48a6" stroke-width="0.75"/>
<line x1="49.7" y1="635.41" x2="53.1" y2="635.41" stroke="#1b48a6" stroke-width="0.75"/>
<line x1="49.7" y1="648.79" x2="53.1" y2="648.79" stroke="#1b48a6" stroke-width="0.75"/>
<line x1="66.25" y1="623.46" x2="66.25" y2="630.15" stroke="#1b48a6" stroke-width="0.75"/>
<line x1="64.55" y1="623.46" x2="67.95" y2="623.46" stroke="#1b48a6" stroke-width="0.75"/>
<line x1="64.55" y1="630.15" x2="67.95" y2="630.15" stroke="#1b48a6" stroke-width="0.75"/>
<line x1="140.5" y1="619.88" x2="140.5" y2="625.61" stroke="#1b48a6" stroke-width="0.75"/>
<line x1="138.8" y1="619.88" x2="142.2" y2="619.88" stroke="#1b48a6" stroke-width="0.75"/>
<line x1="138.8" y1="625.61" x2="142.2" y2="625.61" stroke="#1b48a6" stroke-width="0.75"/>
<line x1="170.2" y1="627.28" x2="170.2" y2="634.93" stroke="#1b48a6" stroke-width="0.75"/>
<line x1="168.5" y1="627.28" x2="171.9" y2="627.28" stroke="#1b48a6" stroke-width="0.75"/>
<line x1="168.5" y1="634.93" x2="171.9" y2="634.93" stroke="#1b48a6" stroke-width="0.75"/>
<circle cx="51.4" cy="642.1" r="1.9" fill="#1b48a6"/>
<circle cx="66.25" cy="626.81" r="1.9" fill="#1b48a6"/>
<circle cx="81.1" cy="613.9" r="1.9" fill="#1b48a6"/>
<circle cx="110.8" cy="613.9" r="1.9" fill="#1b48a6"/>
<circle cx="140.5" cy="622.74" r="1.9" fill="#1b48a6"/>
<circle cx="170.2" cy="631.11" r="1.9" fill="#1b48a6"/>
<text class="sb" x="66.25" y="696.43" font-size="6.8" text-anchor="middle">15</text>
<text class="sb" x="108.5" y="586.82" font-size="9" text-anchor="middle">PTT</text>
<text class="sb" x="116.2" y="706.99" font-size="7.8" text-anchor="middle">Time(min)</text>
<text class="sb" x="28.98" y="642" font-size="7.2" text-anchor="middle" transform="rotate(-90 28.98 642)">glucose(mmol/L)</text>
<text class="sb" x="66.25" y="601.25" font-size="6.2" text-anchor="middle">‡‡‡</text>
<circle cx="62.25" cy="604.9" r="1.2" fill="#000"/>
<circle cx="66.25" cy="604.9" r="1.2" fill="#000"/>
<circle cx="70.25" cy="604.9" r="1.2" fill="#000"/>
<text class="sb" x="81.1" y="601.25" font-size="6.2" text-anchor="middle">‡</text>
<circle cx="77.1" cy="604.9" r="1.2" fill="#000"/>
<circle cx="81.1" cy="604.9" r="1.2" fill="#000"/>
<circle cx="85.1" cy="604.9" r="1.2" fill="#000"/>
<text class="sb" x="110.8" y="594.05" font-size="6.2" text-anchor="middle">‡‡</text>
<circle cx="106.8" cy="597.3" r="1.2" fill="#000"/>
<circle cx="110.8" cy="597.3" r="1.2" fill="#000"/>
<circle cx="114.8" cy="597.3" r="1.2" fill="#000"/>
<text class="sb" x="110.8" y="607.25" font-size="6.2" text-anchor="middle">††</text>
<text class="sb" x="140.5" y="594.05" font-size="6.2" text-anchor="middle">‡‡</text>
<circle cx="136.5" cy="597.3" r="1.2" fill="#000"/>
<circle cx="140.5" cy="597.3" r="1.2" fill="#000"/>
<circle cx="144.5" cy="597.3" r="1.2" fill="#000"/>
<text class="sb" x="140.5" y="607.25" font-size="6.2" text-anchor="middle">††</text>
<circle cx="166.2" cy="597.3" r="1.2" fill="#000"/>
<circle cx="170.2" cy="597.3" r="1.2" fill="#000"/>
<circle cx="174.2" cy="597.3" r="1.2" fill="#000"/>
<text class="sb" x="170.2" y="607.25" font-size="6.2" text-anchor="middle">††</text>
<rect x="212.3" y="620.7" width="8.1" height="65.3" fill="none" stroke="#1b48a6" stroke-width="1.5"/>
<line x1="216.35" y1="618.48" x2="216.35" y2="622.93" stroke="#1b48a6" stroke-width="0.8"/>
<line x1="214.35" y1="618.48" x2="218.35" y2="618.48" stroke="#1b48a6" stroke-width="0.8"/>
<line x1="214.35" y1="622.93" x2="218.35" y2="622.93" stroke="#1b48a6" stroke-width="0.8"/>
<circle cx="215.35" cy="611.8" r="1.2" fill="#1b48a6"/>
<circle cx="216.35" cy="625.16" r="1.2" fill="#1b48a6"/>
<circle cx="218.35" cy="622.93" r="1.2" fill="#1b48a6"/>
<circle cx="214.35" cy="620.7" r="1.2" fill="#1b48a6"/>
<rect x="227" y="638.14" width="8.1" height="47.86" fill="none" stroke="#e8231f" stroke-width="1.5"/>
<line x1="231.05" y1="632.95" x2="231.05" y2="643.34" stroke="#e8231f" stroke-width="0.8"/>
<line x1="229.05" y1="632.95" x2="233.05" y2="632.95" stroke="#e8231f" stroke-width="0.8"/>
<line x1="229.05" y1="643.34" x2="233.05" y2="643.34" stroke="#e8231f" stroke-width="0.8"/>
<rect x="229.85" y="625.44" width="2.4" height="2.4" fill="#e8231f"/>
<rect x="227.85" y="631" width="2.4" height="2.4" fill="#e8231f"/>
<rect x="231.85" y="632.86" width="2.4" height="2.4" fill="#e8231f"/>
<rect x="229.85" y="661.43" width="2.4" height="2.4" fill="#e8231f"/>
<rect x="230.85" y="640.28" width="2.4" height="2.4" fill="#e8231f"/>
<rect x="241.4" y="651.5" width="8.1" height="34.5" fill="none" stroke="#2ea42e" stroke-width="1.5"/>
<line x1="245.45" y1="649.27" x2="245.45" y2="653.72" stroke="#2ea42e" stroke-width="0.8"/>
<line x1="243.45" y1="649.27" x2="247.45" y2="649.27" stroke="#2ea42e" stroke-width="0.8"/>
<line x1="243.45" y1="653.72" x2="247.45" y2="653.72" stroke="#2ea42e" stroke-width="0.8"/>
<polygon points="243.45,642.78 244.65,644.94 242.25,644.94" fill="#2ea42e"/>
<polygon points="247.45,647.6 248.65,649.76 246.25,649.76" fill="#2ea42e"/>
<polygon points="245.45,658.73 246.65,660.89 244.25,660.89" fill="#2ea42e"/>
<polygon points="248.45,651.31 249.65,653.47 247.25,653.47" fill="#2ea42e"/>
<line x1="206.9" y1="611.5" x2="206.9" y2="686.65" stroke="#000" stroke-width="1.3"/>
<line x1="202.3" y1="686" x2="206.9" y2="686" stroke="#000" stroke-width="1.17"/>
<text class="sb" x="202" y="687.93" font-size="5.4" text-anchor="end">2000</text>
<line x1="202.3" y1="667.45" x2="206.9" y2="667.45" stroke="#000" stroke-width="1.17"/>
<text class="sb" x="202" y="669.38" font-size="5.4" text-anchor="end">2500</text>
<line x1="202.3" y1="648.9" x2="206.9" y2="648.9" stroke="#000" stroke-width="1.17"/>
<text class="sb" x="202" y="650.83" font-size="5.4" text-anchor="end">3000</text>
<line x1="202.3" y1="630.35" x2="206.9" y2="630.35" stroke="#000" stroke-width="1.17"/>
<text class="sb" x="202" y="632.28" font-size="5.4" text-anchor="end">3500</text>
<line x1="202.3" y1="611.8" x2="206.9" y2="611.8" stroke="#000" stroke-width="1.17"/>
<text class="sb" x="202" y="613.73" font-size="5.4" text-anchor="end">4000</text>
<line x1="206.25" y1="686" x2="256.4" y2="686" stroke="#000" stroke-width="1.3"/>
<line x1="216.35" y1="686" x2="216.35" y2="688.6" stroke="#000" stroke-width="1"/>
<text class="sb" x="216.35" y="694.67" font-size="5.5" text-anchor="middle">AL</text>
<line x1="231.05" y1="686" x2="231.05" y2="688.6" stroke="#000" stroke-width="1"/>
<text class="sb" x="231.05" y="694.67" font-size="5.5" text-anchor="middle">MF</text>
<line x1="245.45" y1="686" x2="245.45" y2="688.6" stroke="#000" stroke-width="1"/>
<text class="sb" x="245.45" y="694.67" font-size="5.5" text-anchor="middle">EODF</text>
<text class="sb" x="186.74" y="648.7" font-size="5.7" text-anchor="middle" transform="rotate(-90 186.74 648.7)">AUC</text>
<line x1="214.9" y1="600.4" x2="245.8" y2="600.4" stroke="#000" stroke-width="0.8"/>
<circle cx="227.4" cy="597.4" r="0.9" fill="#000"/>
<circle cx="230.3" cy="597.4" r="0.9" fill="#000"/>
<circle cx="233.2" cy="597.4" r="0.9" fill="#000"/>
<line x1="214.9" y1="608.1" x2="230.7" y2="608.1" stroke="#000" stroke-width="0.8"/>
<circle cx="221.35" cy="605.4" r="0.9" fill="#000"/>
<circle cx="224.25" cy="605.4" r="0.9" fill="#000"/>
<line x1="231.2" y1="614.3" x2="246.3" y2="614.3" stroke="#000" stroke-width="0.8"/>
<circle cx="238.4" cy="611.6" r="0.9" fill="#000"/>
<text class="sb" x="284.8" y="589.3" font-size="17.7" stroke="#000" stroke-width="0.3">I</text>
<line x1="307.2" y1="600" x2="307.2" y2="686.05" stroke="#000" stroke-width="1.3"/>
<line x1="303.7" y1="675.61" x2="307.2" y2="675.61" stroke="#000" stroke-width="1.17"/>
<text class="sb" x="302.4" y="678.04" font-size="6.8" text-anchor="end">20</text>
<line x1="303.7" y1="651.96" x2="307.2" y2="651.96" stroke="#000" stroke-width="1.17"/>
<text class="sb" x="302.4" y="654.39" font-size="6.8" text-anchor="end">25</text>
<line x1="303.7" y1="628.31" x2="307.2" y2="628.31" stroke="#000" stroke-width="1.17"/>
<text class="sb" x="302.4" y="630.74" font-size="6.8" text-anchor="end">30</text>
<line x1="303.7" y1="612.23" x2="307.2" y2="612.23" stroke="#000" stroke-width="1.17"/>
<text class="sb" x="302.4" y="614.66" font-size="6.8" text-anchor="end" textLength="12.4" lengthAdjust="spacingAndGlyphs">33.4</text>
<line x1="303.7" y1="604.66" x2="307.2" y2="604.66" stroke="#000" stroke-width="1.17"/>
<text class="sb" x="302.4" y="607.09" font-size="6.8" text-anchor="end">35</text>
<line x1="306.55" y1="685.4" x2="432.1" y2="685.4" stroke="#000" stroke-width="1.3"/>
<line x1="307.2" y1="685.4" x2="307.2" y2="688.8" stroke="#000" stroke-width="1.17"/>
<text class="sb" x="307.2" y="695.23" font-size="6.8" text-anchor="middle">0</text>
<line x1="320.65" y1="685.4" x2="320.65" y2="688.8" stroke="#000" stroke-width="1.17"/>
<line x1="334.11" y1="685.4" x2="334.11" y2="688.8" stroke="#000" stroke-width="1.17"/>
<text class="sb" x="334.11" y="695.23" font-size="6.8" text-anchor="middle">30</text>
<line x1="361.02" y1="685.4" x2="361.02" y2="688.8" stroke="#000" stroke-width="1.17"/>
<text class="sb" x="361.02" y="695.23" font-size="6.8" text-anchor="middle">60</text>
<line x1="387.93" y1="685.4" x2="387.93" y2="688.8" stroke="#000" stroke-width="1.17"/>
<text class="sb" x="387.93" y="695.23" font-size="6.8" text-anchor="middle">90</text>
<line x1="414.84" y1="685.4" x2="414.84" y2="688.8" stroke="#000" stroke-width="1.17"/>
<text class="sb" x="414.84" y="695.23" font-size="6.8" text-anchor="middle">120</text>
<line x1="307.2" y1="612.23" x2="434.2" y2="612.23" stroke="#000" stroke-width="0.9" stroke-dasharray="1.1 1.45"/>
<path d="M307.2,660 L320.65,641.08 L334.11,625 L361.02,629.73 L387.93,635.88 L414.84,639.66" stroke="#1f6b37" stroke-width="0.9" fill="none" stroke-linejoin="round"/>
<line x1="307.2" y1="654.32" x2="307.2" y2="665.68" stroke="#1f6b37" stroke-width="0.75"/>
<line x1="305.5" y1="654.32" x2="308.9" y2="654.32" stroke="#1f6b37" stroke-width="0.75"/>
<line x1="305.5" y1="665.68" x2="308.9" y2="665.68" stroke="#1f6b37" stroke-width="0.75"/>
<line x1="320.65" y1="636.35" x2="320.65" y2="645.81" stroke="#1f6b37" stroke-width="0.75"/>
<line x1="318.95" y1="636.35" x2="322.35" y2="636.35" stroke="#1f6b37" stroke-width="0.75"/>
<line x1="318.95" y1="645.81" x2="322.35" y2="645.81" stroke="#1f6b37" stroke-width="0.75"/>
<line x1="334.11" y1="620.27" x2="334.11" y2="629.73" stroke="#1f6b37" stroke-width="0.75"/>
<line x1="332.41" y1="620.27" x2="335.81" y2="620.27" stroke="#1f6b37" stroke-width="0.75"/>
<line x1="332.41" y1="629.73" x2="335.81" y2="629.73" stroke="#1f6b37" stroke-width="0.75"/>
<line x1="361.02" y1="625.47" x2="361.02" y2="633.98" stroke="#1f6b37" stroke-width="0.75"/>
<line x1="359.32" y1="625.47" x2="362.72" y2="625.47" stroke="#1f6b37" stroke-width="0.75"/>
<line x1="359.32" y1="633.98" x2="362.72" y2="633.98" stroke="#1f6b37" stroke-width="0.75"/>
<line x1="387.93" y1="632.09" x2="387.93" y2="639.66" stroke="#1f6b37" stroke-width="0.75"/>
<line x1="386.23" y1="632.09" x2="389.63" y2="632.09" stroke="#1f6b37" stroke-width="0.75"/>
<line x1="386.23" y1="639.66" x2="389.63" y2="639.66" stroke="#1f6b37" stroke-width="0.75"/>
<line x1="414.84" y1="636.82" x2="414.84" y2="642.5" stroke="#1f6b37" stroke-width="0.75"/>
<line x1="413.14" y1="636.82" x2="416.54" y2="636.82" stroke="#1f6b37" stroke-width="0.75"/>
<line x1="413.14" y1="642.5" x2="416.54" y2="642.5" stroke="#1f6b37" stroke-width="0.75"/>
<polygon points="307.2,658.16 308.9,661.22 305.5,661.22" fill="#1f6b37"/>
<polygon points="320.65,639.24 322.35,642.3 318.95,642.3" fill="#1f6b37"/>
<polygon points="334.11,623.16 335.81,626.22 332.41,626.22" fill="#1f6b37"/>
<polygon points="361.02,627.89 362.72,630.95 359.32,630.95" fill="#1f6b37"/>
<polygon points="387.93,634.04 389.63,637.1 386.23,637.1" fill="#1f6b37"/>
<polygon points="414.84,637.82 416.54,640.88 413.14,640.88" fill="#1f6b37"/>
<path d="M307.2,652.43 L320.65,628.31 L334.11,616.48 L361.02,623.11 L387.93,627.84 L414.84,632.57" stroke="#a51c24" stroke-width="0.9" fill="none" stroke-linejoin="round"/>
<line x1="307.2" y1="647.7" x2="307.2" y2="657.16" stroke="#a51c24" stroke-width="0.75"/>
<line x1="305.5" y1="647.7" x2="308.9" y2="647.7" stroke="#a51c24" stroke-width="0.75"/>
<line x1="305.5" y1="657.16" x2="308.9" y2="657.16" stroke="#a51c24" stroke-width="0.75"/>
<line x1="320.65" y1="623.58" x2="320.65" y2="633.04" stroke="#a51c24" stroke-width="0.75"/>
<line x1="318.95" y1="623.58" x2="322.35" y2="623.58" stroke="#a51c24" stroke-width="0.75"/>
<line x1="318.95" y1="633.04" x2="322.35" y2="633.04" stroke="#a51c24" stroke-width="0.75"/>
<line x1="334.11" y1="611.75" x2="334.11" y2="621.21" stroke="#a51c24" stroke-width="0.75"/>
<line x1="332.41" y1="611.75" x2="335.81" y2="611.75" stroke="#a51c24" stroke-width="0.75"/>
<line x1="332.41" y1="621.21" x2="335.81" y2="621.21" stroke="#a51c24" stroke-width="0.75"/>
<line x1="361.02" y1="620.27" x2="361.02" y2="625.94" stroke="#a51c24" stroke-width="0.75"/>
<line x1="359.32" y1="620.27" x2="362.72" y2="620.27" stroke="#a51c24" stroke-width="0.75"/>
<line x1="359.32" y1="625.94" x2="362.72" y2="625.94" stroke="#a51c24" stroke-width="0.75"/>
<line x1="387.93" y1="625.47" x2="387.93" y2="630.2" stroke="#a51c24" stroke-width="0.75"/>
<line x1="386.23" y1="625.47" x2="389.63" y2="625.47" stroke="#a51c24" stroke-width="0.75"/>
<line x1="386.23" y1="630.2" x2="389.63" y2="630.2" stroke="#a51c24" stroke-width="0.75"/>
<line x1="414.84" y1="630.2" x2="414.84" y2="634.93" stroke="#a51c24" stroke-width="0.75"/>
<line x1="413.14" y1="630.2" x2="416.54" y2="630.2" stroke="#a51c24" stroke-width="0.75"/>
<line x1="413.14" y1="634.93" x2="416.54" y2="634.93" stroke="#a51c24" stroke-width="0.75"/>
<rect x="305.4" y="650.63" width="3.6" height="3.6" fill="#a51c24"/>
<rect x="318.85" y="626.51" width="3.6" height="3.6" fill="#a51c24"/>
<rect x="332.31" y="614.68" width="3.6" height="3.6" fill="#a51c24"/>
<rect x="359.22" y="621.31" width="3.6" height="3.6" fill="#a51c24"/>
<rect x="386.13" y="626.04" width="3.6" height="3.6" fill="#a51c24"/>
<rect x="413.04" y="630.77" width="3.6" height="3.6" fill="#a51c24"/>
<path d="M307.2,629.25 L320.65,615.06 L334.11,612.23 L361.02,612.23 L387.93,615.06 L414.84,621.21" stroke="#1d2a6b" stroke-width="0.9" fill="none" stroke-linejoin="round"/>
<line x1="307.2" y1="622.16" x2="307.2" y2="636.35" stroke="#1d2a6b" stroke-width="0.75"/>
<line x1="305.5" y1="622.16" x2="308.9" y2="622.16" stroke="#1d2a6b" stroke-width="0.75"/>
<line x1="305.5" y1="636.35" x2="308.9" y2="636.35" stroke="#1d2a6b" stroke-width="0.75"/>
<line x1="320.65" y1="612.7" x2="320.65" y2="617.43" stroke="#1d2a6b" stroke-width="0.75"/>
<line x1="318.95" y1="612.7" x2="322.35" y2="612.7" stroke="#1d2a6b" stroke-width="0.75"/>
<line x1="318.95" y1="617.43" x2="322.35" y2="617.43" stroke="#1d2a6b" stroke-width="0.75"/>
<line x1="414.84" y1="617.43" x2="414.84" y2="625" stroke="#1d2a6b" stroke-width="0.75"/>
<line x1="413.14" y1="617.43" x2="416.54" y2="617.43" stroke="#1d2a6b" stroke-width="0.75"/>
<line x1="413.14" y1="625" x2="416.54" y2="625" stroke="#1d2a6b" stroke-width="0.75"/>
<circle cx="307.2" cy="629.25" r="1.9" fill="#1d2a6b"/>
<circle cx="320.65" cy="615.06" r="1.9" fill="#1d2a6b"/>
<circle cx="334.11" cy="612.23" r="1.9" fill="#1d2a6b"/>
<circle cx="361.02" cy="612.23" r="1.9" fill="#1d2a6b"/>
<circle cx="387.93" cy="615.06" r="1.9" fill="#1d2a6b"/>
<circle cx="414.84" cy="621.21" r="1.9" fill="#1d2a6b"/>
<text class="sb" x="320.65" y="695.23" font-size="6.8" text-anchor="middle">1</text>
<text class="sb" x="320.65" y="702.93" font-size="6.8" text-anchor="middle">5</text>
<text class="sb" x="360.7" y="586.43" font-size="7.9" text-anchor="middle">PTT</text>
<text class="sb" x="369.9" y="706.11" font-size="7" text-anchor="middle">Time(min)</text>
<text class="sb" x="287.18" y="642.3" font-size="7.2" text-anchor="middle" transform="rotate(-90 287.18 642.3)">glucose(mmol/L)</text>
<circle cx="316.65" cy="606.7" r="1.2" fill="#000"/>
<circle cx="320.65" cy="606.7" r="1.2" fill="#000"/>
<circle cx="324.65" cy="606.7" r="1.2" fill="#000"/>
<circle cx="361.02" cy="606.7" r="1.2" fill="#000"/>
<circle cx="385.93" cy="606.7" r="1.2" fill="#000"/>
<circle cx="389.93" cy="606.7" r="1.2" fill="#000"/>
<circle cx="412.84" cy="606.7" r="1.2" fill="#000"/>
<circle cx="416.84" cy="606.7" r="1.2" fill="#000"/>
<rect x="464.3" y="615.27" width="8.2" height="68.73" fill="none" stroke="#1d2a6b" stroke-width="1.5"/>
<line x1="468.4" y1="613.56" x2="468.4" y2="616.98" stroke="#1d2a6b" stroke-width="0.8"/>
<line x1="466.4" y1="613.56" x2="470.4" y2="613.56" stroke="#1d2a6b" stroke-width="0.8"/>
<line x1="466.4" y1="616.98" x2="470.4" y2="616.98" stroke="#1d2a6b" stroke-width="0.8"/>
<circle cx="466.4" cy="614.12" r="1.2" fill="#1d2a6b"/>
<circle cx="470.4" cy="613.27" r="1.2" fill="#1d2a6b"/>
<circle cx="468.4" cy="621.25" r="1.2" fill="#1d2a6b"/>
<circle cx="471.4" cy="614.12" r="1.2" fill="#1d2a6b"/>
<rect x="478.5" y="623.25" width="8.2" height="60.75" fill="none" stroke="#a51c24" stroke-width="1.5"/>
<line x1="482.6" y1="620.97" x2="482.6" y2="625.53" stroke="#a51c24" stroke-width="0.8"/>
<line x1="480.6" y1="620.97" x2="484.6" y2="620.97" stroke="#a51c24" stroke-width="0.8"/>
<line x1="480.6" y1="625.53" x2="484.6" y2="625.53" stroke="#a51c24" stroke-width="0.8"/>
<rect x="481.4" y="615.77" width="2.4" height="2.4" fill="#a51c24"/>
<rect x="478.4" y="620.05" width="2.4" height="2.4" fill="#a51c24"/>
<rect x="484.4" y="619.48" width="2.4" height="2.4" fill="#a51c24"/>
<rect x="481.4" y="626.32" width="2.4" height="2.4" fill="#a51c24"/>
<rect x="492.85" y="629.23" width="8.2" height="54.77" fill="none" stroke="#1f6b37" stroke-width="1.5"/>
<line x1="496.95" y1="625.81" x2="496.95" y2="632.65" stroke="#1f6b37" stroke-width="0.8"/>
<line x1="494.95" y1="625.81" x2="498.95" y2="625.81" stroke="#1f6b37" stroke-width="0.8"/>
<line x1="494.95" y1="632.65" x2="498.95" y2="632.65" stroke="#1f6b37" stroke-width="0.8"/>
<polygon points="493.95,618.24 495.15,620.4 492.75,620.4" fill="#1f6b37"/>
<polygon points="496.95,617.67 498.15,619.83 495.75,619.83" fill="#1f6b37"/>
<polygon points="499.95,617.96 501.15,620.12 498.75,620.12" fill="#1f6b37"/>
<polygon points="496.95,628.5 498.15,630.66 495.75,630.66" fill="#1f6b37"/>
<line x1="458.5" y1="611.5" x2="458.5" y2="684.65" stroke="#000" stroke-width="1.3"/>
<line x1="453.9" y1="669.7" x2="458.5" y2="669.7" stroke="#000" stroke-width="1.17"/>
<text class="sb" x="453.6" y="671.63" font-size="5.4" text-anchor="end">2000</text>
<line x1="453.9" y1="641.2" x2="458.5" y2="641.2" stroke="#000" stroke-width="1.17"/>
<text class="sb" x="453.6" y="643.13" font-size="5.4" text-anchor="end">3000</text>
<line x1="453.9" y1="612.7" x2="458.5" y2="612.7" stroke="#000" stroke-width="1.17"/>
<text class="sb" x="453.6" y="614.63" font-size="5.4" text-anchor="end">4000</text>
<line x1="457.85" y1="684" x2="507.2" y2="684" stroke="#000" stroke-width="1.3"/>
<line x1="468.4" y1="684" x2="468.4" y2="686.6" stroke="#000" stroke-width="1"/>
<text class="sb" x="468.4" y="692.97" font-size="5.5" text-anchor="middle">AL</text>
<line x1="482.6" y1="684" x2="482.6" y2="686.6" stroke="#000" stroke-width="1"/>
<text class="sb" x="482.6" y="692.97" font-size="5.5" text-anchor="middle">MF</text>
<line x1="496.95" y1="684" x2="496.95" y2="686.6" stroke="#000" stroke-width="1"/>
<text class="sb" x="496.95" y="692.97" font-size="5.5" text-anchor="middle">EODF</text>
<text class="sb" x="440.04" y="647.9" font-size="5.7" text-anchor="middle" transform="rotate(-90 440.04 647.9)">AUC</text>
<line x1="467.4" y1="601.4" x2="497.1" y2="601.4" stroke="#000" stroke-width="0.8"/>
<circle cx="480.55" cy="598.2" r="0.9" fill="#000"/>
<circle cx="483.45" cy="598.2" r="0.9" fill="#000"/>
</svg>
</body></html>
